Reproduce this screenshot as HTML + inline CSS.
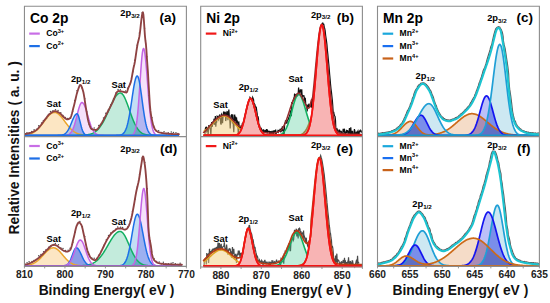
<!DOCTYPE html>
<html><head><meta charset="utf-8"><style>
html,body{margin:0;padding:0;background:#fff;}
body{width:550px;height:303px;overflow:hidden;}
svg{display:block;font-family:"Liberation Sans",sans-serif;font-weight:bold;}
</style></head><body>
<svg width="550" height="303" viewBox="0 0 550 303">
<rect width="550" height="303" fill="#fff"/>
<path d="M24.9,135.4 L24.9,135 L25.4,134.94 L25.9,134.88 L26.4,134.8 L26.9,134.72 L27.4,134.63 L27.9,134.53 L28.4,134.41 L28.9,134.29 L29.4,134.15 L29.9,134 L30.4,133.83 L30.9,133.65 L31.4,133.45 L31.9,133.23 L32.4,132.99 L32.9,132.74 L33.4,132.46 L33.9,132.17 L34.4,131.85 L34.9,131.51 L35.4,131.14 L35.9,130.75 L36.4,130.34 L36.9,129.91 L37.4,129.45 L37.9,128.97 L38.4,128.46 L38.9,127.93 L39.4,127.38 L39.9,126.81 L40.4,126.23 L40.9,125.62 L41.4,125 L41.9,124.36 L42.4,123.71 L42.9,123.05 L43.4,122.39 L43.9,121.72 L44.4,121.05 L44.9,120.38 L45.4,119.72 L45.9,119.06 L46.4,118.42 L46.9,117.79 L47.4,117.18 L47.9,116.59 L48.4,116.03 L48.9,115.5 L49.4,115.01 L49.9,114.54 L50.4,114.12 L50.9,113.74 L51.4,113.4 L51.9,113.11 L52.4,112.86 L52.9,112.67 L53.4,112.53 L53.9,112.44 L54.4,112.4 L54.9,112.42 L55.4,112.49 L55.9,112.61 L56.4,112.79 L56.9,113.02 L57.4,113.29 L57.9,113.62 L58.4,113.99 L58.9,114.41 L59.4,114.86 L59.9,115.35 L60.4,115.88 L60.9,116.44 L61.4,117.02 L61.9,117.63 L62.4,118.26 L62.9,118.91 L63.4,119.57 L63.9,120.23 L64.4,120.91 L64.9,121.59 L65.4,122.26 L65.9,122.93 L66.4,123.6 L66.9,124.26 L67.4,124.9 L67.9,125.53 L68.4,126.15 L68.9,126.74 L69.4,127.32 L69.9,127.88 L70.4,128.41 L70.9,128.93 L71.4,129.41 L71.9,129.88 L72.4,130.32 L72.9,130.74 L73.4,131.13 L73.9,131.5 L74.4,131.84 L74.9,132.16 L75.4,132.46 L75.9,132.74 L76.4,133 L76.9,133.24 L77.4,133.46 L77.9,133.66 L78.4,133.84 L78.9,134.01 L79.4,134.16 L79.9,134.3 L80.4,134.43 L80.9,134.54 L81.4,134.64 L81.9,134.73 L82.4,134.81 L82.9,134.89 L83.4,134.95 L83.9,135.01 L84.4,135.06 L84.9,135.1 L85.4,135.14 L85.9,135.18 L86.4,135.21 L86.9,135.24 L87.4,135.26 L87.9,135.28 L88.4,135.3 L88.9,135.31 L88.9,135.4Z" fill="#fce6c3"/>
<path d="M80.4,135.4 L80.4,135.32 L80.9,135.3 L81.4,135.29 L81.9,135.27 L82.4,135.25 L82.9,135.22 L83.4,135.19 L83.9,135.16 L84.4,135.13 L84.9,135.09 L85.4,135.04 L85.9,134.99 L86.4,134.93 L86.9,134.86 L87.4,134.79 L87.9,134.7 L88.4,134.61 L88.9,134.51 L89.4,134.39 L89.9,134.26 L90.4,134.12 L90.9,133.96 L91.4,133.79 L91.9,133.6 L92.4,133.39 L92.9,133.16 L93.4,132.91 L93.9,132.63 L94.4,132.33 L94.9,132.01 L95.4,131.66 L95.9,131.28 L96.4,130.87 L96.9,130.43 L97.4,129.96 L97.9,129.46 L98.4,128.92 L98.9,128.34 L99.4,127.73 L99.9,127.09 L100.4,126.41 L100.9,125.69 L101.4,124.93 L101.9,124.14 L102.4,123.31 L102.9,122.44 L103.4,121.54 L103.9,120.61 L104.4,119.64 L104.9,118.65 L105.4,117.62 L105.9,116.58 L106.4,115.5 L106.9,114.41 L107.4,113.3 L107.9,112.18 L108.4,111.05 L108.9,109.91 L109.4,108.77 L109.9,107.64 L110.4,106.51 L110.9,105.4 L111.4,104.31 L111.9,103.24 L112.4,102.19 L112.9,101.18 L113.4,100.21 L113.9,99.28 L114.4,98.4 L114.9,97.58 L115.4,96.8 L115.9,96.1 L116.4,95.45 L116.9,94.88 L117.4,94.37 L117.9,93.95 L118.4,93.6 L118.9,93.32 L119.4,93.13 L119.9,93.03 L120.4,93 L120.9,93.09 L121.4,93.32 L121.9,93.66 L122.4,94.14 L122.9,94.73 L123.4,95.44 L123.9,96.26 L124.4,97.18 L124.9,98.19 L125.4,99.29 L125.9,100.46 L126.4,101.7 L126.9,103 L127.4,104.34 L127.9,105.72 L128.4,107.12 L128.9,108.54 L129.4,109.97 L129.9,111.4 L130.4,112.81 L130.9,114.21 L131.4,115.58 L131.9,116.92 L132.4,118.23 L132.9,119.49 L133.4,120.7 L133.9,121.86 L134.4,122.97 L134.9,124.03 L135.4,125.02 L135.9,125.96 L136.4,126.84 L136.9,127.66 L137.4,128.43 L137.9,129.13 L138.4,129.79 L138.9,130.39 L139.4,130.94 L139.9,131.44 L140.4,131.9 L140.9,132.31 L141.4,132.68 L141.9,133.02 L142.4,133.32 L142.9,133.59 L143.4,133.83 L143.9,134.04 L144.4,134.22 L144.9,134.39 L145.4,134.53 L145.9,134.66 L146.4,134.77 L146.9,134.86 L147.4,134.94 L147.9,135.02 L148.4,135.08 L148.9,135.13 L149.4,135.17 L149.9,135.21 L150.4,135.24 L150.9,135.27 L151.4,135.29 L151.9,135.31 L151.9,135.4Z" fill="#c3ebdc"/>
<path d="M64.9,135.4 L64.9,135.31 L65.4,135.27 L65.9,135.22 L66.4,135.15 L66.9,135.06 L67.4,134.94 L67.9,134.78 L68.4,134.59 L68.9,134.34 L69.4,134.03 L69.9,133.64 L70.4,133.17 L70.9,132.6 L71.4,131.92 L71.9,131.12 L72.4,130.19 L72.9,129.12 L73.4,127.9 L73.9,126.54 L74.4,125.04 L74.9,123.4 L75.4,121.63 L75.9,119.77 L76.4,117.83 L76.9,115.84 L77.4,113.85 L77.9,111.89 L78.4,110.01 L78.9,108.25 L79.4,106.66 L79.9,105.28 L80.4,104.14 L80.9,103.29 L81.4,102.74 L81.9,102.51 L82.4,102.58 L82.9,102.91 L83.4,103.48 L83.9,104.28 L84.4,105.29 L84.9,106.49 L85.4,107.86 L85.9,109.37 L86.4,110.98 L86.9,112.66 L87.4,114.4 L87.9,116.15 L88.4,117.88 L88.9,119.59 L89.4,121.24 L89.9,122.81 L90.4,124.29 L90.9,125.68 L91.4,126.95 L91.9,128.12 L92.4,129.17 L92.9,130.11 L93.4,130.95 L93.9,131.68 L94.4,132.31 L94.9,132.86 L95.4,133.32 L95.9,133.72 L96.4,134.05 L96.9,134.32 L97.4,134.54 L97.9,134.73 L98.4,134.88 L98.9,134.99 L99.4,135.09 L99.9,135.16 L100.4,135.22 L100.9,135.27 L101.4,135.3 L101.4,135.4Z" fill="#f5e1fa"/>
<path d="M130.9,135.4 L130.9,135.27 L131.4,135.18 L131.9,135.04 L132.4,134.83 L132.9,134.51 L133.4,134.05 L133.9,133.38 L134.4,132.44 L134.9,131.15 L135.4,129.42 L135.9,127.17 L136.4,124.28 L136.9,120.7 L137.4,116.35 L137.9,111.21 L138.4,105.31 L138.9,98.72 L139.4,91.59 L139.9,84.14 L140.4,76.63 L140.9,69.38 L141.4,62.73 L141.9,57.03 L142.4,52.59 L142.9,49.67 L143.4,48.44 L143.9,48.83 L144.4,50.57 L144.9,53.57 L145.4,57.68 L145.9,62.73 L146.4,68.51 L146.9,74.78 L147.4,81.31 L147.9,87.89 L148.4,94.32 L148.9,100.42 L149.4,106.09 L149.9,111.21 L150.4,115.75 L150.9,119.68 L151.4,123.03 L151.9,125.81 L152.4,128.08 L152.9,129.9 L153.4,131.33 L153.9,132.44 L154.4,133.28 L154.9,133.9 L155.4,134.36 L155.9,134.69 L156.4,134.92 L156.9,135.08 L157.4,135.19 L157.9,135.27 L158.4,135.32 L158.4,135.4Z" fill="#f5e1fa"/>
<path d="M59.4,135.4 L59.4,135.31 L59.9,135.28 L60.4,135.24 L60.9,135.19 L61.4,135.12 L61.9,135.03 L62.4,134.91 L62.9,134.77 L63.4,134.6 L63.9,134.38 L64.4,134.12 L64.9,133.81 L65.4,133.43 L65.9,132.99 L66.4,132.48 L66.9,131.89 L67.4,131.21 L67.9,130.45 L68.4,129.61 L68.9,128.68 L69.4,127.67 L69.9,126.59 L70.4,125.45 L70.9,124.26 L71.4,123.04 L71.9,121.8 L72.4,120.58 L72.9,119.39 L73.4,118.25 L73.9,117.2 L74.4,116.25 L74.9,115.43 L75.4,114.76 L75.9,114.26 L76.4,113.94 L76.9,113.8 L77.4,113.97 L77.9,114.64 L78.4,115.77 L78.9,117.29 L79.4,119.1 L79.9,121.07 L80.4,123.12 L80.9,125.12 L81.4,127.01 L81.9,128.71 L82.4,130.2 L82.9,131.45 L83.4,132.48 L83.9,133.29 L84.4,133.91 L84.9,134.37 L85.4,134.71 L85.9,134.95 L86.4,135.11 L86.9,135.22 L87.4,135.29 L87.4,135.4Z" fill="#c3def5"/>
<path d="M118.4,135.4 L118.4,135.29 L118.9,135.25 L119.4,135.19 L119.9,135.11 L120.4,135.01 L120.9,134.88 L121.4,134.7 L121.9,134.48 L122.4,134.2 L122.9,133.84 L123.4,133.4 L123.9,132.85 L124.4,132.18 L124.9,131.38 L125.4,130.42 L125.9,129.28 L126.4,127.95 L126.9,126.41 L127.4,124.65 L127.9,122.66 L128.4,120.43 L128.9,117.97 L129.4,115.29 L129.9,112.39 L130.4,109.32 L130.9,106.09 L131.4,102.76 L131.9,99.37 L132.4,95.98 L132.9,92.66 L133.4,89.46 L133.9,86.47 L134.4,83.74 L134.9,81.34 L135.4,79.33 L135.9,77.76 L136.4,76.67 L136.9,76.1 L137.4,76.05 L137.9,76.63 L138.4,77.83 L138.9,79.61 L139.4,81.92 L139.9,84.69 L140.4,87.84 L140.9,91.27 L141.4,94.89 L141.9,98.62 L142.4,102.37 L142.9,106.05 L143.4,109.61 L143.9,112.98 L144.4,116.12 L144.9,118.99 L145.4,121.59 L145.9,123.91 L146.4,125.94 L146.9,127.69 L147.4,129.19 L147.9,130.45 L148.4,131.5 L148.9,132.35 L149.4,133.05 L149.9,133.61 L150.4,134.05 L150.9,134.39 L151.4,134.65 L151.9,134.85 L152.4,135.01 L152.9,135.12 L153.4,135.2 L153.9,135.26 L154.4,135.3 L154.4,135.4Z" fill="#c3def5"/>
<path d="M80.4,135.4 L80.4,135.32 L80.9,135.3 L81.4,135.29 L81.9,135.27 L82.4,135.25 L82.9,135.22 L83.4,135.19 L83.9,135.16 L84.4,135.13 L84.9,135.1 L85.4,135.14 L85.9,135.18 L86.4,135.21 L86.9,135.24 L87.4,135.26 L87.9,135.28 L88.4,135.3 L88.9,135.31 L88.9,135.4Z" fill="#c8e0c8"/>
<path d="M64.9,135.4 L64.9,135.31 L65.4,135.27 L65.9,135.22 L66.4,135.15 L66.9,135.06 L67.4,134.94 L67.9,134.78 L68.4,134.59 L68.9,134.34 L69.4,134.03 L69.9,133.64 L70.4,133.17 L70.9,132.6 L71.4,131.92 L71.9,131.12 L72.4,130.32 L72.9,130.74 L73.4,131.13 L73.9,131.5 L74.4,131.84 L74.9,132.16 L75.4,132.46 L75.9,132.74 L76.4,133 L76.9,133.24 L77.4,133.46 L77.9,133.66 L78.4,133.84 L78.9,134.01 L79.4,134.16 L79.9,134.3 L80.4,134.43 L80.9,134.54 L81.4,134.64 L81.9,134.73 L82.4,134.81 L82.9,134.89 L83.4,134.95 L83.9,135.01 L84.4,135.06 L84.9,135.1 L85.4,135.14 L85.9,135.18 L86.4,135.21 L86.9,135.24 L87.4,135.26 L87.9,135.28 L88.4,135.3 L88.9,135.31 L88.9,135.4Z" fill="#e8d0e8"/>
<path d="M59.4,135.4 L59.4,135.31 L59.9,135.28 L60.4,135.24 L60.9,135.19 L61.4,135.12 L61.9,135.03 L62.4,134.91 L62.9,134.77 L63.4,134.6 L63.9,134.38 L64.4,134.12 L64.9,133.81 L65.4,133.43 L65.9,132.99 L66.4,132.48 L66.9,131.89 L67.4,131.21 L67.9,130.45 L68.4,129.61 L68.9,128.68 L69.4,127.67 L69.9,127.88 L70.4,128.41 L70.9,128.93 L71.4,129.41 L71.9,129.88 L72.4,130.32 L72.9,130.74 L73.4,131.13 L73.9,131.5 L74.4,131.84 L74.9,132.16 L75.4,132.46 L75.9,132.74 L76.4,133 L76.9,133.24 L77.4,133.46 L77.9,133.66 L78.4,133.84 L78.9,134.01 L79.4,134.16 L79.9,134.3 L80.4,134.43 L80.9,134.54 L81.4,134.64 L81.9,134.73 L82.4,134.81 L82.9,134.89 L83.4,134.95 L83.9,135.01 L84.4,135.06 L84.9,135.1 L85.4,135.14 L85.9,135.18 L86.4,135.21 L86.9,135.24 L87.4,135.29 L87.4,135.4Z" fill="#b8c8e0"/>
<path d="M80.4,135.4 L80.4,135.32 L80.9,135.3 L81.4,135.29 L81.9,135.27 L82.4,135.25 L82.9,135.22 L83.4,135.19 L83.9,135.16 L84.4,135.13 L84.9,135.09 L85.4,135.04 L85.9,134.99 L86.4,134.93 L86.9,134.86 L87.4,134.79 L87.9,134.7 L88.4,134.61 L88.9,134.51 L89.4,134.39 L89.9,134.26 L90.4,134.12 L90.9,133.96 L91.4,133.79 L91.9,133.6 L92.4,133.39 L92.9,133.16 L93.4,132.91 L93.9,132.63 L94.4,132.33 L94.9,132.86 L95.4,133.32 L95.9,133.72 L96.4,134.05 L96.9,134.32 L97.4,134.54 L97.9,134.73 L98.4,134.88 L98.9,134.99 L99.4,135.09 L99.9,135.16 L100.4,135.22 L100.9,135.27 L101.4,135.3 L101.4,135.4Z" fill="#8cc0d0"/>
<path d="M130.9,135.4 L130.9,135.27 L131.4,135.18 L131.9,135.04 L132.4,134.83 L132.9,134.51 L133.4,134.05 L133.9,133.38 L134.4,132.44 L134.9,131.15 L135.4,129.42 L135.9,127.17 L136.4,126.84 L136.9,127.66 L137.4,128.43 L137.9,129.13 L138.4,129.79 L138.9,130.39 L139.4,130.94 L139.9,131.44 L140.4,131.9 L140.9,132.31 L141.4,132.68 L141.9,133.02 L142.4,133.32 L142.9,133.59 L143.4,133.83 L143.9,134.04 L144.4,134.22 L144.9,134.39 L145.4,134.53 L145.9,134.66 L146.4,134.77 L146.9,134.86 L147.4,134.94 L147.9,135.02 L148.4,135.08 L148.9,135.13 L149.4,135.17 L149.9,135.21 L150.4,135.24 L150.9,135.27 L151.4,135.29 L151.9,135.31 L151.9,135.4Z" fill="#8cc0d0"/>
<path d="M80.4,135.4 L80.4,135.32 L80.9,135.3 L81.4,135.29 L81.9,135.27 L82.4,135.25 L82.9,135.22 L83.4,135.19 L83.9,135.16 L84.4,135.13 L84.9,135.09 L85.4,135.04 L85.9,134.99 L86.4,135.11 L86.9,135.22 L87.4,135.29 L87.4,135.4Z" fill="#6ec8c8"/>
<path d="M118.4,135.4 L118.4,135.29 L118.9,135.25 L119.4,135.19 L119.9,135.11 L120.4,135.01 L120.9,134.88 L121.4,134.7 L121.9,134.48 L122.4,134.2 L122.9,133.84 L123.4,133.4 L123.9,132.85 L124.4,132.18 L124.9,131.38 L125.4,130.42 L125.9,129.28 L126.4,127.95 L126.9,126.41 L127.4,124.65 L127.9,122.66 L128.4,120.43 L128.9,117.97 L129.4,115.29 L129.9,112.39 L130.4,112.81 L130.9,114.21 L131.4,115.58 L131.9,116.92 L132.4,118.23 L132.9,119.49 L133.4,120.7 L133.9,121.86 L134.4,122.97 L134.9,124.03 L135.4,125.02 L135.9,125.96 L136.4,126.84 L136.9,127.66 L137.4,128.43 L137.9,129.13 L138.4,129.79 L138.9,130.39 L139.4,130.94 L139.9,131.44 L140.4,131.9 L140.9,132.31 L141.4,132.68 L141.9,133.02 L142.4,133.32 L142.9,133.59 L143.4,133.83 L143.9,134.04 L144.4,134.22 L144.9,134.39 L145.4,134.53 L145.9,134.66 L146.4,134.77 L146.9,134.86 L147.4,134.94 L147.9,135.02 L148.4,135.08 L148.9,135.13 L149.4,135.17 L149.9,135.21 L150.4,135.24 L150.9,135.27 L151.4,135.29 L151.9,135.31 L151.9,135.4Z" fill="#6ec8c8"/>
<path d="M64.9,135.4 L64.9,135.31 L65.4,135.27 L65.9,135.22 L66.4,135.15 L66.9,135.06 L67.4,134.94 L67.9,134.78 L68.4,134.59 L68.9,134.34 L69.4,134.03 L69.9,133.64 L70.4,133.17 L70.9,132.6 L71.4,131.92 L71.9,131.12 L72.4,130.19 L72.9,129.12 L73.4,127.9 L73.9,126.54 L74.4,125.04 L74.9,123.4 L75.4,121.63 L75.9,119.77 L76.4,117.83 L76.9,115.84 L77.4,113.97 L77.9,114.64 L78.4,115.77 L78.9,117.29 L79.4,119.1 L79.9,121.07 L80.4,123.12 L80.9,125.12 L81.4,127.01 L81.9,128.71 L82.4,130.2 L82.9,131.45 L83.4,132.48 L83.9,133.29 L84.4,133.91 L84.9,134.37 L85.4,134.71 L85.9,134.95 L86.4,135.11 L86.9,135.22 L87.4,135.29 L87.4,135.4Z" fill="#b4b6f0"/>
<path d="M130.9,135.4 L130.9,135.27 L131.4,135.18 L131.9,135.04 L132.4,134.83 L132.9,134.51 L133.4,134.05 L133.9,133.38 L134.4,132.44 L134.9,131.15 L135.4,129.42 L135.9,127.17 L136.4,124.28 L136.9,120.7 L137.4,116.35 L137.9,111.21 L138.4,105.31 L138.9,98.72 L139.4,91.59 L139.9,84.69 L140.4,87.84 L140.9,91.27 L141.4,94.89 L141.9,98.62 L142.4,102.37 L142.9,106.05 L143.4,109.61 L143.9,112.98 L144.4,116.12 L144.9,118.99 L145.4,121.59 L145.9,123.91 L146.4,125.94 L146.9,127.69 L147.4,129.19 L147.9,130.45 L148.4,131.5 L148.9,132.35 L149.4,133.05 L149.9,133.61 L150.4,134.05 L150.9,134.39 L151.4,134.65 L151.9,134.85 L152.4,135.01 L152.9,135.12 L153.4,135.2 L153.9,135.26 L154.4,135.3 L154.4,135.4Z" fill="#b4b6f0"/>
<path d="M64.9,135.4 L64.9,135.31 L65.4,135.27 L65.9,135.22 L66.4,135.15 L66.9,135.06 L67.4,134.94 L67.9,134.78 L68.4,134.59 L68.9,134.34 L69.4,134.03 L69.9,133.64 L70.4,133.17 L70.9,132.6 L71.4,131.92 L71.9,131.12 L72.4,130.32 L72.9,130.74 L73.4,131.13 L73.9,131.5 L74.4,131.84 L74.9,132.16 L75.4,132.46 L75.9,132.74 L76.4,133 L76.9,133.24 L77.4,133.46 L77.9,133.66 L78.4,133.84 L78.9,134.01 L79.4,134.16 L79.9,134.3 L80.4,134.43 L80.9,134.54 L81.4,134.64 L81.9,134.73 L82.4,134.81 L82.9,134.89 L83.4,134.95 L83.9,135.01 L84.4,135.06 L84.9,135.1 L85.4,135.14 L85.9,135.18 L86.4,135.21 L86.9,135.24 L87.4,135.29 L87.4,135.4Z" fill="#a8b0e0"/>
<path d="M80.4,135.4 L80.4,135.32 L80.9,135.3 L81.4,135.29 L81.9,135.27 L82.4,135.25 L82.9,135.22 L83.4,135.19 L83.9,135.16 L84.4,135.13 L84.9,135.09 L85.4,135.04 L85.9,134.99 L86.4,135.11 L86.9,135.22 L87.4,135.29 L87.4,135.4Z" fill="#66aac0"/>
<path d="M130.9,135.4 L130.9,135.27 L131.4,135.18 L131.9,135.04 L132.4,134.83 L132.9,134.51 L133.4,134.05 L133.9,133.38 L134.4,132.44 L134.9,131.15 L135.4,129.42 L135.9,127.17 L136.4,126.84 L136.9,127.66 L137.4,128.43 L137.9,129.13 L138.4,129.79 L138.9,130.39 L139.4,130.94 L139.9,131.44 L140.4,131.9 L140.9,132.31 L141.4,132.68 L141.9,133.02 L142.4,133.32 L142.9,133.59 L143.4,133.83 L143.9,134.04 L144.4,134.22 L144.9,134.39 L145.4,134.53 L145.9,134.66 L146.4,134.77 L146.9,134.86 L147.4,134.94 L147.9,135.02 L148.4,135.08 L148.9,135.13 L149.4,135.17 L149.9,135.21 L150.4,135.24 L150.9,135.27 L151.4,135.29 L151.9,135.31 L151.9,135.4Z" fill="#66aac0"/>
<path d="M64.9,135.4 L64.9,135.31 L65.4,135.27 L65.9,135.22 L66.4,135.15 L66.9,135.06 L67.4,134.94 L67.9,134.78 L68.4,134.59 L68.9,134.34 L69.4,134.03 L69.9,133.64 L70.4,133.17 L70.9,132.6 L71.4,131.92 L71.9,131.12 L72.4,130.19 L72.9,129.12 L73.4,127.9 L73.9,126.54 L74.4,125.04 L74.9,123.4 L75.4,121.63 L75.9,119.77 L76.4,117.83 L76.9,115.84 L77.4,113.97 L77.9,114.64 L78.4,115.77 L78.9,117.29 L79.4,119.1 L79.9,121.07 L80.4,123.12 L80.9,125.12 L81.4,127.01 L81.9,128.71 L82.4,130.2 L82.9,131.45 L83.4,132.48 L83.9,133.29 L84.4,133.91 L84.9,134.37 L85.4,134.71 L85.9,134.95 L86.4,135.11 L86.9,135.22 L87.4,135.29 L87.4,135.4Z" fill="#98a8ec"/>
<path d="M24.9,135 L25.4,134.94 L25.9,134.88 L26.4,134.8 L26.9,134.72 L27.4,134.63 L27.9,134.53 L28.4,134.41 L28.9,134.29 L29.4,134.15 L29.9,134 L30.4,133.83 L30.9,133.65 L31.4,133.45 L31.9,133.23 L32.4,132.99 L32.9,132.74 L33.4,132.46 L33.9,132.17 L34.4,131.85 L34.9,131.51 L35.4,131.14 L35.9,130.75 L36.4,130.34 L36.9,129.91 L37.4,129.45 L37.9,128.97 L38.4,128.46 L38.9,127.93 L39.4,127.38 L39.9,126.81 L40.4,126.23 L40.9,125.62 L41.4,125 L41.9,124.36 L42.4,123.71 L42.9,123.05 L43.4,122.39 L43.9,121.72 L44.4,121.05 L44.9,120.38 L45.4,119.72 L45.9,119.06 L46.4,118.42 L46.9,117.79 L47.4,117.18 L47.9,116.59 L48.4,116.03 L48.9,115.5 L49.4,115.01 L49.9,114.54 L50.4,114.12 L50.9,113.74 L51.4,113.4 L51.9,113.11 L52.4,112.86 L52.9,112.67 L53.4,112.53 L53.9,112.44 L54.4,112.4 L54.9,112.42 L55.4,112.49 L55.9,112.61 L56.4,112.79 L56.9,113.02 L57.4,113.29 L57.9,113.62 L58.4,113.99 L58.9,114.41 L59.4,114.86 L59.9,115.35 L60.4,115.88 L60.9,116.44 L61.4,117.02 L61.9,117.63 L62.4,118.26 L62.9,118.91 L63.4,119.57 L63.9,120.23 L64.4,120.91 L64.9,121.59 L65.4,122.26 L65.9,122.93 L66.4,123.6 L66.9,124.26 L67.4,124.9 L67.9,125.53 L68.4,126.15 L68.9,126.74 L69.4,127.32 L69.9,127.88 L70.4,128.41 L70.9,128.93 L71.4,129.41 L71.9,129.88 L72.4,130.32 L72.9,130.74 L73.4,131.13 L73.9,131.5 L74.4,131.84 L74.9,132.16 L75.4,132.46 L75.9,132.74 L76.4,133 L76.9,133.24 L77.4,133.46 L77.9,133.66 L78.4,133.84 L78.9,134.01 L79.4,134.16 L79.9,134.3 L80.4,134.43 L80.9,134.54 L81.4,134.64 L81.9,134.73 L82.4,134.81 L82.9,134.89 L83.4,134.95 L83.9,135.01 L84.4,135.06 L84.9,135.1 L85.4,135.14 L85.9,135.18 L86.4,135.21 L86.9,135.24 L87.4,135.26 L87.9,135.28 L88.4,135.3 L88.9,135.31 L89.4,135.33 L89.9,135.34 L90.4,135.35 L90.9,135.36 L91.4,135.36 L91.9,135.37 L92.4,135.37 L92.9,135.38 L93.4,135.38 L93.9,135.38 L94.4,135.39 L94.9,135.39 L95.4,135.39 L95.9,135.39 L96.4,135.39 L96.9,135.4 L97.4,135.4 L97.9,135.4 L98.4,135.4 L98.9,135.4 L99.4,135.4 L99.9,135.4 L100.4,135.4 L100.9,135.4 L101.4,135.4 L101.9,135.4 L102.4,135.4 L102.9,135.4 L103.4,135.4 L103.9,135.4 L104.4,135.4 L104.9,135.4 L105.4,135.4 L105.9,135.4 L106.4,135.4 L106.9,135.4 L107.4,135.4 L107.9,135.4 L108.4,135.4 L108.9,135.4 L109.4,135.4 L109.9,135.4 L110.4,135.4 L110.9,135.4 L111.4,135.4 L111.9,135.4 L112.4,135.4 L112.9,135.4 L113.4,135.4 L113.9,135.4 L114.4,135.4 L114.9,135.4 L115.4,135.4 L115.9,135.4 L116.4,135.4 L116.9,135.4 L117.4,135.4 L117.9,135.4 L118.4,135.4 L118.9,135.4 L119.4,135.4 L119.9,135.4 L120.4,135.4 L120.9,135.4 L121.4,135.4 L121.9,135.4 L122.4,135.4 L122.9,135.4 L123.4,135.4 L123.9,135.4 L124.4,135.4 L124.9,135.4 L125.4,135.4 L125.9,135.4 L126.4,135.4 L126.9,135.4 L127.4,135.4 L127.9,135.4 L128.4,135.4 L128.9,135.4 L129.4,135.4 L129.9,135.4 L130.4,135.4 L130.9,135.4 L131.4,135.4 L131.9,135.4 L132.4,135.4 L132.9,135.4 L133.4,135.4 L133.9,135.4 L134.4,135.4 L134.9,135.4 L135.4,135.4 L135.9,135.4 L136.4,135.4 L136.9,135.4 L137.4,135.4 L137.9,135.4 L138.4,135.4 L138.9,135.4 L139.4,135.4 L139.9,135.4 L140.4,135.4 L140.9,135.4 L141.4,135.4 L141.9,135.4 L142.4,135.4 L142.9,135.4 L143.4,135.4 L143.9,135.4 L144.4,135.4 L144.9,135.4 L145.4,135.4 L145.9,135.4 L146.4,135.4 L146.9,135.4 L147.4,135.4 L147.9,135.4 L148.4,135.4 L148.9,135.4 L149.4,135.4 L149.9,135.4 L150.4,135.4 L150.9,135.4 L151.4,135.4 L151.9,135.4 L152.4,135.4 L152.9,135.4 L153.4,135.4 L153.9,135.4 L154.4,135.4 L154.9,135.4 L155.4,135.4 L155.9,135.4 L156.4,135.4 L156.9,135.4 L157.4,135.4 L157.9,135.4 L158.4,135.4 L158.9,135.4 L159.4,135.4 L159.9,135.4 L160.4,135.4 L160.9,135.4 L161.4,135.4 L161.9,135.4 L162.4,135.4 L162.9,135.4 L163.4,135.4 L163.9,135.4 L164.4,135.4 L164.9,135.4 L165.4,135.4 L165.9,135.4 L166.4,135.4 L166.9,135.4 L167.4,135.4 L167.9,135.4 L168.4,135.4 L168.9,135.4 L169.4,135.4 L169.9,135.4 L170.4,135.4 L170.9,135.4 L171.4,135.4 L171.9,135.4 L172.4,135.4 L172.9,135.4 L173.4,135.4 L173.9,135.4 L174.4,135.4 L174.9,135.4 L175.4,135.4 L175.9,135.4 L176.4,135.4 L176.9,135.4 L177.4,135.4 L177.9,135.4 L178.4,135.4 L178.9,135.4" fill="none" stroke="#eba42a" stroke-width="1.5" stroke-linejoin="round"/>
<path d="M24.9,135.4 L25.4,135.4 L25.9,135.4 L26.4,135.4 L26.9,135.4 L27.4,135.4 L27.9,135.4 L28.4,135.4 L28.9,135.4 L29.4,135.4 L29.9,135.4 L30.4,135.4 L30.9,135.4 L31.4,135.4 L31.9,135.4 L32.4,135.4 L32.9,135.4 L33.4,135.4 L33.9,135.4 L34.4,135.4 L34.9,135.4 L35.4,135.4 L35.9,135.4 L36.4,135.4 L36.9,135.4 L37.4,135.4 L37.9,135.4 L38.4,135.4 L38.9,135.4 L39.4,135.4 L39.9,135.4 L40.4,135.4 L40.9,135.4 L41.4,135.4 L41.9,135.4 L42.4,135.4 L42.9,135.4 L43.4,135.4 L43.9,135.4 L44.4,135.4 L44.9,135.4 L45.4,135.4 L45.9,135.4 L46.4,135.4 L46.9,135.4 L47.4,135.4 L47.9,135.4 L48.4,135.4 L48.9,135.4 L49.4,135.4 L49.9,135.4 L50.4,135.4 L50.9,135.4 L51.4,135.4 L51.9,135.4 L52.4,135.4 L52.9,135.4 L53.4,135.4 L53.9,135.4 L54.4,135.4 L54.9,135.4 L55.4,135.4 L55.9,135.4 L56.4,135.4 L56.9,135.4 L57.4,135.4 L57.9,135.4 L58.4,135.4 L58.9,135.4 L59.4,135.4 L59.9,135.4 L60.4,135.4 L60.9,135.4 L61.4,135.4 L61.9,135.4 L62.4,135.4 L62.9,135.4 L63.4,135.4 L63.9,135.4 L64.4,135.4 L64.9,135.4 L65.4,135.4 L65.9,135.4 L66.4,135.4 L66.9,135.4 L67.4,135.4 L67.9,135.4 L68.4,135.4 L68.9,135.4 L69.4,135.4 L69.9,135.4 L70.4,135.4 L70.9,135.4 L71.4,135.4 L71.9,135.4 L72.4,135.39 L72.9,135.39 L73.4,135.39 L73.9,135.39 L74.4,135.39 L74.9,135.39 L75.4,135.38 L75.9,135.38 L76.4,135.38 L76.9,135.37 L77.4,135.37 L77.9,135.36 L78.4,135.36 L78.9,135.35 L79.4,135.34 L79.9,135.33 L80.4,135.32 L80.9,135.3 L81.4,135.29 L81.9,135.27 L82.4,135.25 L82.9,135.22 L83.4,135.19 L83.9,135.16 L84.4,135.13 L84.9,135.09 L85.4,135.04 L85.9,134.99 L86.4,134.93 L86.9,134.86 L87.4,134.79 L87.9,134.7 L88.4,134.61 L88.9,134.51 L89.4,134.39 L89.9,134.26 L90.4,134.12 L90.9,133.96 L91.4,133.79 L91.9,133.6 L92.4,133.39 L92.9,133.16 L93.4,132.91 L93.9,132.63 L94.4,132.33 L94.9,132.01 L95.4,131.66 L95.9,131.28 L96.4,130.87 L96.9,130.43 L97.4,129.96 L97.9,129.46 L98.4,128.92 L98.9,128.34 L99.4,127.73 L99.9,127.09 L100.4,126.41 L100.9,125.69 L101.4,124.93 L101.9,124.14 L102.4,123.31 L102.9,122.44 L103.4,121.54 L103.9,120.61 L104.4,119.64 L104.9,118.65 L105.4,117.62 L105.9,116.58 L106.4,115.5 L106.9,114.41 L107.4,113.3 L107.9,112.18 L108.4,111.05 L108.9,109.91 L109.4,108.77 L109.9,107.64 L110.4,106.51 L110.9,105.4 L111.4,104.31 L111.9,103.24 L112.4,102.19 L112.9,101.18 L113.4,100.21 L113.9,99.28 L114.4,98.4 L114.9,97.58 L115.4,96.8 L115.9,96.1 L116.4,95.45 L116.9,94.88 L117.4,94.37 L117.9,93.95 L118.4,93.6 L118.9,93.32 L119.4,93.13 L119.9,93.03 L120.4,93 L120.9,93.09 L121.4,93.32 L121.9,93.66 L122.4,94.14 L122.9,94.73 L123.4,95.44 L123.9,96.26 L124.4,97.18 L124.9,98.19 L125.4,99.29 L125.9,100.46 L126.4,101.7 L126.9,103 L127.4,104.34 L127.9,105.72 L128.4,107.12 L128.9,108.54 L129.4,109.97 L129.9,111.4 L130.4,112.81 L130.9,114.21 L131.4,115.58 L131.9,116.92 L132.4,118.23 L132.9,119.49 L133.4,120.7 L133.9,121.86 L134.4,122.97 L134.9,124.03 L135.4,125.02 L135.9,125.96 L136.4,126.84 L136.9,127.66 L137.4,128.43 L137.9,129.13 L138.4,129.79 L138.9,130.39 L139.4,130.94 L139.9,131.44 L140.4,131.9 L140.9,132.31 L141.4,132.68 L141.9,133.02 L142.4,133.32 L142.9,133.59 L143.4,133.83 L143.9,134.04 L144.4,134.22 L144.9,134.39 L145.4,134.53 L145.9,134.66 L146.4,134.77 L146.9,134.86 L147.4,134.94 L147.9,135.02 L148.4,135.08 L148.9,135.13 L149.4,135.17 L149.9,135.21 L150.4,135.24 L150.9,135.27 L151.4,135.29 L151.9,135.31 L152.4,135.33 L152.9,135.34 L153.4,135.35 L153.9,135.36 L154.4,135.37 L154.9,135.37 L155.4,135.38 L155.9,135.38 L156.4,135.39 L156.9,135.39 L157.4,135.39 L157.9,135.39 L158.4,135.39 L158.9,135.4 L159.4,135.4 L159.9,135.4 L160.4,135.4 L160.9,135.4 L161.4,135.4 L161.9,135.4 L162.4,135.4 L162.9,135.4 L163.4,135.4 L163.9,135.4 L164.4,135.4 L164.9,135.4 L165.4,135.4 L165.9,135.4 L166.4,135.4 L166.9,135.4 L167.4,135.4 L167.9,135.4 L168.4,135.4 L168.9,135.4 L169.4,135.4 L169.9,135.4 L170.4,135.4 L170.9,135.4 L171.4,135.4 L171.9,135.4 L172.4,135.4 L172.9,135.4 L173.4,135.4 L173.9,135.4 L174.4,135.4 L174.9,135.4 L175.4,135.4 L175.9,135.4 L176.4,135.4 L176.9,135.4 L177.4,135.4 L177.9,135.4 L178.4,135.4 L178.9,135.4" fill="none" stroke="#12b062" stroke-width="1.5" stroke-linejoin="round"/>
<path d="M24.9,135.4 L25.4,135.4 L25.9,135.4 L26.4,135.4 L26.9,135.4 L27.4,135.4 L27.9,135.4 L28.4,135.4 L28.9,135.4 L29.4,135.4 L29.9,135.4 L30.4,135.4 L30.9,135.4 L31.4,135.4 L31.9,135.4 L32.4,135.4 L32.9,135.4 L33.4,135.4 L33.9,135.4 L34.4,135.4 L34.9,135.4 L35.4,135.4 L35.9,135.4 L36.4,135.4 L36.9,135.4 L37.4,135.4 L37.9,135.4 L38.4,135.4 L38.9,135.4 L39.4,135.4 L39.9,135.4 L40.4,135.4 L40.9,135.4 L41.4,135.4 L41.9,135.4 L42.4,135.4 L42.9,135.4 L43.4,135.4 L43.9,135.4 L44.4,135.4 L44.9,135.4 L45.4,135.4 L45.9,135.4 L46.4,135.4 L46.9,135.4 L47.4,135.4 L47.9,135.4 L48.4,135.4 L48.9,135.4 L49.4,135.4 L49.9,135.4 L50.4,135.4 L50.9,135.4 L51.4,135.4 L51.9,135.4 L52.4,135.4 L52.9,135.4 L53.4,135.4 L53.9,135.4 L54.4,135.4 L54.9,135.4 L55.4,135.4 L55.9,135.4 L56.4,135.4 L56.9,135.4 L57.4,135.4 L57.9,135.4 L58.4,135.4 L58.9,135.4 L59.4,135.4 L59.9,135.4 L60.4,135.4 L60.9,135.4 L61.4,135.39 L61.9,135.39 L62.4,135.38 L62.9,135.38 L63.4,135.37 L63.9,135.35 L64.4,135.33 L64.9,135.31 L65.4,135.27 L65.9,135.22 L66.4,135.15 L66.9,135.06 L67.4,134.94 L67.9,134.78 L68.4,134.59 L68.9,134.34 L69.4,134.03 L69.9,133.64 L70.4,133.17 L70.9,132.6 L71.4,131.92 L71.9,131.12 L72.4,130.19 L72.9,129.12 L73.4,127.9 L73.9,126.54 L74.4,125.04 L74.9,123.4 L75.4,121.63 L75.9,119.77 L76.4,117.83 L76.9,115.84 L77.4,113.85 L77.9,111.89 L78.4,110.01 L78.9,108.25 L79.4,106.66 L79.9,105.28 L80.4,104.14 L80.9,103.29 L81.4,102.74 L81.9,102.51 L82.4,102.58 L82.9,102.91 L83.4,103.48 L83.9,104.28 L84.4,105.29 L84.9,106.49 L85.4,107.86 L85.9,109.37 L86.4,110.98 L86.9,112.66 L87.4,114.4 L87.9,116.15 L88.4,117.88 L88.9,119.59 L89.4,121.24 L89.9,122.81 L90.4,124.29 L90.9,125.68 L91.4,126.95 L91.9,128.12 L92.4,129.17 L92.9,130.11 L93.4,130.95 L93.9,131.68 L94.4,132.31 L94.9,132.86 L95.4,133.32 L95.9,133.72 L96.4,134.05 L96.9,134.32 L97.4,134.54 L97.9,134.73 L98.4,134.88 L98.9,134.99 L99.4,135.09 L99.9,135.16 L100.4,135.22 L100.9,135.27 L101.4,135.3 L101.9,135.33 L102.4,135.35 L102.9,135.36 L103.4,135.37 L103.9,135.38 L104.4,135.39 L104.9,135.39 L105.4,135.39 L105.9,135.39 L106.4,135.4 L106.9,135.4 L107.4,135.4 L107.9,135.4 L108.4,135.4 L108.9,135.4 L109.4,135.4 L109.9,135.4 L110.4,135.4 L110.9,135.4 L111.4,135.4 L111.9,135.4 L112.4,135.4 L112.9,135.4 L113.4,135.4 L113.9,135.4 L114.4,135.4 L114.9,135.4 L115.4,135.4 L115.9,135.4 L116.4,135.4 L116.9,135.4 L117.4,135.4 L117.9,135.4 L118.4,135.4 L118.9,135.4 L119.4,135.4 L119.9,135.4 L120.4,135.4 L120.9,135.4 L121.4,135.4 L121.9,135.4 L122.4,135.4 L122.9,135.4 L123.4,135.4 L123.9,135.4 L124.4,135.4 L124.9,135.4 L125.4,135.4 L125.9,135.4 L126.4,135.4 L126.9,135.4 L127.4,135.4 L127.9,135.4 L128.4,135.39 L128.9,135.39 L129.4,135.37 L129.9,135.35 L130.4,135.32 L130.9,135.27 L131.4,135.18 L131.9,135.04 L132.4,134.83 L132.9,134.51 L133.4,134.05 L133.9,133.38 L134.4,132.44 L134.9,131.15 L135.4,129.42 L135.9,127.17 L136.4,124.28 L136.9,120.7 L137.4,116.35 L137.9,111.21 L138.4,105.31 L138.9,98.72 L139.4,91.59 L139.9,84.14 L140.4,76.63 L140.9,69.38 L141.4,62.73 L141.9,57.03 L142.4,52.59 L142.9,49.67 L143.4,48.44 L143.9,48.83 L144.4,50.57 L144.9,53.57 L145.4,57.68 L145.9,62.73 L146.4,68.51 L146.9,74.78 L147.4,81.31 L147.9,87.89 L148.4,94.32 L148.9,100.42 L149.4,106.09 L149.9,111.21 L150.4,115.75 L150.9,119.68 L151.4,123.03 L151.9,125.81 L152.4,128.08 L152.9,129.9 L153.4,131.33 L153.9,132.44 L154.4,133.28 L154.9,133.9 L155.4,134.36 L155.9,134.69 L156.4,134.92 L156.9,135.08 L157.4,135.19 L157.9,135.27 L158.4,135.32 L158.9,135.35 L159.4,135.37 L159.9,135.38 L160.4,135.39 L160.9,135.39 L161.4,135.4 L161.9,135.4 L162.4,135.4 L162.9,135.4 L163.4,135.4 L163.9,135.4 L164.4,135.4 L164.9,135.4 L165.4,135.4 L165.9,135.4 L166.4,135.4 L166.9,135.4 L167.4,135.4 L167.9,135.4 L168.4,135.4 L168.9,135.4 L169.4,135.4 L169.9,135.4 L170.4,135.4 L170.9,135.4 L171.4,135.4 L171.9,135.4 L172.4,135.4 L172.9,135.4 L173.4,135.4 L173.9,135.4 L174.4,135.4 L174.9,135.4 L175.4,135.4 L175.9,135.4 L176.4,135.4 L176.9,135.4 L177.4,135.4 L177.9,135.4 L178.4,135.4 L178.9,135.4" fill="none" stroke="#c464e4" stroke-width="1.5" stroke-linejoin="round"/>
<path d="M24.9,135.4 L25.4,135.4 L25.9,135.4 L26.4,135.4 L26.9,135.4 L27.4,135.4 L27.9,135.4 L28.4,135.4 L28.9,135.4 L29.4,135.4 L29.9,135.4 L30.4,135.4 L30.9,135.4 L31.4,135.4 L31.9,135.4 L32.4,135.4 L32.9,135.4 L33.4,135.4 L33.9,135.4 L34.4,135.4 L34.9,135.4 L35.4,135.4 L35.9,135.4 L36.4,135.4 L36.9,135.4 L37.4,135.4 L37.9,135.4 L38.4,135.4 L38.9,135.4 L39.4,135.4 L39.9,135.4 L40.4,135.4 L40.9,135.4 L41.4,135.4 L41.9,135.4 L42.4,135.4 L42.9,135.4 L43.4,135.4 L43.9,135.4 L44.4,135.4 L44.9,135.4 L45.4,135.4 L45.9,135.4 L46.4,135.4 L46.9,135.4 L47.4,135.4 L47.9,135.4 L48.4,135.4 L48.9,135.4 L49.4,135.4 L49.9,135.4 L50.4,135.4 L50.9,135.4 L51.4,135.4 L51.9,135.4 L52.4,135.4 L52.9,135.4 L53.4,135.4 L53.9,135.4 L54.4,135.4 L54.9,135.4 L55.4,135.39 L55.9,135.39 L56.4,135.39 L56.9,135.38 L57.4,135.38 L57.9,135.37 L58.4,135.35 L58.9,135.34 L59.4,135.31 L59.9,135.28 L60.4,135.24 L60.9,135.19 L61.4,135.12 L61.9,135.03 L62.4,134.91 L62.9,134.77 L63.4,134.6 L63.9,134.38 L64.4,134.12 L64.9,133.81 L65.4,133.43 L65.9,132.99 L66.4,132.48 L66.9,131.89 L67.4,131.21 L67.9,130.45 L68.4,129.61 L68.9,128.68 L69.4,127.67 L69.9,126.59 L70.4,125.45 L70.9,124.26 L71.4,123.04 L71.9,121.8 L72.4,120.58 L72.9,119.39 L73.4,118.25 L73.9,117.2 L74.4,116.25 L74.9,115.43 L75.4,114.76 L75.9,114.26 L76.4,113.94 L76.9,113.8 L77.4,113.97 L77.9,114.64 L78.4,115.77 L78.9,117.29 L79.4,119.1 L79.9,121.07 L80.4,123.12 L80.9,125.12 L81.4,127.01 L81.9,128.71 L82.4,130.2 L82.9,131.45 L83.4,132.48 L83.9,133.29 L84.4,133.91 L84.9,134.37 L85.4,134.71 L85.9,134.95 L86.4,135.11 L86.9,135.22 L87.4,135.29 L87.9,135.33 L88.4,135.36 L88.9,135.38 L89.4,135.39 L89.9,135.39 L90.4,135.4 L90.9,135.4 L91.4,135.4 L91.9,135.4 L92.4,135.4 L92.9,135.4 L93.4,135.4 L93.9,135.4 L94.4,135.4 L94.9,135.4 L95.4,135.4 L95.9,135.4 L96.4,135.4 L96.9,135.4 L97.4,135.4 L97.9,135.4 L98.4,135.4 L98.9,135.4 L99.4,135.4 L99.9,135.4 L100.4,135.4 L100.9,135.4 L101.4,135.4 L101.9,135.4 L102.4,135.4 L102.9,135.4 L103.4,135.4 L103.9,135.4 L104.4,135.4 L104.9,135.4 L105.4,135.4 L105.9,135.4 L106.4,135.4 L106.9,135.4 L107.4,135.4 L107.9,135.4 L108.4,135.4 L108.9,135.4 L109.4,135.4 L109.9,135.4 L110.4,135.4 L110.9,135.4 L111.4,135.4 L111.9,135.4 L112.4,135.4 L112.9,135.4 L113.4,135.4 L113.9,135.4 L114.4,135.39 L114.9,135.39 L115.4,135.39 L115.9,135.38 L116.4,135.37 L116.9,135.36 L117.4,135.34 L117.9,135.32 L118.4,135.29 L118.9,135.25 L119.4,135.19 L119.9,135.11 L120.4,135.01 L120.9,134.88 L121.4,134.7 L121.9,134.48 L122.4,134.2 L122.9,133.84 L123.4,133.4 L123.9,132.85 L124.4,132.18 L124.9,131.38 L125.4,130.42 L125.9,129.28 L126.4,127.95 L126.9,126.41 L127.4,124.65 L127.9,122.66 L128.4,120.43 L128.9,117.97 L129.4,115.29 L129.9,112.39 L130.4,109.32 L130.9,106.09 L131.4,102.76 L131.9,99.37 L132.4,95.98 L132.9,92.66 L133.4,89.46 L133.9,86.47 L134.4,83.74 L134.9,81.34 L135.4,79.33 L135.9,77.76 L136.4,76.67 L136.9,76.1 L137.4,76.05 L137.9,76.63 L138.4,77.83 L138.9,79.61 L139.4,81.92 L139.9,84.69 L140.4,87.84 L140.9,91.27 L141.4,94.89 L141.9,98.62 L142.4,102.37 L142.9,106.05 L143.4,109.61 L143.9,112.98 L144.4,116.12 L144.9,118.99 L145.4,121.59 L145.9,123.91 L146.4,125.94 L146.9,127.69 L147.4,129.19 L147.9,130.45 L148.4,131.5 L148.9,132.35 L149.4,133.05 L149.9,133.61 L150.4,134.05 L150.9,134.39 L151.4,134.65 L151.9,134.85 L152.4,135.01 L152.9,135.12 L153.4,135.2 L153.9,135.26 L154.4,135.3 L154.9,135.33 L155.4,135.36 L155.9,135.37 L156.4,135.38 L156.9,135.39 L157.4,135.39 L157.9,135.39 L158.4,135.4 L158.9,135.4 L159.4,135.4 L159.9,135.4 L160.4,135.4 L160.9,135.4 L161.4,135.4 L161.9,135.4 L162.4,135.4 L162.9,135.4 L163.4,135.4 L163.9,135.4 L164.4,135.4 L164.9,135.4 L165.4,135.4 L165.9,135.4 L166.4,135.4 L166.9,135.4 L167.4,135.4 L167.9,135.4 L168.4,135.4 L168.9,135.4 L169.4,135.4 L169.9,135.4 L170.4,135.4 L170.9,135.4 L171.4,135.4 L171.9,135.4 L172.4,135.4 L172.9,135.4 L173.4,135.4 L173.9,135.4 L174.4,135.4 L174.9,135.4 L175.4,135.4 L175.9,135.4 L176.4,135.4 L176.9,135.4 L177.4,135.4 L177.9,135.4 L178.4,135.4 L178.9,135.4" fill="none" stroke="#1c6fe8" stroke-width="1.5" stroke-linejoin="round"/>
<line x1="24.9" y1="135.4" x2="179.1" y2="135.4" stroke="#1c6fe8" stroke-width="1.8"/>
<g fill="#505050"><circle cx="26.95" cy="132.69" r="0.75"/><circle cx="29.27" cy="133.07" r="0.75"/><circle cx="31.77" cy="131.51" r="0.75"/><circle cx="34.11" cy="129.82" r="0.75"/><circle cx="36.73" cy="129.22" r="0.75"/><circle cx="38.74" cy="125.77" r="0.75"/><circle cx="41.55" cy="122.92" r="0.75"/><circle cx="43.33" cy="120.78" r="0.75"/><circle cx="46.47" cy="118.17" r="0.75"/><circle cx="48.59" cy="114.5" r="0.75"/><circle cx="50.51" cy="111.45" r="0.75"/><circle cx="52.95" cy="110.73" r="0.75"/><circle cx="55.49" cy="109.76" r="0.75"/><circle cx="58.07" cy="110.4" r="0.75"/><circle cx="60.77" cy="112.76" r="0.75"/><circle cx="63.01" cy="115.42" r="0.75"/><circle cx="65.43" cy="117.45" r="0.75"/><circle cx="67.52" cy="118.39" r="0.75"/><circle cx="70.5" cy="118.18" r="0.75"/><circle cx="72.67" cy="111.24" r="0.75"/><circle cx="74.68" cy="100.6" r="0.75"/><circle cx="76.96" cy="90.68" r="0.75"/><circle cx="79.62" cy="85.22" r="0.75"/><circle cx="82.01" cy="87.71" r="0.75"/><circle cx="84.78" cy="98.65" r="0.75"/><circle cx="86.67" cy="111.81" r="0.75"/><circle cx="89.28" cy="124.38" r="0.75"/><circle cx="91.62" cy="129.06" r="0.75"/><circle cx="94.2" cy="128.06" r="0.75"/><circle cx="96.32" cy="129.48" r="0.75"/><circle cx="98.77" cy="125.53" r="0.75"/><circle cx="101.51" cy="123.76" r="0.75"/><circle cx="103.5" cy="117.93" r="0.75"/><circle cx="105.75" cy="113.26" r="0.75"/><circle cx="108.24" cy="110.06" r="0.75"/><circle cx="110.86" cy="104.86" r="0.75"/><circle cx="113.49" cy="99.07" r="0.75"/><circle cx="115.81" cy="92.99" r="0.75"/><circle cx="118.04" cy="89.42" r="0.75"/><circle cx="120.32" cy="89.74" r="0.75"/><circle cx="123.14" cy="91.73" r="0.75"/><circle cx="125.61" cy="91.06" r="0.75"/><circle cx="127.62" cy="88.34" r="0.75"/><circle cx="130.21" cy="83.8" r="0.75"/><circle cx="132.89" cy="71.69" r="0.75"/><circle cx="134.71" cy="60.16" r="0.75"/><circle cx="137.16" cy="45.22" r="0.75"/><circle cx="139.36" cy="33.09" r="0.75"/><circle cx="142.17" cy="12.85" r="0.75"/><circle cx="144.58" cy="28.16" r="0.75"/><circle cx="146.86" cy="56.79" r="0.75"/><circle cx="149.29" cy="95.56" r="0.75"/><circle cx="151.99" cy="117.87" r="0.75"/><circle cx="153.82" cy="126.13" r="0.75"/><circle cx="156.75" cy="130.9" r="0.75"/><circle cx="158.65" cy="130.87" r="0.75"/><circle cx="161.65" cy="132.45" r="0.75"/><circle cx="164.06" cy="131.73" r="0.75"/><circle cx="166.18" cy="133.38" r="0.75"/><circle cx="168.18" cy="132.7" r="0.75"/><circle cx="171.27" cy="132.12" r="0.75"/><circle cx="173.46" cy="132.62" r="0.75"/><circle cx="175.96" cy="132.74" r="0.75"/><circle cx="177.93" cy="133.49" r="0.75"/></g>
<path d="M24.9,134.12 L25.4,134.02 L25.9,133.91 L26.4,133.8 L26.9,133.69 L27.4,133.57 L27.9,133.46 L28.4,133.35 L28.9,133.23 L29.4,133.1 L29.9,132.96 L30.4,132.82 L30.9,132.67 L31.4,132.5 L31.9,132.32 L32.4,132.12 L32.9,131.91 L33.4,131.69 L33.9,131.45 L34.4,131.19 L34.9,130.91 L35.4,130.62 L35.9,130.3 L36.4,129.94 L36.9,129.53 L37.4,129.07 L37.9,128.57 L38.4,128.04 L38.9,127.48 L39.4,126.9 L39.9,126.32 L40.4,125.73 L40.9,125.14 L41.4,124.51 L41.9,123.84 L42.4,123.15 L42.9,122.44 L43.4,121.73 L43.9,121.01 L44.4,120.32 L44.9,119.64 L45.4,119 L45.9,118.37 L46.4,117.72 L46.9,117.06 L47.4,116.42 L47.9,115.8 L48.4,115.2 L48.9,114.66 L49.4,114.17 L49.9,113.75 L50.4,113.39 L50.9,113.03 L51.4,112.68 L51.9,112.35 L52.4,112.04 L52.9,111.76 L53.4,111.53 L53.9,111.35 L54.4,111.24 L54.9,111.2 L55.4,111.23 L55.9,111.33 L56.4,111.47 L56.9,111.66 L57.4,111.88 L57.9,112.14 L58.4,112.41 L58.9,112.7 L59.4,112.98 L59.9,113.29 L60.4,113.69 L60.9,114.16 L61.4,114.68 L61.9,115.22 L62.4,115.77 L62.9,116.29 L63.4,116.75 L63.9,117.16 L64.4,117.58 L64.9,118.01 L65.4,118.44 L65.9,118.81 L66.4,119.12 L66.9,119.33 L67.4,119.4 L67.9,119.34 L68.4,119.18 L68.9,118.94 L69.4,118.62 L69.9,118.25 L70.4,117.78 L70.9,116.86 L71.4,115.49 L71.9,113.79 L72.4,111.86 L72.9,109.82 L73.4,107.8 L73.9,105.9 L74.4,103.98 L74.9,101.87 L75.4,99.67 L75.9,97.46 L76.4,95.34 L76.9,93.38 L77.4,91.69 L77.9,90.24 L78.4,88.75 L78.9,87.34 L79.4,86.14 L79.9,85.31 L80.4,85 L80.9,85.3 L81.4,86.13 L81.9,87.35 L82.4,88.83 L82.9,90.44 L83.4,92.25 L83.9,94.83 L84.4,97.96 L84.9,101.37 L85.4,104.74 L85.9,107.8 L86.4,110.71 L86.9,113.71 L87.4,116.63 L87.9,119.29 L88.4,121.53 L88.9,123.23 L89.4,124.76 L89.9,126.17 L90.4,127.38 L90.9,128.29 L91.4,128.84 L91.9,129.09 L92.4,129.3 L92.9,129.48 L93.4,129.64 L93.9,129.77 L94.4,129.88 L94.9,129.95 L95.4,129.99 L95.9,130 L96.4,129.87 L96.9,129.57 L97.4,129.14 L97.9,128.6 L98.4,127.96 L98.9,127.26 L99.4,126.52 L99.9,125.76 L100.4,125.01 L100.9,124.3 L101.4,123.58 L101.9,122.8 L102.4,121.96 L102.9,121.08 L103.4,120.16 L103.9,119.22 L104.4,118.25 L104.9,117.28 L105.4,116.31 L105.9,115.34 L106.4,114.39 L106.9,113.45 L107.4,112.49 L107.9,111.53 L108.4,110.56 L108.9,109.58 L109.4,108.6 L109.9,107.61 L110.4,106.63 L110.9,105.65 L111.4,104.67 L111.9,103.69 L112.4,102.68 L112.9,101.56 L113.4,100.34 L113.9,99.08 L114.4,97.8 L114.9,96.53 L115.4,95.32 L115.9,94.19 L116.4,93.18 L116.9,92.32 L117.4,91.65 L117.9,91.2 L118.4,91.01 L118.9,91.01 L119.4,91.05 L119.9,91.11 L120.4,91.19 L120.9,91.29 L121.4,91.38 L121.9,91.49 L122.4,91.58 L122.9,91.68 L123.4,91.81 L123.9,91.96 L124.4,92.11 L124.9,92.25 L125.4,92.37 L125.9,92.46 L126.4,92.5 L126.9,92.1 L127.4,90.8 L127.9,89.16 L128.4,87.76 L128.9,86.64 L129.4,85.58 L129.9,84.47 L130.4,83.2 L130.9,81.66 L131.4,79.52 L131.9,76.87 L132.4,73.97 L132.9,71.09 L133.4,68.47 L133.9,66.33 L134.4,64.27 L134.9,61.63 L135.4,58.44 L135.9,54.95 L136.4,51.4 L136.9,48.01 L137.4,45.03 L137.9,42.66 L138.4,40.77 L138.9,38.85 L139.4,36.4 L139.9,32.86 L140.4,28.54 L140.9,23.94 L141.4,19.52 L141.9,15.77 L142.4,13.17 L142.9,12.2 L143.4,14.59 L143.9,20.5 L144.4,28.04 L144.9,35.32 L145.4,40.48 L145.9,44 L146.4,50.15 L146.9,57.95 L147.4,65.05 L147.9,71.52 L148.4,80.48 L148.9,88.79 L149.4,97.41 L149.9,105.24 L150.4,110.39 L150.9,114.09 L151.4,117.06 L151.9,119.6 L152.4,121.92 L152.9,124.12 L153.4,125.95 L153.9,127.22 L154.4,128.3 L154.9,129.22 L155.4,129.96 L155.9,130.51 L156.4,130.91 L156.9,131.26 L157.4,131.57 L157.9,131.84 L158.4,132.07 L158.9,132.27 L159.4,132.44 L159.9,132.58 L160.4,132.69 L160.9,132.8 L161.4,132.89 L161.9,132.98 L162.4,133.06 L162.9,133.14 L163.4,133.2 L163.9,133.27 L164.4,133.32 L164.9,133.38 L165.4,133.44 L165.9,133.49 L166.4,133.54 L166.9,133.6 L167.4,133.65 L167.9,133.7 L168.4,133.75 L168.9,133.79 L169.4,133.84 L169.9,133.88 L170.4,133.91 L170.9,133.95 L171.4,133.97 L171.9,134 L172.4,134.02 L172.9,134.03 L173.4,134.05 L173.9,134.07 L174.4,134.09 L174.9,134.1 L175.4,134.12 L175.9,134.14 L176.4,134.15 L176.9,134.17 L177.4,134.18 L177.9,134.19 L178.4,134.21 L178.9,134.22" fill="none" stroke="#8e4242" stroke-width="1.85" stroke-linejoin="round" stroke-linecap="round"/>
<path d="M24.9,265.9 L24.9,265.59 L25.4,265.54 L25.9,265.49 L26.4,265.43 L26.9,265.36 L27.4,265.28 L27.9,265.2 L28.4,265.1 L28.9,265 L29.4,264.88 L29.9,264.76 L30.4,264.61 L30.9,264.46 L31.4,264.29 L31.9,264.11 L32.4,263.9 L32.9,263.69 L33.4,263.45 L33.9,263.2 L34.4,262.92 L34.9,262.63 L35.4,262.32 L35.9,261.99 L36.4,261.63 L36.9,261.26 L37.4,260.87 L37.9,260.46 L38.4,260.02 L38.9,259.57 L39.4,259.11 L39.9,258.62 L40.4,258.13 L40.9,257.61 L41.4,257.09 L41.9,256.56 L42.4,256.02 L42.9,255.47 L43.4,254.92 L43.9,254.37 L44.4,253.83 L44.9,253.29 L45.4,252.76 L45.9,252.24 L46.4,251.73 L46.9,251.25 L47.4,250.78 L47.9,250.34 L48.4,249.93 L48.9,249.54 L49.4,249.19 L49.9,248.88 L50.4,248.6 L50.9,248.36 L51.4,248.16 L51.9,248 L52.4,247.89 L52.9,247.82 L53.4,247.8 L53.9,247.83 L54.4,247.91 L54.9,248.04 L55.4,248.22 L55.9,248.46 L56.4,248.74 L56.9,249.06 L57.4,249.43 L57.9,249.84 L58.4,250.29 L58.9,250.76 L59.4,251.27 L59.9,251.8 L60.4,252.35 L60.9,252.92 L61.4,253.5 L61.9,254.09 L62.4,254.68 L62.9,255.28 L63.4,255.87 L63.9,256.46 L64.4,257.04 L64.9,257.61 L65.4,258.17 L65.9,258.71 L66.4,259.23 L66.9,259.73 L67.4,260.21 L67.9,260.67 L68.4,261.11 L68.9,261.52 L69.4,261.91 L69.9,262.28 L70.4,262.62 L70.9,262.94 L71.4,263.23 L71.9,263.5 L72.4,263.75 L72.9,263.99 L73.4,264.2 L73.9,264.39 L74.4,264.56 L74.9,264.72 L75.4,264.86 L75.9,264.99 L76.4,265.1 L76.9,265.21 L77.4,265.3 L77.9,265.38 L78.4,265.45 L78.9,265.51 L79.4,265.57 L79.9,265.61 L80.4,265.66 L80.9,265.69 L81.4,265.72 L81.9,265.75 L82.4,265.77 L82.9,265.79 L83.4,265.81 L83.4,265.9Z" fill="#fce6c3"/>
<path d="M78.4,265.9 L78.4,265.82 L78.9,265.8 L79.4,265.79 L79.9,265.77 L80.4,265.76 L80.9,265.73 L81.4,265.71 L81.9,265.68 L82.4,265.65 L82.9,265.62 L83.4,265.58 L83.9,265.54 L84.4,265.49 L84.9,265.43 L85.4,265.37 L85.9,265.31 L86.4,265.23 L86.9,265.15 L87.4,265.06 L87.9,264.96 L88.4,264.85 L88.9,264.73 L89.4,264.59 L89.9,264.45 L90.4,264.29 L90.9,264.11 L91.4,263.92 L91.9,263.72 L92.4,263.5 L92.9,263.26 L93.4,263 L93.9,262.72 L94.4,262.42 L94.9,262.1 L95.4,261.75 L95.9,261.38 L96.4,260.99 L96.9,260.58 L97.4,260.14 L97.9,259.67 L98.4,259.17 L98.9,258.65 L99.4,258.11 L99.9,257.53 L100.4,256.93 L100.9,256.31 L101.4,255.66 L101.9,254.98 L102.4,254.28 L102.9,253.55 L103.4,252.8 L103.9,252.03 L104.4,251.24 L104.9,250.43 L105.4,249.61 L105.9,248.77 L106.4,247.92 L106.9,247.06 L107.4,246.19 L107.9,245.32 L108.4,244.45 L108.9,243.58 L109.4,242.72 L109.9,241.86 L110.4,241.02 L110.9,240.19 L111.4,239.37 L111.9,238.58 L112.4,237.82 L112.9,237.08 L113.4,236.38 L113.9,235.71 L114.4,235.08 L114.9,234.49 L115.4,233.95 L115.9,233.45 L116.4,233 L116.9,232.61 L117.4,232.26 L117.9,231.97 L118.4,231.74 L118.9,231.57 L119.4,231.46 L119.9,231.4 L120.4,231.42 L120.9,231.54 L121.4,231.76 L121.9,232.08 L122.4,232.51 L122.9,233.03 L123.4,233.64 L123.9,234.34 L124.4,235.12 L124.9,235.97 L125.4,236.89 L125.9,237.87 L126.4,238.9 L126.9,239.97 L127.4,241.07 L127.9,242.2 L128.4,243.35 L128.9,244.51 L129.4,245.67 L129.9,246.83 L130.4,247.98 L130.9,249.11 L131.4,250.21 L131.9,251.29 L132.4,252.34 L132.9,253.35 L133.4,254.32 L133.9,255.25 L134.4,256.14 L134.9,256.97 L135.4,257.77 L135.9,258.51 L136.4,259.21 L136.9,259.86 L137.4,260.46 L137.9,261.02 L138.4,261.53 L138.9,262.01 L139.4,262.44 L139.9,262.83 L140.4,263.19 L140.9,263.51 L141.4,263.8 L141.9,264.06 L142.4,264.3 L142.9,264.51 L143.4,264.69 L143.9,264.85 L144.4,265 L144.9,265.13 L145.4,265.24 L145.9,265.33 L146.4,265.42 L146.9,265.49 L147.4,265.55 L147.9,265.61 L148.4,265.65 L148.9,265.69 L149.4,265.73 L149.9,265.76 L150.4,265.78 L150.9,265.8 L151.4,265.82 L151.4,265.9Z" fill="#c3ebdc"/>
<path d="M63.4,265.9 L63.4,265.81 L63.9,265.76 L64.4,265.7 L64.9,265.61 L65.4,265.49 L65.9,265.32 L66.4,265.1 L66.9,264.82 L67.4,264.46 L67.9,264.01 L68.4,263.45 L68.9,262.78 L69.4,261.99 L69.9,261.07 L70.4,260.02 L70.9,258.87 L71.4,257.61 L71.9,256.29 L72.4,254.92 L72.9,253.56 L73.4,252.24 L73.9,251.01 L74.4,249.93 L74.9,249.03 L75.4,248.36 L75.9,247.94 L76.4,247.8 L76.9,247.89 L77.4,248.16 L77.9,248.6 L78.4,249.19 L78.9,249.93 L79.4,250.78 L79.9,251.73 L80.4,252.76 L80.9,253.83 L81.4,254.92 L81.9,256.02 L82.4,257.09 L82.9,258.13 L83.4,259.11 L83.9,260.02 L84.4,260.87 L84.9,261.63 L85.4,262.32 L85.9,262.92 L86.4,263.45 L86.9,263.9 L87.4,264.29 L87.9,264.61 L88.4,264.88 L88.9,265.1 L89.4,265.28 L89.9,265.43 L90.4,265.54 L90.9,265.63 L91.4,265.7 L91.9,265.75 L92.4,265.79 L92.4,265.9Z" fill="#c3def5"/>
<path d="M118.4,265.9 L118.4,265.81 L118.9,265.78 L119.4,265.73 L119.9,265.66 L120.4,265.58 L120.9,265.47 L121.4,265.33 L121.9,265.14 L122.4,264.91 L122.9,264.61 L123.4,264.24 L123.9,263.78 L124.4,263.23 L124.9,262.55 L125.4,261.74 L125.9,260.78 L126.4,259.66 L126.9,258.36 L127.4,256.87 L127.9,255.17 L128.4,253.28 L128.9,251.18 L129.4,248.88 L129.9,246.39 L130.4,243.75 L130.9,240.96 L131.4,238.08 L131.9,235.13 L132.4,232.18 L132.9,229.27 L133.4,226.46 L133.9,223.82 L134.4,221.39 L134.9,219.24 L135.4,217.42 L135.9,215.97 L136.4,214.94 L136.9,214.35 L137.4,214.21 L137.9,214.48 L138.4,215.12 L138.9,216.13 L139.4,217.48 L139.9,219.14 L140.4,221.08 L140.9,223.26 L141.4,225.63 L141.9,228.15 L142.4,230.78 L142.9,233.46 L143.4,236.16 L143.9,238.84 L144.4,241.46 L144.9,243.99 L145.4,246.4 L145.9,248.68 L146.4,250.8 L146.9,252.76 L147.4,254.55 L147.9,256.17 L148.4,257.62 L148.9,258.9 L149.4,260.03 L149.9,261.02 L150.4,261.87 L150.9,262.59 L151.4,263.21 L151.9,263.72 L152.4,264.16 L152.9,264.51 L153.4,264.8 L153.9,265.04 L154.4,265.23 L154.9,265.38 L155.4,265.5 L155.9,265.6 L156.4,265.67 L156.9,265.73 L157.4,265.77 L157.9,265.81 L157.9,265.9Z" fill="#c3def5"/>
<path d="M62.4,265.9 L62.4,265.81 L62.9,265.78 L63.4,265.74 L63.9,265.68 L64.4,265.61 L64.9,265.52 L65.4,265.4 L65.9,265.25 L66.4,265.07 L66.9,264.84 L67.4,264.56 L67.9,264.22 L68.4,263.82 L68.9,263.34 L69.4,262.78 L69.9,262.12 L70.4,261.37 L70.9,260.53 L71.4,259.58 L71.9,258.52 L72.4,257.37 L72.9,256.13 L73.4,254.8 L73.9,253.41 L74.4,251.96 L74.9,250.49 L75.4,249.01 L75.9,247.55 L76.4,246.14 L76.9,244.82 L77.4,243.6 L77.9,242.52 L78.4,241.61 L78.9,240.89 L79.4,240.37 L79.9,240.07 L80.4,240 L80.9,240.17 L81.4,240.55 L81.9,241.15 L82.4,241.96 L82.9,242.94 L83.4,244.07 L83.9,245.34 L84.4,246.7 L84.9,248.13 L85.4,249.6 L85.9,251.08 L86.4,252.54 L86.9,253.97 L87.4,255.34 L87.9,256.64 L88.4,257.84 L88.9,258.96 L89.4,259.97 L89.9,260.88 L90.4,261.69 L90.9,262.39 L91.4,263.01 L91.9,263.54 L92.4,263.99 L92.9,264.37 L93.4,264.68 L93.9,264.94 L94.4,265.15 L94.9,265.32 L95.4,265.45 L95.9,265.56 L96.4,265.64 L96.9,265.71 L97.4,265.76 L97.9,265.8 L97.9,265.9Z" fill="#f5e1fa"/>
<path d="M130.4,265.9 L130.4,265.79 L130.9,265.72 L131.4,265.62 L131.9,265.46 L132.4,265.23 L132.9,264.89 L133.4,264.41 L133.9,263.74 L134.4,262.83 L134.9,261.61 L135.4,260.01 L135.9,257.97 L136.4,255.41 L136.9,252.28 L137.4,248.54 L137.9,244.17 L138.4,239.18 L138.9,233.66 L139.4,227.69 L139.9,221.43 L140.4,215.09 L140.9,208.9 L141.4,203.1 L141.9,197.97 L142.4,193.75 L142.9,190.66 L143.4,188.85 L143.9,188.43 L144.4,189.53 L144.9,192.13 L145.4,196.09 L145.9,201.17 L146.4,207.09 L146.9,213.55 L147.4,220.24 L147.9,226.88 L148.4,233.23 L148.9,239.09 L149.4,244.35 L149.9,248.93 L150.4,252.8 L150.9,256 L151.4,258.56 L151.9,260.58 L152.4,262.11 L152.9,263.26 L153.4,264.1 L153.9,264.69 L154.4,265.11 L154.9,265.39 L155.4,265.58 L155.9,265.7 L156.4,265.78 L156.4,265.9Z" fill="#f5e1fa"/>
<path d="M78.4,265.9 L78.4,265.82 L78.9,265.8 L79.4,265.79 L79.9,265.77 L80.4,265.76 L80.9,265.73 L81.4,265.72 L81.9,265.75 L82.4,265.77 L82.9,265.79 L83.4,265.81 L83.4,265.9Z" fill="#c8e0c8"/>
<path d="M63.4,265.9 L63.4,265.81 L63.9,265.76 L64.4,265.7 L64.9,265.61 L65.4,265.49 L65.9,265.32 L66.4,265.1 L66.9,264.82 L67.4,264.46 L67.9,264.01 L68.4,263.45 L68.9,262.78 L69.4,261.99 L69.9,262.28 L70.4,262.62 L70.9,262.94 L71.4,263.23 L71.9,263.5 L72.4,263.75 L72.9,263.99 L73.4,264.2 L73.9,264.39 L74.4,264.56 L74.9,264.72 L75.4,264.86 L75.9,264.99 L76.4,265.1 L76.9,265.21 L77.4,265.3 L77.9,265.38 L78.4,265.45 L78.9,265.51 L79.4,265.57 L79.9,265.61 L80.4,265.66 L80.9,265.69 L81.4,265.72 L81.9,265.75 L82.4,265.77 L82.9,265.79 L83.4,265.81 L83.4,265.9Z" fill="#b8c8e0"/>
<path d="M62.4,265.9 L62.4,265.81 L62.9,265.78 L63.4,265.74 L63.9,265.68 L64.4,265.61 L64.9,265.52 L65.4,265.4 L65.9,265.25 L66.4,265.07 L66.9,264.84 L67.4,264.56 L67.9,264.22 L68.4,263.82 L68.9,263.34 L69.4,262.78 L69.9,262.28 L70.4,262.62 L70.9,262.94 L71.4,263.23 L71.9,263.5 L72.4,263.75 L72.9,263.99 L73.4,264.2 L73.9,264.39 L74.4,264.56 L74.9,264.72 L75.4,264.86 L75.9,264.99 L76.4,265.1 L76.9,265.21 L77.4,265.3 L77.9,265.38 L78.4,265.45 L78.9,265.51 L79.4,265.57 L79.9,265.61 L80.4,265.66 L80.9,265.69 L81.4,265.72 L81.9,265.75 L82.4,265.77 L82.9,265.79 L83.4,265.81 L83.4,265.9Z" fill="#e8d0e8"/>
<path d="M78.4,265.9 L78.4,265.82 L78.9,265.8 L79.4,265.79 L79.9,265.77 L80.4,265.76 L80.9,265.73 L81.4,265.71 L81.9,265.68 L82.4,265.65 L82.9,265.62 L83.4,265.58 L83.9,265.54 L84.4,265.49 L84.9,265.43 L85.4,265.37 L85.9,265.31 L86.4,265.23 L86.9,265.15 L87.4,265.06 L87.9,264.96 L88.4,264.88 L88.9,265.1 L89.4,265.28 L89.9,265.43 L90.4,265.54 L90.9,265.63 L91.4,265.7 L91.9,265.75 L92.4,265.79 L92.4,265.9Z" fill="#6ec8c8"/>
<path d="M118.4,265.9 L118.4,265.81 L118.9,265.78 L119.4,265.73 L119.9,265.66 L120.4,265.58 L120.9,265.47 L121.4,265.33 L121.9,265.14 L122.4,264.91 L122.9,264.61 L123.4,264.24 L123.9,263.78 L124.4,263.23 L124.9,262.55 L125.4,261.74 L125.9,260.78 L126.4,259.66 L126.9,258.36 L127.4,256.87 L127.9,255.17 L128.4,253.28 L128.9,251.18 L129.4,248.88 L129.9,246.83 L130.4,247.98 L130.9,249.11 L131.4,250.21 L131.9,251.29 L132.4,252.34 L132.9,253.35 L133.4,254.32 L133.9,255.25 L134.4,256.14 L134.9,256.97 L135.4,257.77 L135.9,258.51 L136.4,259.21 L136.9,259.86 L137.4,260.46 L137.9,261.02 L138.4,261.53 L138.9,262.01 L139.4,262.44 L139.9,262.83 L140.4,263.19 L140.9,263.51 L141.4,263.8 L141.9,264.06 L142.4,264.3 L142.9,264.51 L143.4,264.69 L143.9,264.85 L144.4,265 L144.9,265.13 L145.4,265.24 L145.9,265.33 L146.4,265.42 L146.9,265.49 L147.4,265.55 L147.9,265.61 L148.4,265.65 L148.9,265.69 L149.4,265.73 L149.9,265.76 L150.4,265.78 L150.9,265.8 L151.4,265.82 L151.4,265.9Z" fill="#6ec8c8"/>
<path d="M78.4,265.9 L78.4,265.82 L78.9,265.8 L79.4,265.79 L79.9,265.77 L80.4,265.76 L80.9,265.73 L81.4,265.71 L81.9,265.68 L82.4,265.65 L82.9,265.62 L83.4,265.58 L83.9,265.54 L84.4,265.49 L84.9,265.43 L85.4,265.37 L85.9,265.31 L86.4,265.23 L86.9,265.15 L87.4,265.06 L87.9,264.96 L88.4,264.85 L88.9,264.73 L89.4,264.59 L89.9,264.45 L90.4,264.29 L90.9,264.11 L91.4,263.92 L91.9,263.72 L92.4,263.99 L92.9,264.37 L93.4,264.68 L93.9,264.94 L94.4,265.15 L94.9,265.32 L95.4,265.45 L95.9,265.56 L96.4,265.64 L96.9,265.71 L97.4,265.76 L97.9,265.8 L97.9,265.9Z" fill="#8cc0d0"/>
<path d="M130.4,265.9 L130.4,265.79 L130.9,265.72 L131.4,265.62 L131.9,265.46 L132.4,265.23 L132.9,264.89 L133.4,264.41 L133.9,263.74 L134.4,262.83 L134.9,261.61 L135.4,260.01 L135.9,258.51 L136.4,259.21 L136.9,259.86 L137.4,260.46 L137.9,261.02 L138.4,261.53 L138.9,262.01 L139.4,262.44 L139.9,262.83 L140.4,263.19 L140.9,263.51 L141.4,263.8 L141.9,264.06 L142.4,264.3 L142.9,264.51 L143.4,264.69 L143.9,264.85 L144.4,265 L144.9,265.13 L145.4,265.24 L145.9,265.33 L146.4,265.42 L146.9,265.49 L147.4,265.55 L147.9,265.61 L148.4,265.65 L148.9,265.69 L149.4,265.73 L149.9,265.76 L150.4,265.78 L150.9,265.8 L151.4,265.82 L151.4,265.9Z" fill="#8cc0d0"/>
<path d="M63.4,265.9 L63.4,265.81 L63.9,265.76 L64.4,265.7 L64.9,265.61 L65.4,265.49 L65.9,265.32 L66.4,265.1 L66.9,264.84 L67.4,264.56 L67.9,264.22 L68.4,263.82 L68.9,263.34 L69.4,262.78 L69.9,262.12 L70.4,261.37 L70.9,260.53 L71.4,259.58 L71.9,258.52 L72.4,257.37 L72.9,256.13 L73.4,254.8 L73.9,253.41 L74.4,251.96 L74.9,250.49 L75.4,249.01 L75.9,247.94 L76.4,247.8 L76.9,247.89 L77.4,248.16 L77.9,248.6 L78.4,249.19 L78.9,249.93 L79.4,250.78 L79.9,251.73 L80.4,252.76 L80.9,253.83 L81.4,254.92 L81.9,256.02 L82.4,257.09 L82.9,258.13 L83.4,259.11 L83.9,260.02 L84.4,260.87 L84.9,261.63 L85.4,262.32 L85.9,262.92 L86.4,263.45 L86.9,263.9 L87.4,264.29 L87.9,264.61 L88.4,264.88 L88.9,265.1 L89.4,265.28 L89.9,265.43 L90.4,265.54 L90.9,265.63 L91.4,265.7 L91.9,265.75 L92.4,265.79 L92.4,265.9Z" fill="#9cb0f0"/>
<path d="M130.4,265.9 L130.4,265.79 L130.9,265.72 L131.4,265.62 L131.9,265.46 L132.4,265.23 L132.9,264.89 L133.4,264.41 L133.9,263.74 L134.4,262.83 L134.9,261.61 L135.4,260.01 L135.9,257.97 L136.4,255.41 L136.9,252.28 L137.4,248.54 L137.9,244.17 L138.4,239.18 L138.9,233.66 L139.4,227.69 L139.9,221.43 L140.4,221.08 L140.9,223.26 L141.4,225.63 L141.9,228.15 L142.4,230.78 L142.9,233.46 L143.4,236.16 L143.9,238.84 L144.4,241.46 L144.9,243.99 L145.4,246.4 L145.9,248.68 L146.4,250.8 L146.9,252.76 L147.4,254.55 L147.9,256.17 L148.4,257.62 L148.9,258.9 L149.4,260.03 L149.9,261.02 L150.4,261.87 L150.9,262.59 L151.4,263.21 L151.9,263.72 L152.4,264.16 L152.9,264.51 L153.4,264.8 L153.9,265.04 L154.4,265.23 L154.9,265.39 L155.4,265.58 L155.9,265.7 L156.4,265.78 L156.4,265.9Z" fill="#9cb0f0"/>
<path d="M63.4,265.9 L63.4,265.81 L63.9,265.76 L64.4,265.7 L64.9,265.61 L65.4,265.49 L65.9,265.32 L66.4,265.1 L66.9,264.84 L67.4,264.56 L67.9,264.22 L68.4,263.82 L68.9,263.34 L69.4,262.78 L69.9,262.28 L70.4,262.62 L70.9,262.94 L71.4,263.23 L71.9,263.5 L72.4,263.75 L72.9,263.99 L73.4,264.2 L73.9,264.39 L74.4,264.56 L74.9,264.72 L75.4,264.86 L75.9,264.99 L76.4,265.1 L76.9,265.21 L77.4,265.3 L77.9,265.38 L78.4,265.45 L78.9,265.51 L79.4,265.57 L79.9,265.61 L80.4,265.66 L80.9,265.69 L81.4,265.72 L81.9,265.75 L82.4,265.77 L82.9,265.79 L83.4,265.81 L83.4,265.9Z" fill="#a8b0e0"/>
<path d="M78.4,265.9 L78.4,265.82 L78.9,265.8 L79.4,265.79 L79.9,265.77 L80.4,265.76 L80.9,265.73 L81.4,265.71 L81.9,265.68 L82.4,265.65 L82.9,265.62 L83.4,265.58 L83.9,265.54 L84.4,265.49 L84.9,265.43 L85.4,265.37 L85.9,265.31 L86.4,265.23 L86.9,265.15 L87.4,265.06 L87.9,264.96 L88.4,264.88 L88.9,265.1 L89.4,265.28 L89.9,265.43 L90.4,265.54 L90.9,265.63 L91.4,265.7 L91.9,265.75 L92.4,265.79 L92.4,265.9Z" fill="#66aac0"/>
<path d="M130.4,265.9 L130.4,265.79 L130.9,265.72 L131.4,265.62 L131.9,265.46 L132.4,265.23 L132.9,264.89 L133.4,264.41 L133.9,263.74 L134.4,262.83 L134.9,261.61 L135.4,260.01 L135.9,258.51 L136.4,259.21 L136.9,259.86 L137.4,260.46 L137.9,261.02 L138.4,261.53 L138.9,262.01 L139.4,262.44 L139.9,262.83 L140.4,263.19 L140.9,263.51 L141.4,263.8 L141.9,264.06 L142.4,264.3 L142.9,264.51 L143.4,264.69 L143.9,264.85 L144.4,265 L144.9,265.13 L145.4,265.24 L145.9,265.33 L146.4,265.42 L146.9,265.49 L147.4,265.55 L147.9,265.61 L148.4,265.65 L148.9,265.69 L149.4,265.73 L149.9,265.76 L150.4,265.78 L150.9,265.8 L151.4,265.82 L151.4,265.9Z" fill="#66aac0"/>
<path d="M63.4,265.9 L63.4,265.81 L63.9,265.76 L64.4,265.7 L64.9,265.61 L65.4,265.49 L65.9,265.32 L66.4,265.1 L66.9,264.84 L67.4,264.56 L67.9,264.22 L68.4,263.82 L68.9,263.34 L69.4,262.78 L69.9,262.12 L70.4,261.37 L70.9,260.53 L71.4,259.58 L71.9,258.52 L72.4,257.37 L72.9,256.13 L73.4,254.8 L73.9,253.41 L74.4,251.96 L74.9,250.49 L75.4,249.01 L75.9,247.94 L76.4,247.8 L76.9,247.89 L77.4,248.16 L77.9,248.6 L78.4,249.19 L78.9,249.93 L79.4,250.78 L79.9,251.73 L80.4,252.76 L80.9,253.83 L81.4,254.92 L81.9,256.02 L82.4,257.09 L82.9,258.13 L83.4,259.11 L83.9,260.02 L84.4,260.87 L84.9,261.63 L85.4,262.32 L85.9,262.92 L86.4,263.45 L86.9,263.9 L87.4,264.29 L87.9,264.61 L88.4,264.88 L88.9,265.1 L89.4,265.28 L89.9,265.43 L90.4,265.54 L90.9,265.63 L91.4,265.7 L91.9,265.75 L92.4,265.79 L92.4,265.9Z" fill="#8c9ce6"/>
<path d="M24.9,265.59 L25.4,265.54 L25.9,265.49 L26.4,265.43 L26.9,265.36 L27.4,265.28 L27.9,265.2 L28.4,265.1 L28.9,265 L29.4,264.88 L29.9,264.76 L30.4,264.61 L30.9,264.46 L31.4,264.29 L31.9,264.11 L32.4,263.9 L32.9,263.69 L33.4,263.45 L33.9,263.2 L34.4,262.92 L34.9,262.63 L35.4,262.32 L35.9,261.99 L36.4,261.63 L36.9,261.26 L37.4,260.87 L37.9,260.46 L38.4,260.02 L38.9,259.57 L39.4,259.11 L39.9,258.62 L40.4,258.13 L40.9,257.61 L41.4,257.09 L41.9,256.56 L42.4,256.02 L42.9,255.47 L43.4,254.92 L43.9,254.37 L44.4,253.83 L44.9,253.29 L45.4,252.76 L45.9,252.24 L46.4,251.73 L46.9,251.25 L47.4,250.78 L47.9,250.34 L48.4,249.93 L48.9,249.54 L49.4,249.19 L49.9,248.88 L50.4,248.6 L50.9,248.36 L51.4,248.16 L51.9,248 L52.4,247.89 L52.9,247.82 L53.4,247.8 L53.9,247.83 L54.4,247.91 L54.9,248.04 L55.4,248.22 L55.9,248.46 L56.4,248.74 L56.9,249.06 L57.4,249.43 L57.9,249.84 L58.4,250.29 L58.9,250.76 L59.4,251.27 L59.9,251.8 L60.4,252.35 L60.9,252.92 L61.4,253.5 L61.9,254.09 L62.4,254.68 L62.9,255.28 L63.4,255.87 L63.9,256.46 L64.4,257.04 L64.9,257.61 L65.4,258.17 L65.9,258.71 L66.4,259.23 L66.9,259.73 L67.4,260.21 L67.9,260.67 L68.4,261.11 L68.9,261.52 L69.4,261.91 L69.9,262.28 L70.4,262.62 L70.9,262.94 L71.4,263.23 L71.9,263.5 L72.4,263.75 L72.9,263.99 L73.4,264.2 L73.9,264.39 L74.4,264.56 L74.9,264.72 L75.4,264.86 L75.9,264.99 L76.4,265.1 L76.9,265.21 L77.4,265.3 L77.9,265.38 L78.4,265.45 L78.9,265.51 L79.4,265.57 L79.9,265.61 L80.4,265.66 L80.9,265.69 L81.4,265.72 L81.9,265.75 L82.4,265.77 L82.9,265.79 L83.4,265.81 L83.9,265.83 L84.4,265.84 L84.9,265.85 L85.4,265.86 L85.9,265.86 L86.4,265.87 L86.9,265.88 L87.4,265.88 L87.9,265.88 L88.4,265.89 L88.9,265.89 L89.4,265.89 L89.9,265.89 L90.4,265.89 L90.9,265.9 L91.4,265.9 L91.9,265.9 L92.4,265.9 L92.9,265.9 L93.4,265.9 L93.9,265.9 L94.4,265.9 L94.9,265.9 L95.4,265.9 L95.9,265.9 L96.4,265.9 L96.9,265.9 L97.4,265.9 L97.9,265.9 L98.4,265.9 L98.9,265.9 L99.4,265.9 L99.9,265.9 L100.4,265.9 L100.9,265.9 L101.4,265.9 L101.9,265.9 L102.4,265.9 L102.9,265.9 L103.4,265.9 L103.9,265.9 L104.4,265.9 L104.9,265.9 L105.4,265.9 L105.9,265.9 L106.4,265.9 L106.9,265.9 L107.4,265.9 L107.9,265.9 L108.4,265.9 L108.9,265.9 L109.4,265.9 L109.9,265.9 L110.4,265.9 L110.9,265.9 L111.4,265.9 L111.9,265.9 L112.4,265.9 L112.9,265.9 L113.4,265.9 L113.9,265.9 L114.4,265.9 L114.9,265.9 L115.4,265.9 L115.9,265.9 L116.4,265.9 L116.9,265.9 L117.4,265.9 L117.9,265.9 L118.4,265.9 L118.9,265.9 L119.4,265.9 L119.9,265.9 L120.4,265.9 L120.9,265.9 L121.4,265.9 L121.9,265.9 L122.4,265.9 L122.9,265.9 L123.4,265.9 L123.9,265.9 L124.4,265.9 L124.9,265.9 L125.4,265.9 L125.9,265.9 L126.4,265.9 L126.9,265.9 L127.4,265.9 L127.9,265.9 L128.4,265.9 L128.9,265.9 L129.4,265.9 L129.9,265.9 L130.4,265.9 L130.9,265.9 L131.4,265.9 L131.9,265.9 L132.4,265.9 L132.9,265.9 L133.4,265.9 L133.9,265.9 L134.4,265.9 L134.9,265.9 L135.4,265.9 L135.9,265.9 L136.4,265.9 L136.9,265.9 L137.4,265.9 L137.9,265.9 L138.4,265.9 L138.9,265.9 L139.4,265.9 L139.9,265.9 L140.4,265.9 L140.9,265.9 L141.4,265.9 L141.9,265.9 L142.4,265.9 L142.9,265.9 L143.4,265.9 L143.9,265.9 L144.4,265.9 L144.9,265.9 L145.4,265.9 L145.9,265.9 L146.4,265.9 L146.9,265.9 L147.4,265.9 L147.9,265.9 L148.4,265.9 L148.9,265.9 L149.4,265.9 L149.9,265.9 L150.4,265.9 L150.9,265.9 L151.4,265.9 L151.9,265.9 L152.4,265.9 L152.9,265.9 L153.4,265.9 L153.9,265.9 L154.4,265.9 L154.9,265.9 L155.4,265.9 L155.9,265.9 L156.4,265.9 L156.9,265.9 L157.4,265.9 L157.9,265.9 L158.4,265.9 L158.9,265.9 L159.4,265.9 L159.9,265.9 L160.4,265.9 L160.9,265.9 L161.4,265.9 L161.9,265.9 L162.4,265.9 L162.9,265.9 L163.4,265.9 L163.9,265.9 L164.4,265.9 L164.9,265.9 L165.4,265.9 L165.9,265.9 L166.4,265.9 L166.9,265.9 L167.4,265.9 L167.9,265.9 L168.4,265.9 L168.9,265.9 L169.4,265.9 L169.9,265.9 L170.4,265.9 L170.9,265.9 L171.4,265.9 L171.9,265.9 L172.4,265.9 L172.9,265.9 L173.4,265.9 L173.9,265.9 L174.4,265.9 L174.9,265.9 L175.4,265.9 L175.9,265.9 L176.4,265.9 L176.9,265.9 L177.4,265.9 L177.9,265.9 L178.4,265.9 L178.9,265.9 L179.4,265.9 L179.9,265.9 L180.4,265.9 L180.9,265.9 L181.4,265.9 L181.9,265.9" fill="none" stroke="#eba42a" stroke-width="1.5" stroke-linejoin="round"/>
<path d="M24.9,265.9 L25.4,265.9 L25.9,265.9 L26.4,265.9 L26.9,265.9 L27.4,265.9 L27.9,265.9 L28.4,265.9 L28.9,265.9 L29.4,265.9 L29.9,265.9 L30.4,265.9 L30.9,265.9 L31.4,265.9 L31.9,265.9 L32.4,265.9 L32.9,265.9 L33.4,265.9 L33.9,265.9 L34.4,265.9 L34.9,265.9 L35.4,265.9 L35.9,265.9 L36.4,265.9 L36.9,265.9 L37.4,265.9 L37.9,265.9 L38.4,265.9 L38.9,265.9 L39.4,265.9 L39.9,265.9 L40.4,265.9 L40.9,265.9 L41.4,265.9 L41.9,265.9 L42.4,265.9 L42.9,265.9 L43.4,265.9 L43.9,265.9 L44.4,265.9 L44.9,265.9 L45.4,265.9 L45.9,265.9 L46.4,265.9 L46.9,265.9 L47.4,265.9 L47.9,265.9 L48.4,265.9 L48.9,265.9 L49.4,265.9 L49.9,265.9 L50.4,265.9 L50.9,265.9 L51.4,265.9 L51.9,265.9 L52.4,265.9 L52.9,265.9 L53.4,265.9 L53.9,265.9 L54.4,265.9 L54.9,265.9 L55.4,265.9 L55.9,265.9 L56.4,265.9 L56.9,265.9 L57.4,265.9 L57.9,265.9 L58.4,265.9 L58.9,265.9 L59.4,265.9 L59.9,265.9 L60.4,265.9 L60.9,265.9 L61.4,265.9 L61.9,265.9 L62.4,265.9 L62.9,265.9 L63.4,265.9 L63.9,265.9 L64.4,265.9 L64.9,265.9 L65.4,265.9 L65.9,265.9 L66.4,265.9 L66.9,265.9 L67.4,265.9 L67.9,265.9 L68.4,265.9 L68.9,265.9 L69.4,265.9 L69.9,265.89 L70.4,265.89 L70.9,265.89 L71.4,265.89 L71.9,265.89 L72.4,265.89 L72.9,265.88 L73.4,265.88 L73.9,265.88 L74.4,265.88 L74.9,265.87 L75.4,265.87 L75.9,265.86 L76.4,265.85 L76.9,265.85 L77.4,265.84 L77.9,265.83 L78.4,265.82 L78.9,265.8 L79.4,265.79 L79.9,265.77 L80.4,265.76 L80.9,265.73 L81.4,265.71 L81.9,265.68 L82.4,265.65 L82.9,265.62 L83.4,265.58 L83.9,265.54 L84.4,265.49 L84.9,265.43 L85.4,265.37 L85.9,265.31 L86.4,265.23 L86.9,265.15 L87.4,265.06 L87.9,264.96 L88.4,264.85 L88.9,264.73 L89.4,264.59 L89.9,264.45 L90.4,264.29 L90.9,264.11 L91.4,263.92 L91.9,263.72 L92.4,263.5 L92.9,263.26 L93.4,263 L93.9,262.72 L94.4,262.42 L94.9,262.1 L95.4,261.75 L95.9,261.38 L96.4,260.99 L96.9,260.58 L97.4,260.14 L97.9,259.67 L98.4,259.17 L98.9,258.65 L99.4,258.11 L99.9,257.53 L100.4,256.93 L100.9,256.31 L101.4,255.66 L101.9,254.98 L102.4,254.28 L102.9,253.55 L103.4,252.8 L103.9,252.03 L104.4,251.24 L104.9,250.43 L105.4,249.61 L105.9,248.77 L106.4,247.92 L106.9,247.06 L107.4,246.19 L107.9,245.32 L108.4,244.45 L108.9,243.58 L109.4,242.72 L109.9,241.86 L110.4,241.02 L110.9,240.19 L111.4,239.37 L111.9,238.58 L112.4,237.82 L112.9,237.08 L113.4,236.38 L113.9,235.71 L114.4,235.08 L114.9,234.49 L115.4,233.95 L115.9,233.45 L116.4,233 L116.9,232.61 L117.4,232.26 L117.9,231.97 L118.4,231.74 L118.9,231.57 L119.4,231.46 L119.9,231.4 L120.4,231.42 L120.9,231.54 L121.4,231.76 L121.9,232.08 L122.4,232.51 L122.9,233.03 L123.4,233.64 L123.9,234.34 L124.4,235.12 L124.9,235.97 L125.4,236.89 L125.9,237.87 L126.4,238.9 L126.9,239.97 L127.4,241.07 L127.9,242.2 L128.4,243.35 L128.9,244.51 L129.4,245.67 L129.9,246.83 L130.4,247.98 L130.9,249.11 L131.4,250.21 L131.9,251.29 L132.4,252.34 L132.9,253.35 L133.4,254.32 L133.9,255.25 L134.4,256.14 L134.9,256.97 L135.4,257.77 L135.9,258.51 L136.4,259.21 L136.9,259.86 L137.4,260.46 L137.9,261.02 L138.4,261.53 L138.9,262.01 L139.4,262.44 L139.9,262.83 L140.4,263.19 L140.9,263.51 L141.4,263.8 L141.9,264.06 L142.4,264.3 L142.9,264.51 L143.4,264.69 L143.9,264.85 L144.4,265 L144.9,265.13 L145.4,265.24 L145.9,265.33 L146.4,265.42 L146.9,265.49 L147.4,265.55 L147.9,265.61 L148.4,265.65 L148.9,265.69 L149.4,265.73 L149.9,265.76 L150.4,265.78 L150.9,265.8 L151.4,265.82 L151.9,265.83 L152.4,265.84 L152.9,265.85 L153.4,265.86 L153.9,265.87 L154.4,265.88 L154.9,265.88 L155.4,265.88 L155.9,265.89 L156.4,265.89 L156.9,265.89 L157.4,265.89 L157.9,265.89 L158.4,265.9 L158.9,265.9 L159.4,265.9 L159.9,265.9 L160.4,265.9 L160.9,265.9 L161.4,265.9 L161.9,265.9 L162.4,265.9 L162.9,265.9 L163.4,265.9 L163.9,265.9 L164.4,265.9 L164.9,265.9 L165.4,265.9 L165.9,265.9 L166.4,265.9 L166.9,265.9 L167.4,265.9 L167.9,265.9 L168.4,265.9 L168.9,265.9 L169.4,265.9 L169.9,265.9 L170.4,265.9 L170.9,265.9 L171.4,265.9 L171.9,265.9 L172.4,265.9 L172.9,265.9 L173.4,265.9 L173.9,265.9 L174.4,265.9 L174.9,265.9 L175.4,265.9 L175.9,265.9 L176.4,265.9 L176.9,265.9 L177.4,265.9 L177.9,265.9 L178.4,265.9 L178.9,265.9 L179.4,265.9 L179.9,265.9 L180.4,265.9 L180.9,265.9 L181.4,265.9 L181.9,265.9" fill="none" stroke="#12b062" stroke-width="1.5" stroke-linejoin="round"/>
<path d="M24.9,265.9 L25.4,265.9 L25.9,265.9 L26.4,265.9 L26.9,265.9 L27.4,265.9 L27.9,265.9 L28.4,265.9 L28.9,265.9 L29.4,265.9 L29.9,265.9 L30.4,265.9 L30.9,265.9 L31.4,265.9 L31.9,265.9 L32.4,265.9 L32.9,265.9 L33.4,265.9 L33.9,265.9 L34.4,265.9 L34.9,265.9 L35.4,265.9 L35.9,265.9 L36.4,265.9 L36.9,265.9 L37.4,265.9 L37.9,265.9 L38.4,265.9 L38.9,265.9 L39.4,265.9 L39.9,265.9 L40.4,265.9 L40.9,265.9 L41.4,265.9 L41.9,265.9 L42.4,265.9 L42.9,265.9 L43.4,265.9 L43.9,265.9 L44.4,265.9 L44.9,265.9 L45.4,265.9 L45.9,265.9 L46.4,265.9 L46.9,265.9 L47.4,265.9 L47.9,265.9 L48.4,265.9 L48.9,265.9 L49.4,265.9 L49.9,265.9 L50.4,265.9 L50.9,265.9 L51.4,265.9 L51.9,265.9 L52.4,265.9 L52.9,265.9 L53.4,265.9 L53.9,265.9 L54.4,265.9 L54.9,265.9 L55.4,265.9 L55.9,265.9 L56.4,265.9 L56.9,265.9 L57.4,265.9 L57.9,265.9 L58.4,265.9 L58.9,265.9 L59.4,265.9 L59.9,265.9 L60.4,265.89 L60.9,265.89 L61.4,265.88 L61.9,265.87 L62.4,265.86 L62.9,265.84 L63.4,265.81 L63.9,265.76 L64.4,265.7 L64.9,265.61 L65.4,265.49 L65.9,265.32 L66.4,265.1 L66.9,264.82 L67.4,264.46 L67.9,264.01 L68.4,263.45 L68.9,262.78 L69.4,261.99 L69.9,261.07 L70.4,260.02 L70.9,258.87 L71.4,257.61 L71.9,256.29 L72.4,254.92 L72.9,253.56 L73.4,252.24 L73.9,251.01 L74.4,249.93 L74.9,249.03 L75.4,248.36 L75.9,247.94 L76.4,247.8 L76.9,247.89 L77.4,248.16 L77.9,248.6 L78.4,249.19 L78.9,249.93 L79.4,250.78 L79.9,251.73 L80.4,252.76 L80.9,253.83 L81.4,254.92 L81.9,256.02 L82.4,257.09 L82.9,258.13 L83.4,259.11 L83.9,260.02 L84.4,260.87 L84.9,261.63 L85.4,262.32 L85.9,262.92 L86.4,263.45 L86.9,263.9 L87.4,264.29 L87.9,264.61 L88.4,264.88 L88.9,265.1 L89.4,265.28 L89.9,265.43 L90.4,265.54 L90.9,265.63 L91.4,265.7 L91.9,265.75 L92.4,265.79 L92.9,265.82 L93.4,265.84 L93.9,265.86 L94.4,265.87 L94.9,265.88 L95.4,265.89 L95.9,265.89 L96.4,265.89 L96.9,265.9 L97.4,265.9 L97.9,265.9 L98.4,265.9 L98.9,265.9 L99.4,265.9 L99.9,265.9 L100.4,265.9 L100.9,265.9 L101.4,265.9 L101.9,265.9 L102.4,265.9 L102.9,265.9 L103.4,265.9 L103.9,265.9 L104.4,265.9 L104.9,265.9 L105.4,265.9 L105.9,265.9 L106.4,265.9 L106.9,265.9 L107.4,265.9 L107.9,265.9 L108.4,265.9 L108.9,265.9 L109.4,265.9 L109.9,265.9 L110.4,265.9 L110.9,265.9 L111.4,265.9 L111.9,265.9 L112.4,265.9 L112.9,265.9 L113.4,265.9 L113.9,265.9 L114.4,265.9 L114.9,265.89 L115.4,265.89 L115.9,265.89 L116.4,265.88 L116.9,265.87 L117.4,265.86 L117.9,265.84 L118.4,265.81 L118.9,265.78 L119.4,265.73 L119.9,265.66 L120.4,265.58 L120.9,265.47 L121.4,265.33 L121.9,265.14 L122.4,264.91 L122.9,264.61 L123.4,264.24 L123.9,263.78 L124.4,263.23 L124.9,262.55 L125.4,261.74 L125.9,260.78 L126.4,259.66 L126.9,258.36 L127.4,256.87 L127.9,255.17 L128.4,253.28 L128.9,251.18 L129.4,248.88 L129.9,246.39 L130.4,243.75 L130.9,240.96 L131.4,238.08 L131.9,235.13 L132.4,232.18 L132.9,229.27 L133.4,226.46 L133.9,223.82 L134.4,221.39 L134.9,219.24 L135.4,217.42 L135.9,215.97 L136.4,214.94 L136.9,214.35 L137.4,214.21 L137.9,214.48 L138.4,215.12 L138.9,216.13 L139.4,217.48 L139.9,219.14 L140.4,221.08 L140.9,223.26 L141.4,225.63 L141.9,228.15 L142.4,230.78 L142.9,233.46 L143.4,236.16 L143.9,238.84 L144.4,241.46 L144.9,243.99 L145.4,246.4 L145.9,248.68 L146.4,250.8 L146.9,252.76 L147.4,254.55 L147.9,256.17 L148.4,257.62 L148.9,258.9 L149.4,260.03 L149.9,261.02 L150.4,261.87 L150.9,262.59 L151.4,263.21 L151.9,263.72 L152.4,264.16 L152.9,264.51 L153.4,264.8 L153.9,265.04 L154.4,265.23 L154.9,265.38 L155.4,265.5 L155.9,265.6 L156.4,265.67 L156.9,265.73 L157.4,265.77 L157.9,265.81 L158.4,265.83 L158.9,265.85 L159.4,265.86 L159.9,265.87 L160.4,265.88 L160.9,265.89 L161.4,265.89 L161.9,265.89 L162.4,265.9 L162.9,265.9 L163.4,265.9 L163.9,265.9 L164.4,265.9 L164.9,265.9 L165.4,265.9 L165.9,265.9 L166.4,265.9 L166.9,265.9 L167.4,265.9 L167.9,265.9 L168.4,265.9 L168.9,265.9 L169.4,265.9 L169.9,265.9 L170.4,265.9 L170.9,265.9 L171.4,265.9 L171.9,265.9 L172.4,265.9 L172.9,265.9 L173.4,265.9 L173.9,265.9 L174.4,265.9 L174.9,265.9 L175.4,265.9 L175.9,265.9 L176.4,265.9 L176.9,265.9 L177.4,265.9 L177.9,265.9 L178.4,265.9 L178.9,265.9 L179.4,265.9 L179.9,265.9 L180.4,265.9 L180.9,265.9 L181.4,265.9 L181.9,265.9" fill="none" stroke="#1c6fe8" stroke-width="1.5" stroke-linejoin="round"/>
<path d="M24.9,265.9 L25.4,265.9 L25.9,265.9 L26.4,265.9 L26.9,265.9 L27.4,265.9 L27.9,265.9 L28.4,265.9 L28.9,265.9 L29.4,265.9 L29.9,265.9 L30.4,265.9 L30.9,265.9 L31.4,265.9 L31.9,265.9 L32.4,265.9 L32.9,265.9 L33.4,265.9 L33.9,265.9 L34.4,265.9 L34.9,265.9 L35.4,265.9 L35.9,265.9 L36.4,265.9 L36.9,265.9 L37.4,265.9 L37.9,265.9 L38.4,265.9 L38.9,265.9 L39.4,265.9 L39.9,265.9 L40.4,265.9 L40.9,265.9 L41.4,265.9 L41.9,265.9 L42.4,265.9 L42.9,265.9 L43.4,265.9 L43.9,265.9 L44.4,265.9 L44.9,265.9 L45.4,265.9 L45.9,265.9 L46.4,265.9 L46.9,265.9 L47.4,265.9 L47.9,265.9 L48.4,265.9 L48.9,265.9 L49.4,265.9 L49.9,265.9 L50.4,265.9 L50.9,265.9 L51.4,265.9 L51.9,265.9 L52.4,265.9 L52.9,265.9 L53.4,265.9 L53.9,265.9 L54.4,265.9 L54.9,265.9 L55.4,265.9 L55.9,265.9 L56.4,265.9 L56.9,265.9 L57.4,265.9 L57.9,265.9 L58.4,265.89 L58.9,265.89 L59.4,265.89 L59.9,265.88 L60.4,265.88 L60.9,265.87 L61.4,265.86 L61.9,265.84 L62.4,265.81 L62.9,265.78 L63.4,265.74 L63.9,265.68 L64.4,265.61 L64.9,265.52 L65.4,265.4 L65.9,265.25 L66.4,265.07 L66.9,264.84 L67.4,264.56 L67.9,264.22 L68.4,263.82 L68.9,263.34 L69.4,262.78 L69.9,262.12 L70.4,261.37 L70.9,260.53 L71.4,259.58 L71.9,258.52 L72.4,257.37 L72.9,256.13 L73.4,254.8 L73.9,253.41 L74.4,251.96 L74.9,250.49 L75.4,249.01 L75.9,247.55 L76.4,246.14 L76.9,244.82 L77.4,243.6 L77.9,242.52 L78.4,241.61 L78.9,240.89 L79.4,240.37 L79.9,240.07 L80.4,240 L80.9,240.17 L81.4,240.55 L81.9,241.15 L82.4,241.96 L82.9,242.94 L83.4,244.07 L83.9,245.34 L84.4,246.7 L84.9,248.13 L85.4,249.6 L85.9,251.08 L86.4,252.54 L86.9,253.97 L87.4,255.34 L87.9,256.64 L88.4,257.84 L88.9,258.96 L89.4,259.97 L89.9,260.88 L90.4,261.69 L90.9,262.39 L91.4,263.01 L91.9,263.54 L92.4,263.99 L92.9,264.37 L93.4,264.68 L93.9,264.94 L94.4,265.15 L94.9,265.32 L95.4,265.45 L95.9,265.56 L96.4,265.64 L96.9,265.71 L97.4,265.76 L97.9,265.8 L98.4,265.82 L98.9,265.85 L99.4,265.86 L99.9,265.87 L100.4,265.88 L100.9,265.89 L101.4,265.89 L101.9,265.89 L102.4,265.9 L102.9,265.9 L103.4,265.9 L103.9,265.9 L104.4,265.9 L104.9,265.9 L105.4,265.9 L105.9,265.9 L106.4,265.9 L106.9,265.9 L107.4,265.9 L107.9,265.9 L108.4,265.9 L108.9,265.9 L109.4,265.9 L109.9,265.9 L110.4,265.9 L110.9,265.9 L111.4,265.9 L111.9,265.9 L112.4,265.9 L112.9,265.9 L113.4,265.9 L113.9,265.9 L114.4,265.9 L114.9,265.9 L115.4,265.9 L115.9,265.9 L116.4,265.9 L116.9,265.9 L117.4,265.9 L117.9,265.9 L118.4,265.9 L118.9,265.9 L119.4,265.9 L119.9,265.9 L120.4,265.9 L120.9,265.9 L121.4,265.9 L121.9,265.9 L122.4,265.9 L122.9,265.9 L123.4,265.9 L123.9,265.9 L124.4,265.9 L124.9,265.9 L125.4,265.9 L125.9,265.9 L126.4,265.9 L126.9,265.9 L127.4,265.9 L127.9,265.89 L128.4,265.89 L128.9,265.88 L129.4,265.86 L129.9,265.83 L130.4,265.79 L130.9,265.72 L131.4,265.62 L131.9,265.46 L132.4,265.23 L132.9,264.89 L133.4,264.41 L133.9,263.74 L134.4,262.83 L134.9,261.61 L135.4,260.01 L135.9,257.97 L136.4,255.41 L136.9,252.28 L137.4,248.54 L137.9,244.17 L138.4,239.18 L138.9,233.66 L139.4,227.69 L139.9,221.43 L140.4,215.09 L140.9,208.9 L141.4,203.1 L141.9,197.97 L142.4,193.75 L142.9,190.66 L143.4,188.85 L143.9,188.43 L144.4,189.53 L144.9,192.13 L145.4,196.09 L145.9,201.17 L146.4,207.09 L146.9,213.55 L147.4,220.24 L147.9,226.88 L148.4,233.23 L148.9,239.09 L149.4,244.35 L149.9,248.93 L150.4,252.8 L150.9,256 L151.4,258.56 L151.9,260.58 L152.4,262.11 L152.9,263.26 L153.4,264.1 L153.9,264.69 L154.4,265.11 L154.9,265.39 L155.4,265.58 L155.9,265.7 L156.4,265.78 L156.9,265.83 L157.4,265.86 L157.9,265.88 L158.4,265.89 L158.9,265.89 L159.4,265.9 L159.9,265.9 L160.4,265.9 L160.9,265.9 L161.4,265.9 L161.9,265.9 L162.4,265.9 L162.9,265.9 L163.4,265.9 L163.9,265.9 L164.4,265.9 L164.9,265.9 L165.4,265.9 L165.9,265.9 L166.4,265.9 L166.9,265.9 L167.4,265.9 L167.9,265.9 L168.4,265.9 L168.9,265.9 L169.4,265.9 L169.9,265.9 L170.4,265.9 L170.9,265.9 L171.4,265.9 L171.9,265.9 L172.4,265.9 L172.9,265.9 L173.4,265.9 L173.9,265.9 L174.4,265.9 L174.9,265.9 L175.4,265.9 L175.9,265.9 L176.4,265.9 L176.9,265.9 L177.4,265.9 L177.9,265.9 L178.4,265.9 L178.9,265.9 L179.4,265.9 L179.9,265.9 L180.4,265.9 L180.9,265.9 L181.4,265.9 L181.9,265.9" fill="none" stroke="#c464e4" stroke-width="1.5" stroke-linejoin="round"/>
<line x1="24.9" y1="265.9" x2="181.8" y2="265.9" stroke="#a058d0" stroke-width="1.8"/>
<g fill="#505050"><circle cx="27.08" cy="262.69" r="0.75"/><circle cx="29.08" cy="261.7" r="0.75"/><circle cx="31.98" cy="261.61" r="0.75"/><circle cx="33.92" cy="260.43" r="0.75"/><circle cx="36.26" cy="259.44" r="0.75"/><circle cx="38.72" cy="255.79" r="0.75"/><circle cx="40.95" cy="254.51" r="0.75"/><circle cx="43.6" cy="251.69" r="0.75"/><circle cx="45.81" cy="250" r="0.75"/><circle cx="48.81" cy="247.25" r="0.75"/><circle cx="51.03" cy="246.12" r="0.75"/><circle cx="53.37" cy="244.46" r="0.75"/><circle cx="55.33" cy="243.58" r="0.75"/><circle cx="58.43" cy="244.78" r="0.75"/><circle cx="60.87" cy="247.97" r="0.75"/><circle cx="63.01" cy="248.42" r="0.75"/><circle cx="65.48" cy="250.42" r="0.75"/><circle cx="68.1" cy="250.32" r="0.75"/><circle cx="70.14" cy="248.15" r="0.75"/><circle cx="72.82" cy="242.31" r="0.75"/><circle cx="75.06" cy="232.16" r="0.75"/><circle cx="77.63" cy="224.1" r="0.75"/><circle cx="79.85" cy="221.55" r="0.75"/><circle cx="82.4" cy="226.87" r="0.75"/><circle cx="84.73" cy="236.56" r="0.75"/><circle cx="86.96" cy="248.53" r="0.75"/><circle cx="89.21" cy="254.59" r="0.75"/><circle cx="91.79" cy="257.91" r="0.75"/><circle cx="94.21" cy="258.27" r="0.75"/><circle cx="96.8" cy="259.25" r="0.75"/><circle cx="98.81" cy="255.31" r="0.75"/><circle cx="101.36" cy="250.91" r="0.75"/><circle cx="103.97" cy="245.37" r="0.75"/><circle cx="106.3" cy="239.71" r="0.75"/><circle cx="108.58" cy="235.44" r="0.75"/><circle cx="110.68" cy="233.05" r="0.75"/><circle cx="113.3" cy="231.13" r="0.75"/><circle cx="116.04" cy="229.09" r="0.75"/><circle cx="117.71" cy="227.11" r="0.75"/><circle cx="120.64" cy="227.24" r="0.75"/><circle cx="122.64" cy="227.46" r="0.75"/><circle cx="125.43" cy="229.39" r="0.75"/><circle cx="128.01" cy="226.66" r="0.75"/><circle cx="130.23" cy="221.2" r="0.75"/><circle cx="132.44" cy="211.31" r="0.75"/><circle cx="135.23" cy="199.01" r="0.75"/><circle cx="137.21" cy="186.97" r="0.75"/><circle cx="139.55" cy="174.45" r="0.75"/><circle cx="142.1" cy="158.05" r="0.75"/><circle cx="144.78" cy="162.59" r="0.75"/><circle cx="147.26" cy="188.87" r="0.75"/><circle cx="149.04" cy="235.65" r="0.75"/><circle cx="151.52" cy="251.18" r="0.75"/><circle cx="154.03" cy="258.49" r="0.75"/><circle cx="156.5" cy="261.52" r="0.75"/><circle cx="159.17" cy="261.96" r="0.75"/><circle cx="161.26" cy="263.78" r="0.75"/><circle cx="163.33" cy="262.29" r="0.75"/><circle cx="165.73" cy="264.07" r="0.75"/><circle cx="168.56" cy="263.87" r="0.75"/><circle cx="171.13" cy="263.18" r="0.75"/><circle cx="173.01" cy="262.7" r="0.75"/><circle cx="175.32" cy="263.65" r="0.75"/><circle cx="177.89" cy="264.47" r="0.75"/><circle cx="180.14" cy="263.14" r="0.75"/></g>
<path d="M24.9,264.56 L25.4,264.5 L25.9,264.43 L26.4,264.34 L26.9,264.24 L27.4,264.11 L27.9,263.97 L28.4,263.8 L28.9,263.62 L29.4,263.42 L29.9,263.21 L30.4,262.99 L30.9,262.77 L31.4,262.53 L31.9,262.3 L32.4,262.06 L32.9,261.79 L33.4,261.51 L33.9,261.22 L34.4,260.91 L34.9,260.59 L35.4,260.26 L35.9,259.92 L36.4,259.57 L36.9,259.22 L37.4,258.85 L37.9,258.47 L38.4,258.07 L38.9,257.66 L39.4,257.23 L39.9,256.79 L40.4,256.34 L40.9,255.88 L41.4,255.42 L41.9,254.96 L42.4,254.49 L42.9,254.02 L43.4,253.53 L43.9,253.03 L44.4,252.52 L44.9,252 L45.4,251.48 L45.9,250.97 L46.4,250.46 L46.9,249.96 L47.4,249.47 L47.9,249.01 L48.4,248.52 L48.9,248.01 L49.4,247.49 L49.9,246.98 L50.4,246.5 L50.9,246.06 L51.4,245.69 L51.9,245.39 L52.4,245.2 L52.9,245.06 L53.4,244.96 L53.9,244.9 L54.4,244.92 L54.9,245.01 L55.4,245.12 L55.9,245.26 L56.4,245.47 L56.9,245.76 L57.4,246.1 L57.9,246.49 L58.4,246.88 L58.9,247.28 L59.4,247.66 L59.9,248.01 L60.4,248.39 L60.9,248.79 L61.4,249.19 L61.9,249.58 L62.4,249.95 L62.9,250.28 L63.4,250.56 L63.9,250.78 L64.4,251 L64.9,251.2 L65.4,251.39 L65.9,251.54 L66.4,251.65 L66.9,251.7 L67.4,251.66 L67.9,251.52 L68.4,251.27 L68.9,250.94 L69.4,250.55 L69.9,250.09 L70.4,249.55 L70.9,248.53 L71.4,247.05 L71.9,245.22 L72.4,243.16 L72.9,241.01 L73.4,238.88 L73.9,236.9 L74.4,234.85 L74.9,232.58 L75.4,230.29 L75.9,228.18 L76.4,226.46 L76.9,225.27 L77.4,224.21 L77.9,223.29 L78.4,222.65 L78.9,222.4 L79.4,222.54 L79.9,222.92 L80.4,223.49 L80.9,224.19 L81.4,224.97 L81.9,226.28 L82.4,228.15 L82.9,230.39 L83.4,232.76 L83.9,235.05 L84.4,237.18 L84.9,239.47 L85.4,241.86 L85.9,244.27 L86.4,246.59 L86.9,248.71 L87.4,250.53 L87.9,251.96 L88.4,253.2 L88.9,254.37 L89.4,255.45 L89.9,256.42 L90.4,257.25 L90.9,257.92 L91.4,258.42 L91.9,258.79 L92.4,259.13 L92.9,259.44 L93.4,259.72 L93.9,259.94 L94.4,260.1 L94.9,260.18 L95.4,260.17 L95.9,259.85 L96.4,259.3 L96.9,258.61 L97.4,257.93 L97.9,257.27 L98.4,256.54 L98.9,255.75 L99.4,254.91 L99.9,254.05 L100.4,253.13 L100.9,252.15 L101.4,251.14 L101.9,250.1 L102.4,249.05 L102.9,248.02 L103.4,247 L103.9,245.98 L104.4,244.94 L104.9,243.89 L105.4,242.85 L105.9,241.84 L106.4,240.86 L106.9,239.95 L107.4,239.09 L107.9,238.26 L108.4,237.44 L108.9,236.66 L109.4,235.92 L109.9,235.22 L110.4,234.57 L110.9,233.99 L111.4,233.44 L111.9,232.93 L112.4,232.44 L112.9,231.98 L113.4,231.55 L113.9,231.15 L114.4,230.77 L114.9,230.4 L115.4,230 L115.9,229.6 L116.4,229.23 L116.9,228.91 L117.4,228.67 L117.9,228.52 L118.4,228.5 L118.9,228.5 L119.4,228.51 L119.9,228.52 L120.4,228.54 L120.9,228.55 L121.4,228.58 L121.9,228.6 L122.4,228.71 L122.9,228.95 L123.4,229.23 L123.9,229.47 L124.4,229.6 L124.9,229.57 L125.4,229.45 L125.9,229.27 L126.4,229.05 L126.9,228.67 L127.4,228.09 L127.9,227.37 L128.4,226.55 L128.9,225.62 L129.4,224.46 L129.9,223.06 L130.4,221.47 L130.9,219.74 L131.4,217.9 L131.9,215.79 L132.4,213.33 L132.9,210.68 L133.4,208 L133.9,205.24 L134.4,202.3 L134.9,199.3 L135.4,196.35 L135.9,193.55 L136.4,191.03 L136.9,188.78 L137.4,186.7 L137.9,184.63 L138.4,182.45 L138.9,180 L139.4,177.11 L139.9,173.85 L140.4,170.46 L140.9,167.18 L141.4,164.22 L141.9,160.98 L142.4,157.97 L142.9,156.35 L143.4,156.92 L143.9,159.08 L144.4,162.15 L144.9,165.48 L145.4,169.7 L145.9,175.08 L146.4,181.34 L146.9,189.35 L147.4,199.12 L147.9,212.38 L148.4,226.59 L148.9,233.34 L149.4,237.76 L149.9,240.8 L150.4,243.21 L150.9,245.9 L151.4,249.7 L151.9,253.68 L152.4,256.12 L152.9,257.56 L153.4,258.73 L153.9,259.65 L154.4,260.36 L154.9,260.9 L155.4,261.34 L155.9,261.75 L156.4,262.1 L156.9,262.42 L157.4,262.68 L157.9,262.91 L158.4,263.09 L158.9,263.22 L159.4,263.34 L159.9,263.45 L160.4,263.55 L160.9,263.65 L161.4,263.73 L161.9,263.81 L162.4,263.89 L162.9,263.95 L163.4,264.01 L163.9,264.06 L164.4,264.11 L164.9,264.15 L165.4,264.18 L165.9,264.21 L166.4,264.24 L166.9,264.27 L167.4,264.29 L167.9,264.32 L168.4,264.34 L168.9,264.37 L169.4,264.39 L169.9,264.42 L170.4,264.44 L170.9,264.46 L171.4,264.48 L171.9,264.5 L172.4,264.52 L172.9,264.54 L173.4,264.56 L173.9,264.58 L174.4,264.6 L174.9,264.62 L175.4,264.63 L175.9,264.65 L176.4,264.66 L176.9,264.68 L177.4,264.69 L177.9,264.7 L178.4,264.72 L178.9,264.73 L179.4,264.74 L179.9,264.75 L180.4,264.76 L180.9,264.76 L181.4,264.77 L181.9,264.78" fill="none" stroke="#8e4242" stroke-width="1.85" stroke-linejoin="round" stroke-linecap="round"/>
<path d="M204.1,132.4 L204.55,132.21 L205,133.19 L205.45,128.14 L205.9,127.33 L206.35,127.22 L206.8,131.29 L207.25,130.27 L207.7,128.27 L208.15,135.7 L208.6,125.38 L209.05,128.18 L209.5,125.91 L209.95,128.76 L210.4,128.65 L210.85,135.7 L211.3,125.59 L211.75,122.17 L212.2,126.87 L212.65,123.33 L213.1,121.34 L213.55,124.46 L214,118.68 L214.45,121.35 L214.9,124.99 L215.35,115.99 L215.8,126.61 L216.25,121.44 L216.7,121.75 L217.15,116.19 L217.6,116.52 L218.05,118.51 L218.5,119.54 L218.95,115.57 L219.4,118.85 L219.85,114.2 L220.3,119.07 L220.75,123.95 L221.2,124.02 L221.65,114.48 L222.1,115.36 L222.55,123.19 L223,117.61 L223.45,112.73 L223.9,111.59 L224.35,116.14 L224.8,113.76 L225.25,111.8 L225.7,121.08 L226.15,118.42 L226.6,113.13 L227.05,111.55 L227.5,111.8 L227.95,120.16 L228.4,113.85 L228.85,109.6 L229.3,116.19 L229.75,117.98 L230.2,128.51 L230.65,119.04 L231.1,115.41 L231.55,115.1 L232,114.18 L232.45,123.44 L232.9,114.54 L233.35,126.38 L233.8,132.16 L234.25,119.72 L234.7,114.52 L235.15,121.04 L235.6,116.57 L236.05,124.39 L236.5,117.42 L236.95,122.2 L237.4,121.53 L237.85,123.54 L238.3,135.7 L238.75,121.42 L239.2,126.36 L239.65,127.28 L240.1,128.22 L240.55,126.81 L241,126.27 L241.45,126.04 L241.9,129.24 L242.35,123.03 L242.8,126.81 L243.25,126.97 L243.7,127.26 L244.15,124.57 L244.6,123.57 L245.05,118.02 L245.5,116.14 L245.95,116.11 L246.4,113.16 L246.85,112.47 L247.3,110.54 L247.75,108.37 L248.2,108.05 L248.65,105.71 L249.1,108.83 L249.55,101.25 L250,97.63 L250.45,98.41 L250.9,98.16 L251.35,98.43 L251.8,98.62 L252.25,102.85 L252.7,97.58 L253.15,98.56 L253.6,99.8 L254.05,107.15 L254.5,103.95 L254.95,104.71 L255.4,107.24 L255.85,107.38 L256.3,107.22 L256.75,110.77 L257.2,113.75 L257.65,123.66 L258.1,116.3 L258.55,119.68 L259,130.28 L259.45,124.52 L259.9,127.06 L260.35,131.22 L260.8,129.38 L261.25,128.49 L261.7,129.44 L262.15,130.37 L262.6,130.99 L263.05,131.69 L263.5,129.48 L263.95,131.63 L264.4,130.89 L264.85,131.62 L265.3,131.51 L265.75,129.93 L266.2,132.3 L266.65,129.19 L267.1,133.2 L267.55,130.83 L268,131.81 L268.45,131.51 L268.9,131.22 L269.35,132.33 L269.8,133.6 L270.25,131.19 L270.7,132.56 L271.15,132.27 L271.6,131.63 L272.05,132.48 L272.5,131.85 L272.95,131.19 L273.4,133.42 L273.85,132.34 L274.3,130.82 L274.75,131.04 L275.2,132.26 L275.65,129.57 L276.1,133.82 L276.55,132.37 L277,132.24 L277.45,131.9 L277.9,130.8 L278.35,131.9 L278.8,130.39 L279.25,130.49 L279.7,130.39 L280.15,128.82 L280.6,131.72 L281.05,131.66 L281.5,127.93 L281.95,131.26 L282.4,126.42 L282.85,128.78 L283.3,130.49 L283.75,135.7 L284.2,132.82 L284.65,123.75 L285.1,123.19 L285.55,120.31 L286,123.3 L286.45,121.68 L286.9,123.61 L287.35,119.99 L287.8,119.96 L288.25,119.69 L288.7,117.92 L289.15,116.72 L289.6,115.26 L290.05,114.56 L290.5,110.85 L290.95,110.79 L291.4,116.11 L291.85,102.03 L292.3,103.98 L292.75,101.46 L293.2,100.48 L293.65,98.93 L294.1,100.62 L294.55,93.63 L295,97.03 L295.45,94.76 L295.9,95.08 L296.35,95.01 L296.8,96.87 L297.25,93.25 L297.7,95.98 L298.15,93.47 L298.6,87.55 L299.05,93.85 L299.5,92.17 L299.95,90.9 L300.4,89.46 L300.85,92.37 L301.3,94.8 L301.75,89.36 L302.2,97.12 L302.65,96.73 L303.1,95.61 L303.55,95.79 L304,95.77 L304.45,101.05 L304.9,98.03 L305.35,98.5 L305.8,104.53 L306.25,104.94 L306.7,105.46 L307.15,111.47 L307.6,106.25 L308.05,105.08 L308.5,106.27 L308.95,104.9 L309.4,106.91 L309.85,106.23 L310.3,104.66 L310.75,106.26 L311.2,107.23 L311.65,100.84 L312.1,107.94 L312.55,96.81 L313,100.42 L313.45,97.92 L313.9,95.42 L314.35,91.11 L314.8,88.07 L315.25,83.1 L315.7,78.08 L316.15,72.61 L316.6,68.43 L317.05,62.81 L317.5,59.08 L317.95,52.3 L318.4,50.89 L318.85,45.04 L319.3,41.4 L319.75,37.06 L320.2,32.38 L320.65,31.71 L321.1,28.7 L321.55,25.66 L322,24.63 L322.45,23.09 L322.9,23.09 L323.35,24.34 L323.8,24.4 L324.25,27.17 L324.7,28.36 L325.15,30.59 L325.6,34.97 L326.05,37.99 L326.5,41 L326.95,44.84 L327.4,50.18 L327.85,54.41 L328.3,59.24 L328.75,63.74 L329.2,68.66 L329.65,74.2 L330.1,79.05 L330.55,84.32 L331,88.73 L331.45,91.99 L331.9,96.42 L332.35,100.28 L332.8,106 L333.25,114.33 L333.7,111.85 L334.15,114.81 L334.6,115.82 L335.05,116.43 L335.5,120 L335.95,130.89 L336.4,128.26 L336.85,133.73 L337.3,132 L337.75,129.86 L338.2,131.21 L338.65,132.34 L339.1,131.1 L339.55,133.29 L340,131.04 L340.45,132.08 L340.9,132 L341.35,131.61 L341.8,135.7 L342.25,133.52 L342.7,133.73 L343.15,128.87 L343.6,132.49 L344.05,130.02 L344.5,128.81 L344.95,135.7 L345.4,133.56 L345.85,132.22 L346.3,131.13 L346.75,133.09 L347.2,130.5 L347.65,130.67 L348.1,131.68 L348.55,135.7 L349,132.27 L349.45,128.03 L349.9,131.81 L350.35,135.34 L350.8,127.39 L351.25,135.7 L351.7,135.7 L352.15,131.32 L352.6,131.28 L353.05,135.7 L353.5,135.28 L353.95,135.7 L354.4,129.1 L354.85,130.8 L355.3,134.01 L355.75,132.39 L356.2,135.27 L356.65,131.61 L357.1,135.53 L357.55,131.9 L358,130.86 L358.45,132.83 L358.9,135.7 L359.35,131.78 L359.8,130.87 L360.25,130.28 L360.7,131.43 L361.15,131.02 L361.6,132.55" fill="none" stroke="#111" stroke-width="1.2" stroke-linejoin="miter"/>
<path d="M203.6,135.4 L203.6,131.38 L204.1,131.06 L204.6,130.72 L205.1,130.37 L205.6,130.01 L206.1,129.62 L206.6,129.22 L207.1,128.81 L207.6,128.38 L208.1,127.94 L208.6,127.49 L209.1,127.02 L209.6,126.54 L210.1,126.06 L210.6,125.56 L211.1,125.06 L211.6,124.55 L212.1,124.04 L212.6,123.53 L213.1,123.02 L213.6,122.51 L214.1,122.01 L214.6,121.51 L215.1,121.02 L215.6,120.54 L216.1,120.08 L216.6,119.63 L217.1,119.2 L217.6,118.78 L218.1,118.39 L218.6,118.03 L219.1,117.68 L219.6,117.37 L220.1,117.08 L220.6,116.83 L221.1,116.61 L221.6,116.42 L222.1,116.26 L222.6,116.14 L223.1,116.06 L223.6,116.01 L224.1,116 L224.6,116.03 L225.1,116.1 L225.6,116.22 L226.1,116.38 L226.6,116.57 L227.1,116.81 L227.6,117.09 L228.1,117.4 L228.6,117.74 L229.1,118.12 L229.6,118.53 L230.1,118.96 L230.6,119.42 L231.1,119.9 L231.6,120.4 L232.1,120.91 L232.6,121.44 L233.1,121.98 L233.6,122.53 L234.1,123.08 L234.6,123.63 L235.1,124.19 L235.6,124.74 L236.1,125.29 L236.6,125.83 L237.1,126.36 L237.6,126.88 L238.1,127.39 L238.6,127.89 L239.1,128.37 L239.6,128.83 L240.1,129.28 L240.6,129.71 L241.1,130.12 L241.6,130.51 L242.1,130.88 L242.6,131.24 L243.1,131.57 L243.6,131.89 L244.1,132.19 L244.6,132.46 L245.1,132.72 L245.6,132.97 L246.1,133.19 L246.6,133.4 L247.1,133.59 L247.6,133.77 L248.1,133.94 L248.6,134.09 L249.1,134.22 L249.6,134.35 L250.1,134.46 L250.6,134.57 L251.1,134.66 L251.6,134.75 L252.1,134.82 L252.6,134.89 L253.1,134.95 L253.6,135.01 L254.1,135.06 L254.6,135.1 L255.1,135.14 L255.6,135.17 L256.1,135.2 L256.6,135.23 L257.1,135.25 L257.6,135.27 L258.1,135.29 L258.6,135.31 L259.1,135.32 L259.6,135.33 L260.1,135.34 L260.1,135.4Z" fill="#f2cf80" fill-opacity="0.5"/>
<path d="M203.6,131.38 L204.1,131.06 L204.6,130.72 L205.1,130.37 L205.6,130.01 L206.1,129.62 L206.6,129.22 L207.1,128.81 L207.6,128.38 L208.1,127.94 L208.6,127.49 L209.1,127.02 L209.6,126.54 L210.1,126.06 L210.6,125.56 L211.1,125.06 L211.6,124.55 L212.1,124.04 L212.6,123.53 L213.1,123.02 L213.6,122.51 L214.1,122.01 L214.6,121.51 L215.1,121.02 L215.6,120.54 L216.1,120.08 L216.6,119.63 L217.1,119.2 L217.6,118.78 L218.1,118.39 L218.6,118.03 L219.1,117.68 L219.6,117.37 L220.1,117.08 L220.6,116.83 L221.1,116.61 L221.6,116.42 L222.1,116.26 L222.6,116.14 L223.1,116.06 L223.6,116.01 L224.1,116 L224.6,116.03 L225.1,116.1 L225.6,116.22 L226.1,116.38 L226.6,116.57 L227.1,116.81 L227.6,117.09 L228.1,117.4 L228.6,117.74 L229.1,118.12 L229.6,118.53 L230.1,118.96 L230.6,119.42 L231.1,119.9 L231.6,120.4 L232.1,120.91 L232.6,121.44 L233.1,121.98 L233.6,122.53 L234.1,123.08 L234.6,123.63 L235.1,124.19 L235.6,124.74 L236.1,125.29 L236.6,125.83 L237.1,126.36 L237.6,126.88 L238.1,127.39 L238.6,127.89 L239.1,128.37 L239.6,128.83 L240.1,129.28 L240.6,129.71 L241.1,130.12 L241.6,130.51 L242.1,130.88 L242.6,131.24 L243.1,131.57 L243.6,131.89 L244.1,132.19 L244.6,132.46 L245.1,132.72 L245.6,132.97 L246.1,133.19 L246.6,133.4 L247.1,133.59 L247.6,133.77 L248.1,133.94 L248.6,134.09 L249.1,134.22 L249.6,134.35 L250.1,134.46 L250.6,134.57 L251.1,134.66 L251.6,134.75 L252.1,134.82 L252.6,134.89 L253.1,134.95 L253.6,135.01 L254.1,135.06 L254.6,135.1 L255.1,135.14 L255.6,135.17 L256.1,135.2 L256.6,135.23 L257.1,135.25 L257.6,135.27 L258.1,135.29 L258.6,135.31 L259.1,135.32 L259.6,135.33 L260.1,135.34 L260.6,135.35 L261.1,135.36 L261.6,135.36 L262.1,135.37 L262.6,135.37 L263.1,135.38 L263.6,135.38 L264.1,135.38 L264.6,135.39 L265.1,135.39 L265.6,135.39 L266.1,135.39 L266.6,135.39 L267.1,135.4 L267.6,135.4 L268.1,135.4 L268.6,135.4 L269.1,135.4 L269.6,135.4 L270.1,135.4 L270.6,135.4 L271.1,135.4 L271.6,135.4 L272.1,135.4 L272.6,135.4 L273.1,135.4 L273.6,135.4 L274.1,135.4 L274.6,135.4 L275.1,135.4 L275.6,135.4 L276.1,135.4 L276.6,135.4 L277.1,135.4 L277.6,135.4 L278.1,135.4 L278.6,135.4 L279.1,135.4 L279.6,135.4 L280.1,135.4 L280.6,135.4 L281.1,135.4 L281.6,135.4 L282.1,135.4 L282.6,135.4 L283.1,135.4 L283.6,135.4 L284.1,135.4 L284.6,135.4 L285.1,135.4 L285.6,135.4 L286.1,135.4 L286.6,135.4 L287.1,135.4 L287.6,135.4 L288.1,135.4 L288.6,135.4 L289.1,135.4 L289.6,135.4 L290.1,135.4 L290.6,135.4 L291.1,135.4 L291.6,135.4 L292.1,135.4 L292.6,135.4 L293.1,135.4 L293.6,135.4 L294.1,135.4 L294.6,135.4 L295.1,135.4 L295.6,135.4 L296.1,135.4 L296.6,135.4 L297.1,135.4 L297.6,135.4 L298.1,135.4 L298.6,135.4 L299.1,135.4 L299.6,135.4 L300.1,135.4 L300.6,135.4 L301.1,135.4 L301.6,135.4 L302.1,135.4 L302.6,135.4 L303.1,135.4 L303.6,135.4 L304.1,135.4 L304.6,135.4 L305.1,135.4 L305.6,135.4 L306.1,135.4 L306.6,135.4 L307.1,135.4 L307.6,135.4 L308.1,135.4 L308.6,135.4 L309.1,135.4 L309.6,135.4 L310.1,135.4 L310.6,135.4 L311.1,135.4 L311.6,135.4 L312.1,135.4 L312.6,135.4 L313.1,135.4 L313.6,135.4 L314.1,135.4 L314.6,135.4 L315.1,135.4 L315.6,135.4 L316.1,135.4 L316.6,135.4 L317.1,135.4 L317.6,135.4 L318.1,135.4 L318.6,135.4 L319.1,135.4 L319.6,135.4 L320.1,135.4 L320.6,135.4 L321.1,135.4 L321.6,135.4 L322.1,135.4 L322.6,135.4 L323.1,135.4 L323.6,135.4 L324.1,135.4 L324.6,135.4 L325.1,135.4 L325.6,135.4 L326.1,135.4 L326.6,135.4 L327.1,135.4 L327.6,135.4 L328.1,135.4 L328.6,135.4 L329.1,135.4 L329.6,135.4 L330.1,135.4 L330.6,135.4 L331.1,135.4 L331.6,135.4 L332.1,135.4 L332.6,135.4 L333.1,135.4 L333.6,135.4 L334.1,135.4 L334.6,135.4 L335.1,135.4 L335.6,135.4 L336.1,135.4 L336.6,135.4 L337.1,135.4 L337.6,135.4 L338.1,135.4 L338.6,135.4 L339.1,135.4 L339.6,135.4 L340.1,135.4 L340.6,135.4 L341.1,135.4 L341.6,135.4 L342.1,135.4 L342.6,135.4 L343.1,135.4 L343.6,135.4 L344.1,135.4 L344.6,135.4 L345.1,135.4 L345.6,135.4 L346.1,135.4 L346.6,135.4 L347.1,135.4 L347.6,135.4 L348.1,135.4 L348.6,135.4 L349.1,135.4 L349.6,135.4 L350.1,135.4 L350.6,135.4 L351.1,135.4 L351.6,135.4 L352.1,135.4 L352.6,135.4 L353.1,135.4 L353.6,135.4 L354.1,135.4 L354.6,135.4 L355.1,135.4 L355.6,135.4 L356.1,135.4 L356.6,135.4 L357.1,135.4 L357.6,135.4 L358.1,135.4 L358.6,135.4 L359.1,135.4 L359.6,135.4 L360.1,135.4 L360.6,135.4 L361.1,135.4 L361.6,135.4 L362.1,135.4" fill="none" stroke="#e0a020" stroke-width="1.6" stroke-linejoin="round"/>
<path d="M295.6,135.4 L295.6,135.34 L296.1,135.33 L296.6,135.3 L297.1,135.27 L297.6,135.23 L298.1,135.18 L298.6,135.11 L299.1,135.03 L299.6,134.93 L300.1,134.81 L300.6,134.66 L301.1,134.48 L301.6,134.26 L302.1,134 L302.6,133.69 L303.1,133.33 L303.6,132.91 L304.1,132.42 L304.6,131.87 L305.1,131.23 L305.6,130.52 L306.1,129.73 L306.6,128.85 L307.1,127.89 L307.6,126.85 L308.1,125.73 L308.6,124.55 L309.1,123.3 L309.6,121.99 L310.1,120.66 L310.6,119.3 L311.1,117.93 L311.6,116.59 L312.1,115.28 L312.6,114.02 L313.1,112.85 L313.6,111.77 L314.1,110.82 L314.6,110 L315.1,109.34 L315.6,108.85 L316.1,108.53 L316.6,108.4 L317.1,108.46 L317.6,108.7 L318.1,109.13 L318.6,109.72 L319.1,110.48 L319.6,111.38 L320.1,112.4 L320.6,113.54 L321.1,114.77 L321.6,116.06 L322.1,117.39 L322.6,118.75 L323.1,120.11 L323.6,121.46 L324.1,122.78 L324.6,124.05 L325.1,125.27 L325.6,126.41 L326.1,127.49 L326.6,128.48 L327.1,129.39 L327.6,130.22 L328.1,130.96 L328.6,131.62 L329.1,132.21 L329.6,132.72 L330.1,133.17 L330.6,133.56 L331.1,133.88 L331.6,134.16 L332.1,134.4 L332.6,134.59 L333.1,134.76 L333.6,134.89 L334.1,135 L334.6,135.08 L335.1,135.15 L335.6,135.21 L336.1,135.26 L336.6,135.29 L337.1,135.32 L337.6,135.34 L337.6,135.4Z" fill="#c89060" fill-opacity="0.45"/>
<path d="M203.6,135.4 L204.1,135.4 L204.6,135.4 L205.1,135.4 L205.6,135.4 L206.1,135.4 L206.6,135.4 L207.1,135.4 L207.6,135.4 L208.1,135.4 L208.6,135.4 L209.1,135.4 L209.6,135.4 L210.1,135.4 L210.6,135.4 L211.1,135.4 L211.6,135.4 L212.1,135.4 L212.6,135.4 L213.1,135.4 L213.6,135.4 L214.1,135.4 L214.6,135.4 L215.1,135.4 L215.6,135.4 L216.1,135.4 L216.6,135.4 L217.1,135.4 L217.6,135.4 L218.1,135.4 L218.6,135.4 L219.1,135.4 L219.6,135.4 L220.1,135.4 L220.6,135.4 L221.1,135.4 L221.6,135.4 L222.1,135.4 L222.6,135.4 L223.1,135.4 L223.6,135.4 L224.1,135.4 L224.6,135.4 L225.1,135.4 L225.6,135.4 L226.1,135.4 L226.6,135.4 L227.1,135.4 L227.6,135.4 L228.1,135.4 L228.6,135.4 L229.1,135.4 L229.6,135.4 L230.1,135.4 L230.6,135.4 L231.1,135.4 L231.6,135.4 L232.1,135.4 L232.6,135.4 L233.1,135.4 L233.6,135.4 L234.1,135.4 L234.6,135.4 L235.1,135.4 L235.6,135.4 L236.1,135.4 L236.6,135.4 L237.1,135.4 L237.6,135.4 L238.1,135.4 L238.6,135.4 L239.1,135.4 L239.6,135.4 L240.1,135.4 L240.6,135.4 L241.1,135.4 L241.6,135.4 L242.1,135.4 L242.6,135.4 L243.1,135.4 L243.6,135.4 L244.1,135.4 L244.6,135.4 L245.1,135.4 L245.6,135.4 L246.1,135.4 L246.6,135.4 L247.1,135.4 L247.6,135.4 L248.1,135.4 L248.6,135.4 L249.1,135.4 L249.6,135.4 L250.1,135.4 L250.6,135.4 L251.1,135.4 L251.6,135.4 L252.1,135.4 L252.6,135.4 L253.1,135.4 L253.6,135.4 L254.1,135.4 L254.6,135.4 L255.1,135.4 L255.6,135.4 L256.1,135.4 L256.6,135.4 L257.1,135.4 L257.6,135.4 L258.1,135.4 L258.6,135.4 L259.1,135.4 L259.6,135.4 L260.1,135.4 L260.6,135.4 L261.1,135.4 L261.6,135.4 L262.1,135.4 L262.6,135.4 L263.1,135.4 L263.6,135.4 L264.1,135.4 L264.6,135.4 L265.1,135.4 L265.6,135.4 L266.1,135.4 L266.6,135.4 L267.1,135.4 L267.6,135.4 L268.1,135.4 L268.6,135.4 L269.1,135.4 L269.6,135.4 L270.1,135.4 L270.6,135.4 L271.1,135.4 L271.6,135.4 L272.1,135.4 L272.6,135.4 L273.1,135.4 L273.6,135.4 L274.1,135.4 L274.6,135.4 L275.1,135.4 L275.6,135.4 L276.1,135.4 L276.6,135.4 L277.1,135.4 L277.6,135.4 L278.1,135.4 L278.6,135.4 L279.1,135.4 L279.6,135.4 L280.1,135.4 L280.6,135.4 L281.1,135.4 L281.6,135.4 L282.1,135.4 L282.6,135.4 L283.1,135.4 L283.6,135.4 L284.1,135.4 L284.6,135.4 L285.1,135.4 L285.6,135.4 L286.1,135.4 L286.6,135.4 L287.1,135.4 L287.6,135.4 L288.1,135.4 L288.6,135.4 L289.1,135.4 L289.6,135.4 L290.1,135.4 L290.6,135.4 L291.1,135.4 L291.6,135.4 L292.1,135.39 L292.6,135.39 L293.1,135.39 L293.6,135.38 L294.1,135.38 L294.6,135.37 L295.1,135.36 L295.6,135.34 L296.1,135.33 L296.6,135.3 L297.1,135.27 L297.6,135.23 L298.1,135.18 L298.6,135.11 L299.1,135.03 L299.6,134.93 L300.1,134.81 L300.6,134.66 L301.1,134.48 L301.6,134.26 L302.1,134 L302.6,133.69 L303.1,133.33 L303.6,132.91 L304.1,132.42 L304.6,131.87 L305.1,131.23 L305.6,130.52 L306.1,129.73 L306.6,128.85 L307.1,127.89 L307.6,126.85 L308.1,125.73 L308.6,124.55 L309.1,123.3 L309.6,121.99 L310.1,120.66 L310.6,119.3 L311.1,117.93 L311.6,116.59 L312.1,115.28 L312.6,114.02 L313.1,112.85 L313.6,111.77 L314.1,110.82 L314.6,110 L315.1,109.34 L315.6,108.85 L316.1,108.53 L316.6,108.4 L317.1,108.46 L317.6,108.7 L318.1,109.13 L318.6,109.72 L319.1,110.48 L319.6,111.38 L320.1,112.4 L320.6,113.54 L321.1,114.77 L321.6,116.06 L322.1,117.39 L322.6,118.75 L323.1,120.11 L323.6,121.46 L324.1,122.78 L324.6,124.05 L325.1,125.27 L325.6,126.41 L326.1,127.49 L326.6,128.48 L327.1,129.39 L327.6,130.22 L328.1,130.96 L328.6,131.62 L329.1,132.21 L329.6,132.72 L330.1,133.17 L330.6,133.56 L331.1,133.88 L331.6,134.16 L332.1,134.4 L332.6,134.59 L333.1,134.76 L333.6,134.89 L334.1,135 L334.6,135.08 L335.1,135.15 L335.6,135.21 L336.1,135.26 L336.6,135.29 L337.1,135.32 L337.6,135.34 L338.1,135.35 L338.6,135.37 L339.1,135.37 L339.6,135.38 L340.1,135.39 L340.6,135.39 L341.1,135.39 L341.6,135.4 L342.1,135.4 L342.6,135.4 L343.1,135.4 L343.6,135.4 L344.1,135.4 L344.6,135.4 L345.1,135.4 L345.6,135.4 L346.1,135.4 L346.6,135.4 L347.1,135.4 L347.6,135.4 L348.1,135.4 L348.6,135.4 L349.1,135.4 L349.6,135.4 L350.1,135.4 L350.6,135.4 L351.1,135.4 L351.6,135.4 L352.1,135.4 L352.6,135.4 L353.1,135.4 L353.6,135.4 L354.1,135.4 L354.6,135.4 L355.1,135.4 L355.6,135.4 L356.1,135.4 L356.6,135.4 L357.1,135.4 L357.6,135.4 L358.1,135.4 L358.6,135.4 L359.1,135.4 L359.6,135.4 L360.1,135.4 L360.6,135.4 L361.1,135.4 L361.6,135.4 L362.1,135.4" fill="none" stroke="#c8642a" stroke-width="1.6" stroke-linejoin="round"/>
<path d="M274.6,135.4 L274.6,135.34 L275.1,135.33 L275.6,135.31 L276.1,135.28 L276.6,135.24 L277.1,135.2 L277.6,135.14 L278.1,135.07 L278.6,134.98 L279.1,134.88 L279.6,134.75 L280.1,134.59 L280.6,134.4 L281.1,134.18 L281.6,133.91 L282.1,133.59 L282.6,133.22 L283.1,132.79 L283.6,132.29 L284.1,131.72 L284.6,131.07 L285.1,130.33 L285.6,129.49 L286.1,128.56 L286.6,127.53 L287.1,126.39 L287.6,125.15 L288.1,123.81 L288.6,122.36 L289.1,120.81 L289.6,119.18 L290.1,117.47 L290.6,115.68 L291.1,113.85 L291.6,111.98 L292.1,110.09 L292.6,108.21 L293.1,106.36 L293.6,104.55 L294.1,102.82 L294.6,101.2 L295.1,99.69 L295.6,98.33 L296.1,97.15 L296.6,96.14 L297.1,95.35 L297.6,94.77 L298.1,94.42 L298.6,94.3 L299.1,94.4 L299.6,94.69 L300.1,95.18 L300.6,95.86 L301.1,96.7 L301.6,97.72 L302.1,98.88 L302.6,100.18 L303.1,101.59 L303.6,103.11 L304.1,104.7 L304.6,106.36 L305.1,108.06 L305.6,109.78 L306.1,111.51 L306.6,113.23 L307.1,114.93 L307.6,116.58 L308.1,118.19 L308.6,119.73 L309.1,121.21 L309.6,122.61 L310.1,123.92 L310.6,125.15 L311.1,126.29 L311.6,127.35 L312.1,128.31 L312.6,129.19 L313.1,129.99 L313.6,130.71 L314.1,131.35 L314.6,131.92 L315.1,132.43 L315.6,132.87 L316.1,133.26 L316.6,133.59 L317.1,133.89 L317.6,134.14 L318.1,134.35 L318.6,134.53 L319.1,134.69 L319.6,134.82 L320.1,134.92 L320.6,135.01 L321.1,135.09 L321.6,135.15 L322.1,135.2 L322.6,135.24 L323.1,135.27 L323.6,135.3 L324.1,135.32 L324.6,135.34 L324.6,135.4Z" fill="#40c890" fill-opacity="0.33"/>
<path d="M203.6,135.4 L204.1,135.4 L204.6,135.4 L205.1,135.4 L205.6,135.4 L206.1,135.4 L206.6,135.4 L207.1,135.4 L207.6,135.4 L208.1,135.4 L208.6,135.4 L209.1,135.4 L209.6,135.4 L210.1,135.4 L210.6,135.4 L211.1,135.4 L211.6,135.4 L212.1,135.4 L212.6,135.4 L213.1,135.4 L213.6,135.4 L214.1,135.4 L214.6,135.4 L215.1,135.4 L215.6,135.4 L216.1,135.4 L216.6,135.4 L217.1,135.4 L217.6,135.4 L218.1,135.4 L218.6,135.4 L219.1,135.4 L219.6,135.4 L220.1,135.4 L220.6,135.4 L221.1,135.4 L221.6,135.4 L222.1,135.4 L222.6,135.4 L223.1,135.4 L223.6,135.4 L224.1,135.4 L224.6,135.4 L225.1,135.4 L225.6,135.4 L226.1,135.4 L226.6,135.4 L227.1,135.4 L227.6,135.4 L228.1,135.4 L228.6,135.4 L229.1,135.4 L229.6,135.4 L230.1,135.4 L230.6,135.4 L231.1,135.4 L231.6,135.4 L232.1,135.4 L232.6,135.4 L233.1,135.4 L233.6,135.4 L234.1,135.4 L234.6,135.4 L235.1,135.4 L235.6,135.4 L236.1,135.4 L236.6,135.4 L237.1,135.4 L237.6,135.4 L238.1,135.4 L238.6,135.4 L239.1,135.4 L239.6,135.4 L240.1,135.4 L240.6,135.4 L241.1,135.4 L241.6,135.4 L242.1,135.4 L242.6,135.4 L243.1,135.4 L243.6,135.4 L244.1,135.4 L244.6,135.4 L245.1,135.4 L245.6,135.4 L246.1,135.4 L246.6,135.4 L247.1,135.4 L247.6,135.4 L248.1,135.4 L248.6,135.4 L249.1,135.4 L249.6,135.4 L250.1,135.4 L250.6,135.4 L251.1,135.4 L251.6,135.4 L252.1,135.4 L252.6,135.4 L253.1,135.4 L253.6,135.4 L254.1,135.4 L254.6,135.4 L255.1,135.4 L255.6,135.4 L256.1,135.4 L256.6,135.4 L257.1,135.4 L257.6,135.4 L258.1,135.4 L258.6,135.4 L259.1,135.4 L259.6,135.4 L260.1,135.4 L260.6,135.4 L261.1,135.4 L261.6,135.4 L262.1,135.4 L262.6,135.4 L263.1,135.4 L263.6,135.4 L264.1,135.4 L264.6,135.4 L265.1,135.4 L265.6,135.4 L266.1,135.4 L266.6,135.4 L267.1,135.4 L267.6,135.4 L268.1,135.4 L268.6,135.4 L269.1,135.4 L269.6,135.4 L270.1,135.4 L270.6,135.39 L271.1,135.39 L271.6,135.39 L272.1,135.39 L272.6,135.38 L273.1,135.38 L273.6,135.37 L274.1,135.36 L274.6,135.34 L275.1,135.33 L275.6,135.31 L276.1,135.28 L276.6,135.24 L277.1,135.2 L277.6,135.14 L278.1,135.07 L278.6,134.98 L279.1,134.88 L279.6,134.75 L280.1,134.59 L280.6,134.4 L281.1,134.18 L281.6,133.91 L282.1,133.59 L282.6,133.22 L283.1,132.79 L283.6,132.29 L284.1,131.72 L284.6,131.07 L285.1,130.33 L285.6,129.49 L286.1,128.56 L286.6,127.53 L287.1,126.39 L287.6,125.15 L288.1,123.81 L288.6,122.36 L289.1,120.81 L289.6,119.18 L290.1,117.47 L290.6,115.68 L291.1,113.85 L291.6,111.98 L292.1,110.09 L292.6,108.21 L293.1,106.36 L293.6,104.55 L294.1,102.82 L294.6,101.2 L295.1,99.69 L295.6,98.33 L296.1,97.15 L296.6,96.14 L297.1,95.35 L297.6,94.77 L298.1,94.42 L298.6,94.3 L299.1,94.4 L299.6,94.69 L300.1,95.18 L300.6,95.86 L301.1,96.7 L301.6,97.72 L302.1,98.88 L302.6,100.18 L303.1,101.59 L303.6,103.11 L304.1,104.7 L304.6,106.36 L305.1,108.06 L305.6,109.78 L306.1,111.51 L306.6,113.23 L307.1,114.93 L307.6,116.58 L308.1,118.19 L308.6,119.73 L309.1,121.21 L309.6,122.61 L310.1,123.92 L310.6,125.15 L311.1,126.29 L311.6,127.35 L312.1,128.31 L312.6,129.19 L313.1,129.99 L313.6,130.71 L314.1,131.35 L314.6,131.92 L315.1,132.43 L315.6,132.87 L316.1,133.26 L316.6,133.59 L317.1,133.89 L317.6,134.14 L318.1,134.35 L318.6,134.53 L319.1,134.69 L319.6,134.82 L320.1,134.92 L320.6,135.01 L321.1,135.09 L321.6,135.15 L322.1,135.2 L322.6,135.24 L323.1,135.27 L323.6,135.3 L324.1,135.32 L324.6,135.34 L325.1,135.35 L325.6,135.36 L326.1,135.37 L326.6,135.38 L327.1,135.38 L327.6,135.39 L328.1,135.39 L328.6,135.39 L329.1,135.39 L329.6,135.4 L330.1,135.4 L330.6,135.4 L331.1,135.4 L331.6,135.4 L332.1,135.4 L332.6,135.4 L333.1,135.4 L333.6,135.4 L334.1,135.4 L334.6,135.4 L335.1,135.4 L335.6,135.4 L336.1,135.4 L336.6,135.4 L337.1,135.4 L337.6,135.4 L338.1,135.4 L338.6,135.4 L339.1,135.4 L339.6,135.4 L340.1,135.4 L340.6,135.4 L341.1,135.4 L341.6,135.4 L342.1,135.4 L342.6,135.4 L343.1,135.4 L343.6,135.4 L344.1,135.4 L344.6,135.4 L345.1,135.4 L345.6,135.4 L346.1,135.4 L346.6,135.4 L347.1,135.4 L347.6,135.4 L348.1,135.4 L348.6,135.4 L349.1,135.4 L349.6,135.4 L350.1,135.4 L350.6,135.4 L351.1,135.4 L351.6,135.4 L352.1,135.4 L352.6,135.4 L353.1,135.4 L353.6,135.4 L354.1,135.4 L354.6,135.4 L355.1,135.4 L355.6,135.4 L356.1,135.4 L356.6,135.4 L357.1,135.4 L357.6,135.4 L358.1,135.4 L358.6,135.4 L359.1,135.4 L359.6,135.4 L360.1,135.4 L360.6,135.4 L361.1,135.4 L361.6,135.4 L362.1,135.4" fill="none" stroke="#12b062" stroke-width="1.6" stroke-linejoin="round"/>
<path d="M233.1,135.4 L233.1,135.35 L233.6,135.32 L234.1,135.29 L234.6,135.25 L235.1,135.18 L235.6,135.1 L236.1,134.99 L236.6,134.84 L237.1,134.65 L237.6,134.4 L238.1,134.08 L238.6,133.69 L239.1,133.2 L239.6,132.59 L240.1,131.86 L240.6,130.99 L241.1,129.96 L241.6,128.77 L242.1,127.4 L242.6,125.85 L243.1,124.13 L243.6,122.23 L244.1,120.19 L244.6,118.02 L245.1,115.75 L245.6,113.43 L246.1,111.09 L246.6,108.8 L247.1,106.61 L247.6,104.57 L248.1,102.75 L248.6,101.19 L249.1,99.94 L249.6,99.04 L250.1,98.53 L250.6,98.41 L251.1,98.65 L251.6,99.22 L252.1,100.11 L252.6,101.3 L253.1,102.75 L253.6,104.42 L254.1,106.28 L254.6,108.29 L255.1,110.38 L255.6,112.53 L256.1,114.68 L256.6,116.81 L257.1,118.87 L257.6,120.83 L258.1,122.68 L258.6,124.4 L259.1,125.98 L259.6,127.4 L260.1,128.67 L260.6,129.79 L261.1,130.77 L261.6,131.61 L262.1,132.33 L262.6,132.93 L263.1,133.44 L263.6,133.85 L264.1,134.19 L264.6,134.46 L265.1,134.68 L265.6,134.85 L266.1,134.99 L266.6,135.09 L267.1,135.17 L267.6,135.23 L268.1,135.28 L268.6,135.31 L269.1,135.34 L300.6,135.33 L301.1,135.31 L301.6,135.27 L302.1,135.22 L302.6,135.15 L303.1,135.06 L303.6,134.94 L304.1,134.78 L304.6,134.57 L305.1,134.3 L305.6,133.96 L306.1,133.52 L306.6,132.97 L307.1,132.29 L307.6,131.45 L308.1,130.43 L308.6,129.19 L309.1,127.71 L309.6,125.95 L310.1,123.89 L310.6,121.49 L311.1,118.73 L311.6,115.59 L312.1,112.05 L312.6,108.1 L313.1,103.75 L313.6,99 L314.1,93.89 L314.6,88.45 L315.1,82.74 L315.6,76.81 L316.1,70.76 L316.6,64.66 L317.1,58.63 L317.6,52.77 L318.1,47.2 L318.6,42.02 L319.1,37.36 L319.6,33.3 L320.1,29.96 L320.6,27.4 L321.1,25.69 L321.6,24.87 L322.1,24.97 L322.6,26.01 L323.1,27.96 L323.6,30.78 L324.1,34.39 L324.6,38.71 L325.1,43.64 L325.6,49.06 L326.1,54.85 L326.6,60.9 L327.1,67.08 L327.6,73.28 L328.1,79.4 L328.6,85.35 L329.1,91.05 L329.6,96.43 L330.1,101.46 L330.6,106.09 L331.1,110.3 L331.6,114.09 L332.1,117.46 L332.6,120.43 L333.1,123.02 L333.6,125.24 L334.1,127.14 L334.6,128.74 L335.1,130.07 L335.6,131.18 L336.1,132.08 L336.6,132.81 L337.1,133.4 L337.6,133.87 L338.1,134.24 L338.6,134.53 L339.1,134.75 L339.6,134.92 L340.1,135.05 L340.6,135.14 L341.1,135.21 L341.6,135.27 L342.1,135.31 L342.6,135.33 L342.6,135.4Z" fill="#f8b4b4" fill-opacity="1.0"/>
<path d="M203.6,135.4 L204.1,135.4 L204.6,135.4 L205.1,135.4 L205.6,135.4 L206.1,135.4 L206.6,135.4 L207.1,135.4 L207.6,135.4 L208.1,135.4 L208.6,135.4 L209.1,135.4 L209.6,135.4 L210.1,135.4 L210.6,135.4 L211.1,135.4 L211.6,135.4 L212.1,135.4 L212.6,135.4 L213.1,135.4 L213.6,135.4 L214.1,135.4 L214.6,135.4 L215.1,135.4 L215.6,135.4 L216.1,135.4 L216.6,135.4 L217.1,135.4 L217.6,135.4 L218.1,135.4 L218.6,135.4 L219.1,135.4 L219.6,135.4 L220.1,135.4 L220.6,135.4 L221.1,135.4 L221.6,135.4 L222.1,135.4 L222.6,135.4 L223.1,135.4 L223.6,135.4 L224.1,135.4 L224.6,135.4 L225.1,135.4 L225.6,135.4 L226.1,135.4 L226.6,135.4 L227.1,135.4 L227.6,135.4 L228.1,135.4 L228.6,135.4 L229.1,135.4 L229.6,135.4 L230.1,135.4 L230.6,135.39 L231.1,135.39 L231.6,135.38 L232.1,135.38 L232.6,135.36 L233.1,135.35 L233.6,135.32 L234.1,135.29 L234.6,135.25 L235.1,135.18 L235.6,135.1 L236.1,134.99 L236.6,134.84 L237.1,134.65 L237.6,134.4 L238.1,134.08 L238.6,133.69 L239.1,133.2 L239.6,132.59 L240.1,131.86 L240.6,130.99 L241.1,129.96 L241.6,128.77 L242.1,127.4 L242.6,125.85 L243.1,124.13 L243.6,122.23 L244.1,120.19 L244.6,118.02 L245.1,115.75 L245.6,113.43 L246.1,111.09 L246.6,108.8 L247.1,106.61 L247.6,104.57 L248.1,102.75 L248.6,101.19 L249.1,99.94 L249.6,99.04 L250.1,98.53 L250.6,98.41 L251.1,98.65 L251.6,99.22 L252.1,100.11 L252.6,101.3 L253.1,102.75 L253.6,104.42 L254.1,106.28 L254.6,108.29 L255.1,110.38 L255.6,112.53 L256.1,114.68 L256.6,116.81 L257.1,118.87 L257.6,120.83 L258.1,122.68 L258.6,124.4 L259.1,125.98 L259.6,127.4 L260.1,128.67 L260.6,129.79 L261.1,130.77 L261.6,131.61 L262.1,132.33 L262.6,132.93 L263.1,133.44 L263.6,133.85 L264.1,134.19 L264.6,134.46 L265.1,134.68 L265.6,134.85 L266.1,134.99 L266.6,135.09 L267.1,135.17 L267.6,135.23 L268.1,135.28 L268.6,135.31 L269.1,135.34 L269.6,135.36 L270.1,135.37 L270.6,135.38 L271.1,135.39 L271.6,135.39 L272.1,135.39 L272.6,135.4 L273.1,135.4 L273.6,135.4 L274.1,135.4 L274.6,135.4 L275.1,135.4 L275.6,135.4 L276.1,135.4 L276.6,135.4 L277.1,135.4 L277.6,135.4 L278.1,135.4 L278.6,135.4 L279.1,135.4 L279.6,135.4 L280.1,135.4 L280.6,135.4 L281.1,135.4 L281.6,135.4 L282.1,135.4 L282.6,135.4 L283.1,135.4 L283.6,135.4 L284.1,135.4 L284.6,135.4 L285.1,135.4 L285.6,135.4 L286.1,135.4 L286.6,135.4 L287.1,135.4 L287.6,135.4 L288.1,135.4 L288.6,135.4 L289.1,135.4 L289.6,135.4 L290.1,135.4 L290.6,135.4 L291.1,135.4 L291.6,135.4 L292.1,135.4 L292.6,135.4 L293.1,135.4 L293.6,135.4 L294.1,135.4 L294.6,135.4 L295.1,135.4 L295.6,135.4 L296.1,135.4 L296.6,135.4 L297.1,135.4 L297.6,135.39 L298.1,135.39 L298.6,135.38 L299.1,135.38 L299.6,135.37 L300.1,135.35 L300.6,135.33 L301.1,135.31 L301.6,135.27 L302.1,135.22 L302.6,135.15 L303.1,135.06 L303.6,134.94 L304.1,134.78 L304.6,134.57 L305.1,134.3 L305.6,133.96 L306.1,133.52 L306.6,132.97 L307.1,132.29 L307.6,131.45 L308.1,130.43 L308.6,129.19 L309.1,127.71 L309.6,125.95 L310.1,123.89 L310.6,121.49 L311.1,118.73 L311.6,115.59 L312.1,112.05 L312.6,108.1 L313.1,103.75 L313.6,99 L314.1,93.89 L314.6,88.45 L315.1,82.74 L315.6,76.81 L316.1,70.76 L316.6,64.66 L317.1,58.63 L317.6,52.77 L318.1,47.2 L318.6,42.02 L319.1,37.36 L319.6,33.3 L320.1,29.96 L320.6,27.4 L321.1,25.69 L321.6,24.87 L322.1,24.97 L322.6,26.01 L323.1,27.96 L323.6,30.78 L324.1,34.39 L324.6,38.71 L325.1,43.64 L325.6,49.06 L326.1,54.85 L326.6,60.9 L327.1,67.08 L327.6,73.28 L328.1,79.4 L328.6,85.35 L329.1,91.05 L329.6,96.43 L330.1,101.46 L330.6,106.09 L331.1,110.3 L331.6,114.09 L332.1,117.46 L332.6,120.43 L333.1,123.02 L333.6,125.24 L334.1,127.14 L334.6,128.74 L335.1,130.07 L335.6,131.18 L336.1,132.08 L336.6,132.81 L337.1,133.4 L337.6,133.87 L338.1,134.24 L338.6,134.53 L339.1,134.75 L339.6,134.92 L340.1,135.05 L340.6,135.14 L341.1,135.21 L341.6,135.27 L342.1,135.31 L342.6,135.33 L343.1,135.35 L343.6,135.37 L344.1,135.38 L344.6,135.39 L345.1,135.39 L345.6,135.39 L346.1,135.4 L346.6,135.4 L347.1,135.4 L347.6,135.4 L348.1,135.4 L348.6,135.4 L349.1,135.4 L349.6,135.4 L350.1,135.4 L350.6,135.4 L351.1,135.4 L351.6,135.4 L352.1,135.4 L352.6,135.4 L353.1,135.4 L353.6,135.4 L354.1,135.4 L354.6,135.4 L355.1,135.4 L355.6,135.4 L356.1,135.4 L356.6,135.4 L357.1,135.4 L357.6,135.4 L358.1,135.4 L358.6,135.4 L359.1,135.4 L359.6,135.4 L360.1,135.4 L360.6,135.4 L361.1,135.4 L361.6,135.4 L362.1,135.4" fill="none" stroke="#f41414" stroke-width="1.6" stroke-linejoin="round"/>
<line x1="203.6" y1="135.7" x2="362.1" y2="135.7" stroke="#f41414" stroke-width="2.2"/>
<path d="M203.6,132.32 L204.1,132.05 L204.6,131.75 L205.1,131.35 L205.6,130.88 L206.1,130.35 L206.6,129.76 L207.1,129.15 L207.6,128.51 L208.1,127.88 L208.6,127.25 L209.1,126.65 L209.6,126.09 L210.1,125.53 L210.6,124.97 L211.1,124.39 L211.6,123.81 L212.1,123.23 L212.6,122.66 L213.1,122.1 L213.6,121.55 L214.1,121.03 L214.6,120.53 L215.1,120.06 L215.6,119.63 L216.1,119.21 L216.6,118.79 L217.1,118.39 L217.6,118 L218.1,117.63 L218.6,117.29 L219.1,116.98 L219.6,116.7 L220.1,116.45 L220.6,116.21 L221.1,115.97 L221.6,115.74 L222.1,115.53 L222.6,115.35 L223.1,115.21 L223.6,115.12 L224.1,115.1 L224.6,115.13 L225.1,115.21 L225.6,115.31 L226.1,115.44 L226.6,115.58 L227.1,115.73 L227.6,115.94 L228.1,116.21 L228.6,116.53 L229.1,116.9 L229.6,117.29 L230.1,117.68 L230.6,118.08 L231.1,118.5 L231.6,118.96 L232.1,119.45 L232.6,119.96 L233.1,120.48 L233.6,121 L234.1,121.5 L234.6,122 L235.1,122.52 L235.6,123.06 L236.1,123.6 L236.6,124.12 L237.1,124.6 L237.6,125.02 L238.1,125.36 L238.6,125.69 L239.1,126 L239.6,126.25 L240.1,126.39 L240.6,126.36 L241.1,126.11 L241.6,125.7 L242.1,125.16 L242.6,124.48 L243.1,123.12 L243.6,121.22 L244.1,119.07 L244.6,116.98 L245.1,115.02 L245.6,112.92 L246.1,110.8 L246.6,108.78 L247.1,107 L247.6,105.29 L248.1,103.49 L248.6,101.76 L249.1,100.22 L249.6,99.03 L250.1,98.32 L250.6,98.24 L251.1,98.64 L251.6,99.42 L252.1,100.5 L252.6,101.82 L253.1,103.28 L253.6,104.83 L254.1,106.39 L254.6,107.99 L255.1,109.96 L255.6,112.17 L256.1,114.45 L256.6,116.6 L257.1,118.71 L257.6,120.88 L258.1,122.97 L258.6,124.84 L259.1,126.38 L259.6,127.77 L260.1,129.06 L260.6,130.16 L261.1,130.98 L261.6,131.46 L262.1,131.8 L262.6,132.07 L263.1,132.27 L263.6,132.4 L264.1,132.49 L264.6,132.58 L265.1,132.66 L265.6,132.73 L266.1,132.8 L266.6,132.87 L267.1,132.92 L267.6,132.98 L268.1,133.03 L268.6,133.07 L269.1,133.1 L269.6,133.14 L270.1,133.16 L270.6,133.18 L271.1,133.19 L271.6,133.2 L272.1,133.2 L272.6,133.18 L273.1,133.13 L273.6,133.07 L274.1,132.99 L274.6,132.89 L275.1,132.78 L275.6,132.65 L276.1,132.52 L276.6,132.37 L277.1,132.22 L277.6,132.06 L278.1,131.89 L278.6,131.68 L279.1,131.43 L279.6,131.12 L280.1,130.78 L280.6,130.4 L281.1,129.97 L281.6,129.5 L282.1,128.89 L282.6,128.15 L283.1,127.3 L283.6,126.36 L284.1,125.37 L284.6,124.33 L285.1,123.27 L285.6,122.11 L286.1,120.84 L286.6,119.49 L287.1,118.07 L287.6,116.6 L288.1,115.11 L288.6,113.6 L289.1,112.06 L289.6,110.4 L290.1,108.74 L290.6,107.21 L291.1,105.74 L291.6,104.29 L292.1,102.9 L292.6,101.61 L293.1,100.47 L293.6,99.52 L294.1,98.63 L294.6,97.73 L295.1,96.85 L295.6,96.02 L296.1,95.25 L296.6,94.57 L297.1,94.01 L297.6,93.57 L298.1,93.3 L298.6,93.2 L299.1,93.33 L299.6,93.7 L300.1,94.27 L300.6,94.98 L301.1,95.8 L301.6,96.69 L302.1,97.59 L302.6,98.47 L303.1,99.32 L303.6,100.3 L304.1,101.36 L304.6,102.45 L305.1,103.51 L305.6,104.49 L306.1,105.59 L306.6,106.73 L307.1,107.69 L307.6,108.24 L308.1,108.26 L308.6,108.05 L309.1,107.68 L309.6,107.2 L310.1,105.79 L310.6,103.34 L311.1,100.95 L311.6,99.64 L312.1,99.05 L312.6,97.73 L313.1,92.83 L313.6,88.03 L314.1,83.02 L314.6,77.84 L315.1,72.54 L315.6,67.18 L316.1,61.83 L316.6,56.56 L317.1,51.44 L317.6,46.56 L318.1,41.98 L318.6,37.79 L319.1,34.06 L319.6,30.85 L320.1,28.22 L320.6,26.22 L321.1,24.9 L321.6,24.3 L322.1,24.3 L322.6,25.12 L323.1,26.64 L323.6,28.83 L324.1,31.67 L324.6,35.09 L325.1,39.03 L325.6,43.42 L326.1,48.18 L326.6,53.24 L327.1,58.51 L327.6,63.9 L328.1,69.35 L328.6,74.78 L329.1,80.12 L329.6,85.32 L330.1,90.31 L330.6,95.07 L331.1,99.55 L331.6,103.73 L332.1,107.59 L332.6,111.13 L333.1,114.35 L333.6,117.23 L334.1,119.95 L334.6,123.75 L335.1,127.3 L335.6,128.93 L336.1,129.87 L336.6,130.66 L337.1,131.3 L337.6,131.82 L338.1,132.22 L338.6,132.52 L339.1,132.74 L339.6,132.92 L340.1,133.09 L340.6,133.24 L341.1,133.38 L341.6,133.49 L342.1,133.59 L342.6,133.67 L343.1,133.74 L343.6,133.79 L344.1,133.82 L344.6,133.85 L345.1,133.88 L345.6,133.91 L346.1,133.94 L346.6,133.97 L347.1,134 L347.6,134.03 L348.1,134.05 L348.6,134.08 L349.1,134.1 L349.6,134.12 L350.1,134.15 L350.6,134.17 L351.1,134.19 L351.6,134.21 L352.1,134.22 L352.6,134.24 L353.1,134.26 L353.6,134.27 L354.1,134.29 L354.6,134.3 L355.1,134.31 L355.6,134.33 L356.1,134.34 L356.6,134.35 L357.1,134.36 L357.6,134.37 L358.1,134.37 L358.6,134.38 L359.1,134.38 L359.6,134.39 L360.1,134.39 L360.6,134.4 L361.1,134.4 L361.6,134.4 L362.1,134.4" fill="none" stroke="#962e2e" stroke-width="1.5" stroke-linejoin="round" stroke-linecap="round"/>
<path d="M203.6,135.4 L204.1,135.4 L204.6,135.4 L205.1,135.4 L205.6,135.4 L206.1,135.4 L206.6,135.4 L207.1,135.4 L207.6,135.4 L208.1,135.4 L208.6,135.4 L209.1,135.4 L209.6,135.4 L210.1,135.4 L210.6,135.4 L211.1,135.4 L211.6,135.4 L212.1,135.4 L212.6,135.4 L213.1,135.4 L213.6,135.4 L214.1,135.4 L214.6,135.4 L215.1,135.4 L215.6,135.4 L216.1,135.4 L216.6,135.4 L217.1,135.4 L217.6,135.4 L218.1,135.4 L218.6,135.4 L219.1,135.4 L219.6,135.4 L220.1,135.4 L220.6,135.4 L221.1,135.4 L221.6,135.4 L222.1,135.4 L222.6,135.4 L223.1,135.4 L223.6,135.4 L224.1,135.4 L224.6,135.4 L225.1,135.4 L225.6,135.4 L226.1,135.4 L226.6,135.4 L227.1,135.4 L227.6,135.4 L228.1,135.4 L228.6,135.4 L229.1,135.4 L229.6,135.4 L230.1,135.4 L230.6,135.39 L231.1,135.39 L231.6,135.38 L232.1,135.38 L232.6,135.36 L233.1,135.35 L233.6,135.32 L234.1,135.29 L234.6,135.25 L235.1,135.18 L235.6,135.1 L236.1,134.99 L236.6,134.84 L237.1,134.65 L237.6,134.4 L238.1,134.08 L238.6,133.69 L239.1,133.2 L239.6,132.59 L240.1,131.86 L240.6,130.99 L241.1,129.96 L241.6,128.77 L242.1,127.4 L242.6,125.85 L243.1,124.13 L243.6,122.23 L244.1,120.19 L244.6,118.02 L245.1,115.75 L245.6,113.43 L246.1,111.09 L246.6,108.8 L247.1,106.61 L247.6,104.57 L248.1,102.75 L248.6,101.19 L249.1,99.94 L249.6,99.04 L250.1,98.53 L250.6,98.41 L251.1,98.65 L251.6,99.22 L252.1,100.11 L252.6,101.3 L253.1,102.75 L253.6,104.42 L254.1,106.28 L254.6,108.29 L255.1,110.38 L255.6,112.53 L256.1,114.68 L256.6,116.81 L257.1,118.87 L257.6,120.83 L258.1,122.68 L258.6,124.4 L259.1,125.98 L259.6,127.4 L260.1,128.67 L260.6,129.79 L261.1,130.77 L261.6,131.61 L262.1,132.33 L262.6,132.93 L263.1,133.44 L263.6,133.85 L264.1,134.19 L264.6,134.46 L265.1,134.68 L265.6,134.85 L266.1,134.99 L266.6,135.09 L267.1,135.17 L267.6,135.23 L268.1,135.28 L268.6,135.31 L269.1,135.34 L269.6,135.36 L270.1,135.37 L270.6,135.38 L271.1,135.39 L271.6,135.39 L272.1,135.39 L272.6,135.4 L273.1,135.4 L273.6,135.4 L274.1,135.4 L274.6,135.4 L275.1,135.4 L275.6,135.4 L276.1,135.4 L276.6,135.4 L277.1,135.4 L277.6,135.4 L278.1,135.4 L278.6,135.4 L279.1,135.4 L279.6,135.4 L280.1,135.4 L280.6,135.4 L281.1,135.4 L281.6,135.4 L282.1,135.4 L282.6,135.4 L283.1,135.4 L283.6,135.4 L284.1,135.4 L284.6,135.4 L285.1,135.4 L285.6,135.4 L286.1,135.4 L286.6,135.4 L287.1,135.4 L287.6,135.4 L288.1,135.4 L288.6,135.4 L289.1,135.4 L289.6,135.4 L290.1,135.4 L290.6,135.4 L291.1,135.4 L291.6,135.4 L292.1,135.4 L292.6,135.4 L293.1,135.4 L293.6,135.4 L294.1,135.4 L294.6,135.4 L295.1,135.4 L295.6,135.4 L296.1,135.4 L296.6,135.4 L297.1,135.4 L297.6,135.39 L298.1,135.39 L298.6,135.38 L299.1,135.38 L299.6,135.37 L300.1,135.35 L300.6,135.33 L301.1,135.31 L301.6,135.27 L302.1,135.22 L302.6,135.15 L303.1,135.06 L303.6,134.94 L304.1,134.78 L304.6,134.57 L305.1,134.3 L305.6,133.96 L306.1,133.52 L306.6,132.97 L307.1,132.29 L307.6,131.45 L308.1,130.43 L308.6,129.19 L309.1,127.71 L309.6,125.95 L310.1,123.89 L310.6,121.49 L311.1,118.73 L311.6,115.59 L312.1,112.05 L312.6,108.1 L313.1,103.75 L313.6,99 L314.1,93.89 L314.6,88.45 L315.1,82.74 L315.6,76.81 L316.1,70.76 L316.6,64.66 L317.1,58.63 L317.6,52.77 L318.1,47.2 L318.6,42.02 L319.1,37.36 L319.6,33.3 L320.1,29.96 L320.6,27.4 L321.1,25.69 L321.6,24.87 L322.1,24.97 L322.6,26.01 L323.1,27.96 L323.6,30.78 L324.1,34.39 L324.6,38.71 L325.1,43.64 L325.6,49.06 L326.1,54.85 L326.6,60.9 L327.1,67.08 L327.6,73.28 L328.1,79.4 L328.6,85.35 L329.1,91.05 L329.6,96.43 L330.1,101.46 L330.6,106.09 L331.1,110.3 L331.6,114.09 L332.1,117.46 L332.6,120.43 L333.1,123.02 L333.6,125.24 L334.1,127.14 L334.6,128.74 L335.1,130.07 L335.6,131.18 L336.1,132.08 L336.6,132.81 L337.1,133.4 L337.6,133.87 L338.1,134.24 L338.6,134.53 L339.1,134.75 L339.6,134.92 L340.1,135.05 L340.6,135.14 L341.1,135.21 L341.6,135.27 L342.1,135.31 L342.6,135.33 L343.1,135.35 L343.6,135.37 L344.1,135.38 L344.6,135.39 L345.1,135.39 L345.6,135.39 L346.1,135.4 L346.6,135.4 L347.1,135.4 L347.6,135.4 L348.1,135.4 L348.6,135.4 L349.1,135.4 L349.6,135.4 L350.1,135.4 L350.6,135.4 L351.1,135.4 L351.6,135.4 L352.1,135.4 L352.6,135.4 L353.1,135.4 L353.6,135.4 L354.1,135.4 L354.6,135.4 L355.1,135.4 L355.6,135.4 L356.1,135.4 L356.6,135.4 L357.1,135.4 L357.6,135.4 L358.1,135.4 L358.6,135.4 L359.1,135.4 L359.6,135.4 L360.1,135.4 L360.6,135.4 L361.1,135.4 L361.6,135.4 L362.1,135.4" fill="none" stroke="#f41414" stroke-width="1.7" stroke-linejoin="round"/>
<path d="M204.1,266.2 L204.55,258.87 L205,260.76 L205.45,258.83 L205.9,259.33 L206.35,264.5 L206.8,253.14 L207.25,258.39 L207.7,254.92 L208.15,254.37 L208.6,262.93 L209.05,255.42 L209.5,248.85 L209.95,253.85 L210.4,252.52 L210.85,251.09 L211.3,253.38 L211.75,250.67 L212.2,249.79 L212.65,252.56 L213.1,250.29 L213.55,249.01 L214,249.12 L214.45,248.71 L214.9,251.98 L215.35,247.48 L215.8,252.27 L216.25,249.15 L216.7,246.83 L217.15,250.27 L217.6,247.9 L218.05,242.55 L218.5,249.65 L218.95,246.66 L219.4,243.07 L219.85,247.18 L220.3,250.42 L220.75,245.26 L221.2,243.92 L221.65,249.6 L222.1,249.69 L222.55,247.02 L223,247 L223.45,246.21 L223.9,246.18 L224.35,242.29 L224.8,247.23 L225.25,251.14 L225.7,247.75 L226.15,249.94 L226.6,244.48 L227.05,248.79 L227.5,250.83 L227.95,254.61 L228.4,251.75 L228.85,249.12 L229.3,248.76 L229.75,250.41 L230.2,248.46 L230.65,252.97 L231.1,251.36 L231.55,257.78 L232,254.37 L232.45,247.02 L232.9,253.42 L233.35,252.65 L233.8,248.72 L234.25,255.33 L234.7,257.82 L235.15,256.56 L235.6,253.84 L236.05,256.94 L236.5,262.9 L236.95,255.8 L237.4,253.6 L237.85,255.45 L238.3,250.51 L238.75,254.56 L239.2,250.48 L239.65,254.44 L240.1,257.9 L240.55,253.44 L241,253.6 L241.45,253.4 L241.9,256.7 L242.35,254.81 L242.8,252.42 L243.25,257.37 L243.7,251.34 L244.15,247.91 L244.6,247.69 L245.05,244.17 L245.5,243.15 L245.95,240.07 L246.4,237.39 L246.85,235.11 L247.3,234.46 L247.75,230.63 L248.2,229.14 L248.65,227.81 L249.1,225.58 L249.55,225.53 L250,228.96 L250.45,230.32 L250.9,232.87 L251.35,233.08 L251.8,234.75 L252.25,237.35 L252.7,239.97 L253.15,239.88 L253.6,243.41 L254.05,245.19 L254.5,248.6 L254.95,246.73 L255.4,249.94 L255.85,252.22 L256.3,253.76 L256.75,257.31 L257.2,256.22 L257.65,257.05 L258.1,260.36 L258.55,260.74 L259,261.19 L259.45,260.06 L259.9,262.18 L260.35,261.45 L260.8,262.17 L261.25,262.81 L261.7,260.43 L262.15,261.24 L262.6,262.2 L263.05,265.18 L263.5,262.45 L263.95,263.14 L264.4,261.44 L264.85,259.92 L265.3,262.44 L265.75,262.63 L266.2,262.35 L266.65,263.26 L267.1,262.27 L267.55,262.98 L268,263.75 L268.45,263.21 L268.9,262.34 L269.35,263.74 L269.8,261.84 L270.25,264.83 L270.7,262.36 L271.15,262.63 L271.6,263.86 L272.05,260.01 L272.5,262.22 L272.95,262.75 L273.4,263.34 L273.85,261.78 L274.3,262.91 L274.75,262.08 L275.2,263.18 L275.65,262.25 L276.1,261.56 L276.55,259.67 L277,261.71 L277.45,262.23 L277.9,261.89 L278.35,262.25 L278.8,261.25 L279.25,261.87 L279.7,264 L280.15,261.63 L280.6,266.2 L281.05,259.45 L281.5,260.4 L281.95,258.61 L282.4,258.07 L282.85,260.12 L283.3,255.57 L283.75,263.71 L284.2,254.13 L284.65,254.48 L285.1,252 L285.55,253.04 L286,252.83 L286.45,250.37 L286.9,250 L287.35,248 L287.8,248.52 L288.25,246.44 L288.7,243.67 L289.15,247.76 L289.6,242.99 L290.05,250.64 L290.5,250.59 L290.95,242.96 L291.4,240.09 L291.85,236.97 L292.3,238.48 L292.75,237.15 L293.2,240.56 L293.65,239.5 L294.1,233.74 L294.55,229.92 L295,233.22 L295.45,232.67 L295.9,230.55 L296.35,228.74 L296.8,236.36 L297.25,231.84 L297.7,230.91 L298.15,238.41 L298.6,228.4 L299.05,229.77 L299.5,228.3 L299.95,229 L300.4,233.03 L300.85,231.03 L301.3,234.59 L301.75,233.72 L302.2,232.95 L302.65,232.78 L303.1,237.65 L303.55,230.57 L304,238.35 L304.45,236.63 L304.9,238.08 L305.35,241.97 L305.8,239.22 L306.25,237.78 L306.7,242.42 L307.15,242.63 L307.6,246.04 L308.05,246.52 L308.5,248.03 L308.95,243.13 L309.4,240.72 L309.85,239.41 L310.3,240.12 L310.75,239.43 L311.2,238.74 L311.65,235.65 L312.1,220.6 L312.55,216.44 L313,212.76 L313.45,208.72 L313.9,204.4 L314.35,199.42 L314.8,193.4 L315.25,189.63 L315.7,184.88 L316.15,180.23 L316.6,177.18 L317.05,172.63 L317.5,169.64 L317.95,166.14 L318.4,162.71 L318.85,160.39 L319.3,158.97 L319.75,158.02 L320.2,157.19 L320.65,155.7 L321.1,157.25 L321.55,158.58 L322,160.55 L322.45,163.11 L322.9,165.75 L323.35,168.55 L323.8,171.8 L324.25,174.69 L324.7,179.23 L325.15,183.29 L325.6,187.77 L326.05,192.31 L326.5,196.69 L326.95,202.4 L327.4,206.58 L327.85,211.87 L328.3,215.51 L328.75,219.73 L329.2,225.2 L329.65,227.88 L330.1,232.49 L330.55,233.62 L331,237.95 L331.45,239.96 L331.9,247.91 L332.35,245.91 L332.8,248.03 L333.25,252.4 L333.7,260.88 L334.15,259.63 L334.6,258.54 L335.05,262.61 L335.5,255.56 L335.95,262.6 L336.4,259.64 L336.85,253.66 L337.3,262.83 L337.75,259.68 L338.2,260.04 L338.65,260.37 L339.1,261.71 L339.55,263.64 L340,265.36 L340.45,262.93 L340.9,262.38 L341.35,264.34 L341.8,262.28 L342.25,262.91 L342.7,262.66 L343.15,260.55 L343.6,260.63 L344.05,263.37 L344.5,257.89 L344.95,266.2 L345.4,260.4 L345.85,266.2 L346.3,262.42 L346.75,262.46 L347.2,263.81 L347.65,262.18 L348.1,263.32 L348.55,257.18 L349,264.9 L349.45,265.28 L349.9,262.07 L350.35,260.96 L350.8,265.14 L351.25,262.27 L351.7,264.92 L352.15,260.83 L352.6,260.79 L353.05,263.62 L353.5,266.2 L353.95,266.2 L354.4,264.35 L354.85,266.2 L355.3,264.77 L355.75,263.07 L356.2,261.23 L356.65,259.55 L357.1,264.31 L357.55,255.74 L358,263.72 L358.45,261.77 L358.9,263.59" fill="none" stroke="#4a4a4a" stroke-width="1.2" stroke-linejoin="miter"/>
<path d="M203.6,265.9 L203.6,261.85 L204.1,261.52 L204.6,261.18 L205.1,260.82 L205.6,260.44 L206.1,260.05 L206.6,259.65 L207.1,259.24 L207.6,258.81 L208.1,258.38 L208.6,257.93 L209.1,257.48 L209.6,257.03 L210.1,256.57 L210.6,256.1 L211.1,255.64 L211.6,255.18 L212.1,254.73 L212.6,254.28 L213.1,253.84 L213.6,253.42 L214.1,253.01 L214.6,252.61 L215.1,252.24 L215.6,251.88 L216.1,251.55 L216.6,251.24 L217.1,250.97 L217.6,250.72 L218.1,250.5 L218.6,250.31 L219.1,250.16 L219.6,250.04 L220.1,249.96 L220.6,249.91 L221.1,249.9 L221.6,249.93 L222.1,249.99 L222.6,250.08 L223.1,250.22 L223.6,250.38 L224.1,250.58 L224.6,250.81 L225.1,251.07 L225.6,251.36 L226.1,251.68 L226.6,252.02 L227.1,252.38 L227.6,252.77 L228.1,253.17 L228.6,253.59 L229.1,254.02 L229.6,254.46 L230.1,254.91 L230.6,255.37 L231.1,255.83 L231.6,256.29 L232.1,256.75 L232.6,257.21 L233.1,257.66 L233.6,258.11 L234.1,258.55 L234.6,258.98 L235.1,259.41 L235.6,259.81 L236.1,260.21 L236.6,260.59 L237.1,260.96 L237.6,261.31 L238.1,261.65 L238.6,261.97 L239.1,262.28 L239.6,262.57 L240.1,262.84 L240.6,263.1 L241.1,263.34 L241.6,263.56 L242.1,263.78 L242.6,263.97 L243.1,264.15 L243.6,264.32 L244.1,264.48 L244.6,264.62 L245.1,264.75 L245.6,264.87 L246.1,264.98 L246.6,265.08 L247.1,265.17 L247.6,265.25 L248.1,265.33 L248.6,265.39 L249.1,265.45 L249.6,265.51 L250.1,265.56 L250.6,265.6 L251.1,265.64 L251.6,265.67 L252.1,265.7 L252.6,265.73 L253.1,265.75 L253.6,265.77 L254.1,265.79 L254.6,265.8 L255.1,265.82 L255.6,265.83 L256.1,265.84 L256.6,265.85 L256.6,265.9Z" fill="#f2cf80" fill-opacity="0.5"/>
<path d="M203.6,261.85 L204.1,261.52 L204.6,261.18 L205.1,260.82 L205.6,260.44 L206.1,260.05 L206.6,259.65 L207.1,259.24 L207.6,258.81 L208.1,258.38 L208.6,257.93 L209.1,257.48 L209.6,257.03 L210.1,256.57 L210.6,256.1 L211.1,255.64 L211.6,255.18 L212.1,254.73 L212.6,254.28 L213.1,253.84 L213.6,253.42 L214.1,253.01 L214.6,252.61 L215.1,252.24 L215.6,251.88 L216.1,251.55 L216.6,251.24 L217.1,250.97 L217.6,250.72 L218.1,250.5 L218.6,250.31 L219.1,250.16 L219.6,250.04 L220.1,249.96 L220.6,249.91 L221.1,249.9 L221.6,249.93 L222.1,249.99 L222.6,250.08 L223.1,250.22 L223.6,250.38 L224.1,250.58 L224.6,250.81 L225.1,251.07 L225.6,251.36 L226.1,251.68 L226.6,252.02 L227.1,252.38 L227.6,252.77 L228.1,253.17 L228.6,253.59 L229.1,254.02 L229.6,254.46 L230.1,254.91 L230.6,255.37 L231.1,255.83 L231.6,256.29 L232.1,256.75 L232.6,257.21 L233.1,257.66 L233.6,258.11 L234.1,258.55 L234.6,258.98 L235.1,259.41 L235.6,259.81 L236.1,260.21 L236.6,260.59 L237.1,260.96 L237.6,261.31 L238.1,261.65 L238.6,261.97 L239.1,262.28 L239.6,262.57 L240.1,262.84 L240.6,263.1 L241.1,263.34 L241.6,263.56 L242.1,263.78 L242.6,263.97 L243.1,264.15 L243.6,264.32 L244.1,264.48 L244.6,264.62 L245.1,264.75 L245.6,264.87 L246.1,264.98 L246.6,265.08 L247.1,265.17 L247.6,265.25 L248.1,265.33 L248.6,265.39 L249.1,265.45 L249.6,265.51 L250.1,265.56 L250.6,265.6 L251.1,265.64 L251.6,265.67 L252.1,265.7 L252.6,265.73 L253.1,265.75 L253.6,265.77 L254.1,265.79 L254.6,265.8 L255.1,265.82 L255.6,265.83 L256.1,265.84 L256.6,265.85 L257.1,265.86 L257.6,265.86 L258.1,265.87 L258.6,265.87 L259.1,265.88 L259.6,265.88 L260.1,265.88 L260.6,265.89 L261.1,265.89 L261.6,265.89 L262.1,265.89 L262.6,265.89 L263.1,265.89 L263.6,265.9 L264.1,265.9 L264.6,265.9 L265.1,265.9 L265.6,265.9 L266.1,265.9 L266.6,265.9 L267.1,265.9 L267.6,265.9 L268.1,265.9 L268.6,265.9 L269.1,265.9 L269.6,265.9 L270.1,265.9 L270.6,265.9 L271.1,265.9 L271.6,265.9 L272.1,265.9 L272.6,265.9 L273.1,265.9 L273.6,265.9 L274.1,265.9 L274.6,265.9 L275.1,265.9 L275.6,265.9 L276.1,265.9 L276.6,265.9 L277.1,265.9 L277.6,265.9 L278.1,265.9 L278.6,265.9 L279.1,265.9 L279.6,265.9 L280.1,265.9 L280.6,265.9 L281.1,265.9 L281.6,265.9 L282.1,265.9 L282.6,265.9 L283.1,265.9 L283.6,265.9 L284.1,265.9 L284.6,265.9 L285.1,265.9 L285.6,265.9 L286.1,265.9 L286.6,265.9 L287.1,265.9 L287.6,265.9 L288.1,265.9 L288.6,265.9 L289.1,265.9 L289.6,265.9 L290.1,265.9 L290.6,265.9 L291.1,265.9 L291.6,265.9 L292.1,265.9 L292.6,265.9 L293.1,265.9 L293.6,265.9 L294.1,265.9 L294.6,265.9 L295.1,265.9 L295.6,265.9 L296.1,265.9 L296.6,265.9 L297.1,265.9 L297.6,265.9 L298.1,265.9 L298.6,265.9 L299.1,265.9 L299.6,265.9 L300.1,265.9 L300.6,265.9 L301.1,265.9 L301.6,265.9 L302.1,265.9 L302.6,265.9 L303.1,265.9 L303.6,265.9 L304.1,265.9 L304.6,265.9 L305.1,265.9 L305.6,265.9 L306.1,265.9 L306.6,265.9 L307.1,265.9 L307.6,265.9 L308.1,265.9 L308.6,265.9 L309.1,265.9 L309.6,265.9 L310.1,265.9 L310.6,265.9 L311.1,265.9 L311.6,265.9 L312.1,265.9 L312.6,265.9 L313.1,265.9 L313.6,265.9 L314.1,265.9 L314.6,265.9 L315.1,265.9 L315.6,265.9 L316.1,265.9 L316.6,265.9 L317.1,265.9 L317.6,265.9 L318.1,265.9 L318.6,265.9 L319.1,265.9 L319.6,265.9 L320.1,265.9 L320.6,265.9 L321.1,265.9 L321.6,265.9 L322.1,265.9 L322.6,265.9 L323.1,265.9 L323.6,265.9 L324.1,265.9 L324.6,265.9 L325.1,265.9 L325.6,265.9 L326.1,265.9 L326.6,265.9 L327.1,265.9 L327.6,265.9 L328.1,265.9 L328.6,265.9 L329.1,265.9 L329.6,265.9 L330.1,265.9 L330.6,265.9 L331.1,265.9 L331.6,265.9 L332.1,265.9 L332.6,265.9 L333.1,265.9 L333.6,265.9 L334.1,265.9 L334.6,265.9 L335.1,265.9 L335.6,265.9 L336.1,265.9 L336.6,265.9 L337.1,265.9 L337.6,265.9 L338.1,265.9 L338.6,265.9 L339.1,265.9 L339.6,265.9 L340.1,265.9 L340.6,265.9 L341.1,265.9 L341.6,265.9 L342.1,265.9 L342.6,265.9 L343.1,265.9 L343.6,265.9 L344.1,265.9 L344.6,265.9 L345.1,265.9 L345.6,265.9 L346.1,265.9 L346.6,265.9 L347.1,265.9 L347.6,265.9 L348.1,265.9 L348.6,265.9 L349.1,265.9 L349.6,265.9 L350.1,265.9 L350.6,265.9 L351.1,265.9 L351.6,265.9 L352.1,265.9 L352.6,265.9 L353.1,265.9 L353.6,265.9 L354.1,265.9 L354.6,265.9 L355.1,265.9 L355.6,265.9 L356.1,265.9 L356.6,265.9 L357.1,265.9 L357.6,265.9 L358.1,265.9 L358.6,265.9 L359.1,265.9 L359.6,265.9 L360.1,265.9 L360.6,265.9 L361.1,265.9 L361.6,265.9 L362.1,265.9" fill="none" stroke="#e0a020" stroke-width="1.6" stroke-linejoin="round"/>
<path d="M295.1,265.9 L295.1,265.85 L295.6,265.83 L296.1,265.81 L296.6,265.78 L297.1,265.74 L297.6,265.7 L298.1,265.64 L298.6,265.56 L299.1,265.47 L299.6,265.36 L300.1,265.23 L300.6,265.07 L301.1,264.87 L301.6,264.64 L302.1,264.36 L302.6,264.04 L303.1,263.67 L303.6,263.24 L304.1,262.75 L304.6,262.2 L305.1,261.58 L305.6,260.89 L306.1,260.13 L306.6,259.31 L307.1,258.41 L307.6,257.46 L308.1,256.44 L308.6,255.38 L309.1,254.29 L309.6,253.16 L310.1,252.03 L310.6,250.89 L311.1,249.78 L311.6,248.7 L312.1,247.68 L312.6,246.74 L313.1,245.88 L313.6,245.13 L314.1,244.5 L314.6,244 L315.1,243.65 L315.6,243.45 L316.1,243.4 L316.6,243.51 L317.1,243.77 L317.6,244.19 L318.1,244.74 L318.6,245.42 L319.1,246.21 L319.6,247.11 L320.1,248.08 L320.6,249.13 L321.1,250.22 L321.6,251.34 L322.1,252.48 L322.6,253.61 L323.1,254.73 L323.6,255.81 L324.1,256.85 L324.6,257.84 L325.1,258.78 L325.6,259.64 L326.1,260.44 L326.6,261.17 L327.1,261.84 L327.6,262.43 L328.1,262.96 L328.6,263.42 L329.1,263.82 L329.6,264.18 L330.1,264.48 L330.6,264.73 L331.1,264.95 L331.6,265.13 L332.1,265.29 L332.6,265.41 L333.1,265.51 L333.6,265.6 L334.1,265.66 L334.6,265.72 L335.1,265.76 L335.6,265.79 L336.1,265.82 L336.6,265.84 L336.6,265.9Z" fill="#c89060" fill-opacity="0.45"/>
<path d="M203.6,265.9 L204.1,265.9 L204.6,265.9 L205.1,265.9 L205.6,265.9 L206.1,265.9 L206.6,265.9 L207.1,265.9 L207.6,265.9 L208.1,265.9 L208.6,265.9 L209.1,265.9 L209.6,265.9 L210.1,265.9 L210.6,265.9 L211.1,265.9 L211.6,265.9 L212.1,265.9 L212.6,265.9 L213.1,265.9 L213.6,265.9 L214.1,265.9 L214.6,265.9 L215.1,265.9 L215.6,265.9 L216.1,265.9 L216.6,265.9 L217.1,265.9 L217.6,265.9 L218.1,265.9 L218.6,265.9 L219.1,265.9 L219.6,265.9 L220.1,265.9 L220.6,265.9 L221.1,265.9 L221.6,265.9 L222.1,265.9 L222.6,265.9 L223.1,265.9 L223.6,265.9 L224.1,265.9 L224.6,265.9 L225.1,265.9 L225.6,265.9 L226.1,265.9 L226.6,265.9 L227.1,265.9 L227.6,265.9 L228.1,265.9 L228.6,265.9 L229.1,265.9 L229.6,265.9 L230.1,265.9 L230.6,265.9 L231.1,265.9 L231.6,265.9 L232.1,265.9 L232.6,265.9 L233.1,265.9 L233.6,265.9 L234.1,265.9 L234.6,265.9 L235.1,265.9 L235.6,265.9 L236.1,265.9 L236.6,265.9 L237.1,265.9 L237.6,265.9 L238.1,265.9 L238.6,265.9 L239.1,265.9 L239.6,265.9 L240.1,265.9 L240.6,265.9 L241.1,265.9 L241.6,265.9 L242.1,265.9 L242.6,265.9 L243.1,265.9 L243.6,265.9 L244.1,265.9 L244.6,265.9 L245.1,265.9 L245.6,265.9 L246.1,265.9 L246.6,265.9 L247.1,265.9 L247.6,265.9 L248.1,265.9 L248.6,265.9 L249.1,265.9 L249.6,265.9 L250.1,265.9 L250.6,265.9 L251.1,265.9 L251.6,265.9 L252.1,265.9 L252.6,265.9 L253.1,265.9 L253.6,265.9 L254.1,265.9 L254.6,265.9 L255.1,265.9 L255.6,265.9 L256.1,265.9 L256.6,265.9 L257.1,265.9 L257.6,265.9 L258.1,265.9 L258.6,265.9 L259.1,265.9 L259.6,265.9 L260.1,265.9 L260.6,265.9 L261.1,265.9 L261.6,265.9 L262.1,265.9 L262.6,265.9 L263.1,265.9 L263.6,265.9 L264.1,265.9 L264.6,265.9 L265.1,265.9 L265.6,265.9 L266.1,265.9 L266.6,265.9 L267.1,265.9 L267.6,265.9 L268.1,265.9 L268.6,265.9 L269.1,265.9 L269.6,265.9 L270.1,265.9 L270.6,265.9 L271.1,265.9 L271.6,265.9 L272.1,265.9 L272.6,265.9 L273.1,265.9 L273.6,265.9 L274.1,265.9 L274.6,265.9 L275.1,265.9 L275.6,265.9 L276.1,265.9 L276.6,265.9 L277.1,265.9 L277.6,265.9 L278.1,265.9 L278.6,265.9 L279.1,265.9 L279.6,265.9 L280.1,265.9 L280.6,265.9 L281.1,265.9 L281.6,265.9 L282.1,265.9 L282.6,265.9 L283.1,265.9 L283.6,265.9 L284.1,265.9 L284.6,265.9 L285.1,265.9 L285.6,265.9 L286.1,265.9 L286.6,265.9 L287.1,265.9 L287.6,265.9 L288.1,265.9 L288.6,265.9 L289.1,265.9 L289.6,265.9 L290.1,265.9 L290.6,265.9 L291.1,265.9 L291.6,265.89 L292.1,265.89 L292.6,265.89 L293.1,265.88 L293.6,265.88 L294.1,265.87 L294.6,265.86 L295.1,265.85 L295.6,265.83 L296.1,265.81 L296.6,265.78 L297.1,265.74 L297.6,265.7 L298.1,265.64 L298.6,265.56 L299.1,265.47 L299.6,265.36 L300.1,265.23 L300.6,265.07 L301.1,264.87 L301.6,264.64 L302.1,264.36 L302.6,264.04 L303.1,263.67 L303.6,263.24 L304.1,262.75 L304.6,262.2 L305.1,261.58 L305.6,260.89 L306.1,260.13 L306.6,259.31 L307.1,258.41 L307.6,257.46 L308.1,256.44 L308.6,255.38 L309.1,254.29 L309.6,253.16 L310.1,252.03 L310.6,250.89 L311.1,249.78 L311.6,248.7 L312.1,247.68 L312.6,246.74 L313.1,245.88 L313.6,245.13 L314.1,244.5 L314.6,244 L315.1,243.65 L315.6,243.45 L316.1,243.4 L316.6,243.51 L317.1,243.77 L317.6,244.19 L318.1,244.74 L318.6,245.42 L319.1,246.21 L319.6,247.11 L320.1,248.08 L320.6,249.13 L321.1,250.22 L321.6,251.34 L322.1,252.48 L322.6,253.61 L323.1,254.73 L323.6,255.81 L324.1,256.85 L324.6,257.84 L325.1,258.78 L325.6,259.64 L326.1,260.44 L326.6,261.17 L327.1,261.84 L327.6,262.43 L328.1,262.96 L328.6,263.42 L329.1,263.82 L329.6,264.18 L330.1,264.48 L330.6,264.73 L331.1,264.95 L331.6,265.13 L332.1,265.29 L332.6,265.41 L333.1,265.51 L333.6,265.6 L334.1,265.66 L334.6,265.72 L335.1,265.76 L335.6,265.79 L336.1,265.82 L336.6,265.84 L337.1,265.85 L337.6,265.87 L338.1,265.87 L338.6,265.88 L339.1,265.89 L339.6,265.89 L340.1,265.89 L340.6,265.89 L341.1,265.9 L341.6,265.9 L342.1,265.9 L342.6,265.9 L343.1,265.9 L343.6,265.9 L344.1,265.9 L344.6,265.9 L345.1,265.9 L345.6,265.9 L346.1,265.9 L346.6,265.9 L347.1,265.9 L347.6,265.9 L348.1,265.9 L348.6,265.9 L349.1,265.9 L349.6,265.9 L350.1,265.9 L350.6,265.9 L351.1,265.9 L351.6,265.9 L352.1,265.9 L352.6,265.9 L353.1,265.9 L353.6,265.9 L354.1,265.9 L354.6,265.9 L355.1,265.9 L355.6,265.9 L356.1,265.9 L356.6,265.9 L357.1,265.9 L357.6,265.9 L358.1,265.9 L358.6,265.9 L359.1,265.9 L359.6,265.9 L360.1,265.9 L360.6,265.9 L361.1,265.9 L361.6,265.9 L362.1,265.9" fill="none" stroke="#c8642a" stroke-width="1.6" stroke-linejoin="round"/>
<path d="M271.1,265.9 L271.1,265.84 L271.6,265.82 L272.1,265.8 L272.6,265.77 L273.1,265.74 L273.6,265.7 L274.1,265.65 L274.6,265.6 L275.1,265.53 L275.6,265.44 L276.1,265.34 L276.6,265.22 L277.1,265.08 L277.6,264.92 L278.1,264.72 L278.6,264.5 L279.1,264.24 L279.6,263.94 L280.1,263.6 L280.6,263.21 L281.1,262.77 L281.6,262.27 L282.1,261.72 L282.6,261.1 L283.1,260.42 L283.6,259.67 L284.1,258.85 L284.6,257.96 L285.1,257 L285.6,255.97 L286.1,254.88 L286.6,253.72 L287.1,252.5 L287.6,251.23 L288.1,249.92 L288.6,248.57 L289.1,247.19 L289.6,245.8 L290.1,244.41 L290.6,243.02 L291.1,241.66 L291.6,240.34 L292.1,239.08 L292.6,237.88 L293.1,236.77 L293.6,235.75 L294.1,234.85 L294.6,234.07 L295.1,233.42 L295.6,232.91 L296.1,232.55 L296.6,232.35 L297.1,232.3 L297.6,232.43 L298.1,232.74 L298.6,233.22 L299.1,233.86 L299.6,234.67 L300.1,235.62 L300.6,236.69 L301.1,237.88 L301.6,239.17 L302.1,240.54 L302.6,241.96 L303.1,243.43 L303.6,244.92 L304.1,246.42 L304.6,247.91 L305.1,249.37 L305.6,250.8 L306.1,252.18 L306.6,253.5 L307.1,254.75 L307.6,255.93 L308.1,257.03 L308.6,258.06 L309.1,259 L309.6,259.86 L310.1,260.65 L310.6,261.35 L311.1,261.99 L311.6,262.55 L312.1,263.05 L312.6,263.48 L313.1,263.86 L313.6,264.19 L314.1,264.48 L314.6,264.72 L315.1,264.93 L315.6,265.1 L316.1,265.25 L316.6,265.37 L317.1,265.47 L317.6,265.56 L318.1,265.63 L318.6,265.68 L319.1,265.73 L319.6,265.77 L320.1,265.8 L320.6,265.82 L321.1,265.84 L321.1,265.9Z" fill="#40c890" fill-opacity="0.33"/>
<path d="M203.6,265.9 L204.1,265.9 L204.6,265.9 L205.1,265.9 L205.6,265.9 L206.1,265.9 L206.6,265.9 L207.1,265.9 L207.6,265.9 L208.1,265.9 L208.6,265.9 L209.1,265.9 L209.6,265.9 L210.1,265.9 L210.6,265.9 L211.1,265.9 L211.6,265.9 L212.1,265.9 L212.6,265.9 L213.1,265.9 L213.6,265.9 L214.1,265.9 L214.6,265.9 L215.1,265.9 L215.6,265.9 L216.1,265.9 L216.6,265.9 L217.1,265.9 L217.6,265.9 L218.1,265.9 L218.6,265.9 L219.1,265.9 L219.6,265.9 L220.1,265.9 L220.6,265.9 L221.1,265.9 L221.6,265.9 L222.1,265.9 L222.6,265.9 L223.1,265.9 L223.6,265.9 L224.1,265.9 L224.6,265.9 L225.1,265.9 L225.6,265.9 L226.1,265.9 L226.6,265.9 L227.1,265.9 L227.6,265.9 L228.1,265.9 L228.6,265.9 L229.1,265.9 L229.6,265.9 L230.1,265.9 L230.6,265.9 L231.1,265.9 L231.6,265.9 L232.1,265.9 L232.6,265.9 L233.1,265.9 L233.6,265.9 L234.1,265.9 L234.6,265.9 L235.1,265.9 L235.6,265.9 L236.1,265.9 L236.6,265.9 L237.1,265.9 L237.6,265.9 L238.1,265.9 L238.6,265.9 L239.1,265.9 L239.6,265.9 L240.1,265.9 L240.6,265.9 L241.1,265.9 L241.6,265.9 L242.1,265.9 L242.6,265.9 L243.1,265.9 L243.6,265.9 L244.1,265.9 L244.6,265.9 L245.1,265.9 L245.6,265.9 L246.1,265.9 L246.6,265.9 L247.1,265.9 L247.6,265.9 L248.1,265.9 L248.6,265.9 L249.1,265.9 L249.6,265.9 L250.1,265.9 L250.6,265.9 L251.1,265.9 L251.6,265.9 L252.1,265.9 L252.6,265.9 L253.1,265.9 L253.6,265.9 L254.1,265.9 L254.6,265.9 L255.1,265.9 L255.6,265.9 L256.1,265.9 L256.6,265.9 L257.1,265.9 L257.6,265.9 L258.1,265.9 L258.6,265.9 L259.1,265.9 L259.6,265.9 L260.1,265.9 L260.6,265.9 L261.1,265.9 L261.6,265.9 L262.1,265.9 L262.6,265.9 L263.1,265.9 L263.6,265.9 L264.1,265.9 L264.6,265.9 L265.1,265.9 L265.6,265.9 L266.1,265.9 L266.6,265.89 L267.1,265.89 L267.6,265.89 L268.1,265.89 L268.6,265.88 L269.1,265.88 L269.6,265.87 L270.1,265.86 L270.6,265.85 L271.1,265.84 L271.6,265.82 L272.1,265.8 L272.6,265.77 L273.1,265.74 L273.6,265.7 L274.1,265.65 L274.6,265.6 L275.1,265.53 L275.6,265.44 L276.1,265.34 L276.6,265.22 L277.1,265.08 L277.6,264.92 L278.1,264.72 L278.6,264.5 L279.1,264.24 L279.6,263.94 L280.1,263.6 L280.6,263.21 L281.1,262.77 L281.6,262.27 L282.1,261.72 L282.6,261.1 L283.1,260.42 L283.6,259.67 L284.1,258.85 L284.6,257.96 L285.1,257 L285.6,255.97 L286.1,254.88 L286.6,253.72 L287.1,252.5 L287.6,251.23 L288.1,249.92 L288.6,248.57 L289.1,247.19 L289.6,245.8 L290.1,244.41 L290.6,243.02 L291.1,241.66 L291.6,240.34 L292.1,239.08 L292.6,237.88 L293.1,236.77 L293.6,235.75 L294.1,234.85 L294.6,234.07 L295.1,233.42 L295.6,232.91 L296.1,232.55 L296.6,232.35 L297.1,232.3 L297.6,232.43 L298.1,232.74 L298.6,233.22 L299.1,233.86 L299.6,234.67 L300.1,235.62 L300.6,236.69 L301.1,237.88 L301.6,239.17 L302.1,240.54 L302.6,241.96 L303.1,243.43 L303.6,244.92 L304.1,246.42 L304.6,247.91 L305.1,249.37 L305.6,250.8 L306.1,252.18 L306.6,253.5 L307.1,254.75 L307.6,255.93 L308.1,257.03 L308.6,258.06 L309.1,259 L309.6,259.86 L310.1,260.65 L310.6,261.35 L311.1,261.99 L311.6,262.55 L312.1,263.05 L312.6,263.48 L313.1,263.86 L313.6,264.19 L314.1,264.48 L314.6,264.72 L315.1,264.93 L315.6,265.1 L316.1,265.25 L316.6,265.37 L317.1,265.47 L317.6,265.56 L318.1,265.63 L318.6,265.68 L319.1,265.73 L319.6,265.77 L320.1,265.8 L320.6,265.82 L321.1,265.84 L321.6,265.85 L322.1,265.86 L322.6,265.87 L323.1,265.88 L323.6,265.88 L324.1,265.89 L324.6,265.89 L325.1,265.89 L325.6,265.9 L326.1,265.9 L326.6,265.9 L327.1,265.9 L327.6,265.9 L328.1,265.9 L328.6,265.9 L329.1,265.9 L329.6,265.9 L330.1,265.9 L330.6,265.9 L331.1,265.9 L331.6,265.9 L332.1,265.9 L332.6,265.9 L333.1,265.9 L333.6,265.9 L334.1,265.9 L334.6,265.9 L335.1,265.9 L335.6,265.9 L336.1,265.9 L336.6,265.9 L337.1,265.9 L337.6,265.9 L338.1,265.9 L338.6,265.9 L339.1,265.9 L339.6,265.9 L340.1,265.9 L340.6,265.9 L341.1,265.9 L341.6,265.9 L342.1,265.9 L342.6,265.9 L343.1,265.9 L343.6,265.9 L344.1,265.9 L344.6,265.9 L345.1,265.9 L345.6,265.9 L346.1,265.9 L346.6,265.9 L347.1,265.9 L347.6,265.9 L348.1,265.9 L348.6,265.9 L349.1,265.9 L349.6,265.9 L350.1,265.9 L350.6,265.9 L351.1,265.9 L351.6,265.9 L352.1,265.9 L352.6,265.9 L353.1,265.9 L353.6,265.9 L354.1,265.9 L354.6,265.9 L355.1,265.9 L355.6,265.9 L356.1,265.9 L356.6,265.9 L357.1,265.9 L357.6,265.9 L358.1,265.9 L358.6,265.9 L359.1,265.9 L359.6,265.9 L360.1,265.9 L360.6,265.9 L361.1,265.9 L361.6,265.9 L362.1,265.9" fill="none" stroke="#12b062" stroke-width="1.6" stroke-linejoin="round"/>
<path d="M234.6,265.9 L234.6,265.84 L235.1,265.8 L235.6,265.75 L236.1,265.66 L236.6,265.54 L237.1,265.37 L237.6,265.13 L238.1,264.8 L238.6,264.36 L239.1,263.77 L239.6,263 L240.1,262.03 L240.6,260.82 L241.1,259.35 L241.6,257.6 L242.1,255.56 L242.6,253.24 L243.1,250.66 L243.6,247.88 L244.1,244.95 L244.6,241.96 L245.1,239.01 L245.6,236.23 L246.1,233.71 L246.6,231.58 L247.1,229.94 L247.6,228.86 L248.1,228.41 L248.6,228.57 L249.1,229.25 L249.6,230.43 L250.1,232.05 L250.6,234.05 L251.1,236.35 L251.6,238.88 L252.1,241.53 L252.6,244.24 L253.1,246.91 L253.6,249.49 L254.1,251.92 L254.6,254.16 L255.1,256.17 L255.6,257.96 L256.1,259.51 L256.6,260.82 L257.1,261.93 L257.6,262.84 L258.1,263.57 L258.6,264.15 L259.1,264.61 L259.6,264.96 L260.1,265.22 L260.6,265.42 L261.1,265.56 L261.6,265.67 L262.1,265.74 L262.6,265.79 L263.1,265.83 L297.6,265.84 L298.1,265.82 L298.6,265.79 L299.1,265.75 L299.6,265.69 L300.1,265.62 L300.6,265.52 L301.1,265.38 L301.6,265.21 L302.1,264.99 L302.6,264.7 L303.1,264.34 L303.6,263.89 L304.1,263.32 L304.6,262.62 L305.1,261.76 L305.6,260.72 L306.1,259.48 L306.6,257.99 L307.1,256.24 L307.6,254.19 L308.1,251.82 L308.6,249.11 L309.1,246.04 L309.6,242.59 L310.1,238.75 L310.6,234.54 L311.1,229.96 L311.6,225.04 L312.1,219.81 L312.6,214.33 L313.1,208.65 L313.6,202.85 L314.1,197.02 L314.6,191.24 L315.1,185.62 L315.6,180.27 L316.1,175.28 L316.6,170.77 L317.1,166.82 L317.6,163.53 L318.1,160.97 L318.6,159.19 L319.1,158.25 L319.6,158.17 L320.1,158.94 L320.6,160.55 L321.1,162.95 L321.6,166.11 L322.1,169.93 L322.6,174.34 L323.1,179.24 L323.6,184.53 L324.1,190.1 L324.6,195.85 L325.1,201.68 L325.6,207.5 L326.1,213.2 L326.6,218.73 L327.1,224.01 L327.6,229 L328.1,233.65 L328.6,237.94 L329.1,241.85 L329.6,245.38 L330.1,248.53 L330.6,251.31 L331.1,253.75 L331.6,255.85 L332.1,257.66 L332.6,259.2 L333.1,260.49 L333.6,261.57 L334.1,262.46 L334.6,263.19 L335.1,263.78 L335.6,264.26 L336.1,264.64 L336.6,264.94 L337.1,265.17 L337.6,265.35 L338.1,265.49 L338.6,265.6 L339.1,265.68 L339.6,265.74 L340.1,265.78 L340.6,265.82 L341.1,265.84 L341.1,265.9Z" fill="#f8b4b4" fill-opacity="1.0"/>
<path d="M203.6,265.9 L204.1,265.9 L204.6,265.9 L205.1,265.9 L205.6,265.9 L206.1,265.9 L206.6,265.9 L207.1,265.9 L207.6,265.9 L208.1,265.9 L208.6,265.9 L209.1,265.9 L209.6,265.9 L210.1,265.9 L210.6,265.9 L211.1,265.9 L211.6,265.9 L212.1,265.9 L212.6,265.9 L213.1,265.9 L213.6,265.9 L214.1,265.9 L214.6,265.9 L215.1,265.9 L215.6,265.9 L216.1,265.9 L216.6,265.9 L217.1,265.9 L217.6,265.9 L218.1,265.9 L218.6,265.9 L219.1,265.9 L219.6,265.9 L220.1,265.9 L220.6,265.9 L221.1,265.9 L221.6,265.9 L222.1,265.9 L222.6,265.9 L223.1,265.9 L223.6,265.9 L224.1,265.9 L224.6,265.9 L225.1,265.9 L225.6,265.9 L226.1,265.9 L226.6,265.9 L227.1,265.9 L227.6,265.9 L228.1,265.9 L228.6,265.9 L229.1,265.9 L229.6,265.9 L230.1,265.9 L230.6,265.9 L231.1,265.9 L231.6,265.9 L232.1,265.9 L232.6,265.89 L233.1,265.89 L233.6,265.88 L234.1,265.86 L234.6,265.84 L235.1,265.8 L235.6,265.75 L236.1,265.66 L236.6,265.54 L237.1,265.37 L237.6,265.13 L238.1,264.8 L238.6,264.36 L239.1,263.77 L239.6,263 L240.1,262.03 L240.6,260.82 L241.1,259.35 L241.6,257.6 L242.1,255.56 L242.6,253.24 L243.1,250.66 L243.6,247.88 L244.1,244.95 L244.6,241.96 L245.1,239.01 L245.6,236.23 L246.1,233.71 L246.6,231.58 L247.1,229.94 L247.6,228.86 L248.1,228.41 L248.6,228.57 L249.1,229.25 L249.6,230.43 L250.1,232.05 L250.6,234.05 L251.1,236.35 L251.6,238.88 L252.1,241.53 L252.6,244.24 L253.1,246.91 L253.6,249.49 L254.1,251.92 L254.6,254.16 L255.1,256.17 L255.6,257.96 L256.1,259.51 L256.6,260.82 L257.1,261.93 L257.6,262.84 L258.1,263.57 L258.6,264.15 L259.1,264.61 L259.6,264.96 L260.1,265.22 L260.6,265.42 L261.1,265.56 L261.6,265.67 L262.1,265.74 L262.6,265.79 L263.1,265.83 L263.6,265.85 L264.1,265.87 L264.6,265.88 L265.1,265.89 L265.6,265.89 L266.1,265.9 L266.6,265.9 L267.1,265.9 L267.6,265.9 L268.1,265.9 L268.6,265.9 L269.1,265.9 L269.6,265.9 L270.1,265.9 L270.6,265.9 L271.1,265.9 L271.6,265.9 L272.1,265.9 L272.6,265.9 L273.1,265.9 L273.6,265.9 L274.1,265.9 L274.6,265.9 L275.1,265.9 L275.6,265.9 L276.1,265.9 L276.6,265.9 L277.1,265.9 L277.6,265.9 L278.1,265.9 L278.6,265.9 L279.1,265.9 L279.6,265.9 L280.1,265.9 L280.6,265.9 L281.1,265.9 L281.6,265.9 L282.1,265.9 L282.6,265.9 L283.1,265.9 L283.6,265.9 L284.1,265.9 L284.6,265.9 L285.1,265.9 L285.6,265.9 L286.1,265.9 L286.6,265.9 L287.1,265.9 L287.6,265.9 L288.1,265.9 L288.6,265.9 L289.1,265.9 L289.6,265.9 L290.1,265.9 L290.6,265.9 L291.1,265.9 L291.6,265.9 L292.1,265.9 L292.6,265.9 L293.1,265.9 L293.6,265.9 L294.1,265.9 L294.6,265.89 L295.1,265.89 L295.6,265.89 L296.1,265.88 L296.6,265.87 L297.1,265.86 L297.6,265.84 L298.1,265.82 L298.6,265.79 L299.1,265.75 L299.6,265.69 L300.1,265.62 L300.6,265.52 L301.1,265.38 L301.6,265.21 L302.1,264.99 L302.6,264.7 L303.1,264.34 L303.6,263.89 L304.1,263.32 L304.6,262.62 L305.1,261.76 L305.6,260.72 L306.1,259.48 L306.6,257.99 L307.1,256.24 L307.6,254.19 L308.1,251.82 L308.6,249.11 L309.1,246.04 L309.6,242.59 L310.1,238.75 L310.6,234.54 L311.1,229.96 L311.6,225.04 L312.1,219.81 L312.6,214.33 L313.1,208.65 L313.6,202.85 L314.1,197.02 L314.6,191.24 L315.1,185.62 L315.6,180.27 L316.1,175.28 L316.6,170.77 L317.1,166.82 L317.6,163.53 L318.1,160.97 L318.6,159.19 L319.1,158.25 L319.6,158.17 L320.1,158.94 L320.6,160.55 L321.1,162.95 L321.6,166.11 L322.1,169.93 L322.6,174.34 L323.1,179.24 L323.6,184.53 L324.1,190.1 L324.6,195.85 L325.1,201.68 L325.6,207.5 L326.1,213.2 L326.6,218.73 L327.1,224.01 L327.6,229 L328.1,233.65 L328.6,237.94 L329.1,241.85 L329.6,245.38 L330.1,248.53 L330.6,251.31 L331.1,253.75 L331.6,255.85 L332.1,257.66 L332.6,259.2 L333.1,260.49 L333.6,261.57 L334.1,262.46 L334.6,263.19 L335.1,263.78 L335.6,264.26 L336.1,264.64 L336.6,264.94 L337.1,265.17 L337.6,265.35 L338.1,265.49 L338.6,265.6 L339.1,265.68 L339.6,265.74 L340.1,265.78 L340.6,265.82 L341.1,265.84 L341.6,265.86 L342.1,265.87 L342.6,265.88 L343.1,265.89 L343.6,265.89 L344.1,265.89 L344.6,265.9 L345.1,265.9 L345.6,265.9 L346.1,265.9 L346.6,265.9 L347.1,265.9 L347.6,265.9 L348.1,265.9 L348.6,265.9 L349.1,265.9 L349.6,265.9 L350.1,265.9 L350.6,265.9 L351.1,265.9 L351.6,265.9 L352.1,265.9 L352.6,265.9 L353.1,265.9 L353.6,265.9 L354.1,265.9 L354.6,265.9 L355.1,265.9 L355.6,265.9 L356.1,265.9 L356.6,265.9 L357.1,265.9 L357.6,265.9 L358.1,265.9 L358.6,265.9 L359.1,265.9 L359.6,265.9 L360.1,265.9 L360.6,265.9 L361.1,265.9 L361.6,265.9 L362.1,265.9" fill="none" stroke="#f41414" stroke-width="1.6" stroke-linejoin="round"/>
<line x1="203.6" y1="266.2" x2="362.1" y2="266.2" stroke="#f41414" stroke-width="2.2"/>
<path d="M203.6,260.38 L204.1,259.89 L204.6,259.36 L205.1,258.81 L205.6,258.26 L206.1,257.71 L206.6,257.19 L207.1,256.7 L207.6,256.24 L208.1,255.78 L208.6,255.32 L209.1,254.88 L209.6,254.44 L210.1,254.02 L210.6,253.6 L211.1,253.21 L211.6,252.82 L212.1,252.45 L212.6,252.07 L213.1,251.69 L213.6,251.3 L214.1,250.93 L214.6,250.59 L215.1,250.27 L215.6,249.99 L216.1,249.77 L216.6,249.6 L217.1,249.47 L217.6,249.34 L218.1,249.23 L218.6,249.12 L219.1,249.02 L219.6,248.94 L220.1,248.88 L220.6,248.83 L221.1,248.8 L221.6,248.81 L222.1,248.86 L222.6,248.98 L223.1,249.13 L223.6,249.33 L224.1,249.54 L224.6,249.78 L225.1,250.01 L225.6,250.25 L226.1,250.51 L226.6,250.81 L227.1,251.15 L227.6,251.51 L228.1,251.89 L228.6,252.27 L229.1,252.65 L229.6,253.03 L230.1,253.4 L230.6,253.81 L231.1,254.24 L231.6,254.67 L232.1,255.1 L232.6,255.52 L233.1,255.9 L233.6,256.25 L234.1,256.55 L234.6,256.79 L235.1,257.03 L235.6,257.25 L236.1,257.47 L236.6,257.65 L237.1,257.79 L237.6,257.88 L238.1,257.9 L238.6,257.86 L239.1,257.77 L239.6,257.63 L240.1,257.46 L240.6,257.25 L241.1,256.88 L241.6,256.27 L242.1,255.37 L242.6,253.06 L243.1,249.75 L243.6,246.6 L244.1,243.91 L244.6,241.27 L245.1,238.79 L245.6,236.57 L246.1,234.27 L246.6,231.95 L247.1,229.93 L247.6,228.58 L248.1,228.22 L248.6,228.72 L249.1,229.82 L249.6,231.36 L250.1,233.18 L250.6,235.11 L251.1,237 L251.6,239.11 L252.1,241.6 L252.6,244.19 L253.1,246.6 L253.6,248.89 L254.1,251.19 L254.6,253.35 L255.1,255.2 L255.6,256.63 L256.1,257.89 L256.6,259.04 L257.1,260.03 L257.6,260.84 L258.1,261.42 L258.6,261.8 L259.1,262.14 L259.6,262.43 L260.1,262.68 L260.6,262.9 L261.1,263.08 L261.6,263.21 L262.1,263.32 L262.6,263.41 L263.1,263.49 L263.6,263.58 L264.1,263.65 L264.6,263.73 L265.1,263.79 L265.6,263.85 L266.1,263.91 L266.6,263.96 L267.1,264 L267.6,264.03 L268.1,264.06 L268.6,264.08 L269.1,264.1 L269.6,264.1 L270.1,264.09 L270.6,264.07 L271.1,264.04 L271.6,264 L272.1,263.94 L272.6,263.88 L273.1,263.8 L273.6,263.72 L274.1,263.63 L274.6,263.53 L275.1,263.43 L275.6,263.32 L276.1,263.2 L276.6,263.02 L277.1,262.81 L277.6,262.55 L278.1,262.26 L278.6,261.93 L279.1,261.58 L279.6,261.19 L280.1,260.78 L280.6,260.32 L281.1,259.74 L281.6,259.07 L282.1,258.3 L282.6,257.47 L283.1,256.59 L283.6,255.67 L284.1,254.73 L284.6,253.78 L285.1,252.82 L285.6,251.79 L286.1,250.7 L286.6,249.56 L287.1,248.37 L287.6,247.16 L288.1,245.94 L288.6,244.72 L289.1,243.51 L289.6,242.32 L290.1,241.02 L290.6,239.65 L291.1,238.26 L291.6,236.92 L292.1,235.69 L292.6,234.64 L293.1,233.83 L293.6,233.21 L294.1,232.62 L294.6,232.07 L295.1,231.57 L295.6,231.16 L296.1,230.84 L296.6,230.65 L297.1,230.6 L297.6,230.75 L298.1,231.08 L298.6,231.55 L299.1,232.13 L299.6,232.78 L300.1,233.46 L300.6,234.14 L301.1,234.82 L301.6,235.67 L302.1,236.64 L302.6,237.67 L303.1,238.72 L303.6,239.71 L304.1,240.59 L304.6,241.3 L305.1,241.94 L305.6,242.57 L306.1,243.08 L306.6,243.37 L307.1,243.35 L307.6,243.09 L308.1,242.63 L308.6,242.01 L309.1,241.3 L309.6,240.46 L310.1,239 L310.6,236.2 L311.1,220.61 L311.6,216.17 L312.1,211.15 L312.6,206 L313.1,200.77 L313.6,195.53 L314.1,190.34 L314.6,185.29 L315.1,180.44 L315.6,175.88 L316.1,171.67 L316.6,167.91 L317.1,164.64 L317.6,161.93 L318.1,159.84 L318.6,158.39 L319.1,157.66 L319.6,157.54 L320.1,158.17 L320.6,159.48 L321.1,161.45 L321.6,164.04 L322.1,167.2 L322.6,170.88 L323.1,175 L323.6,179.5 L324.1,184.3 L324.6,189.32 L325.1,194.48 L325.6,199.72 L326.1,204.96 L326.6,210.13 L327.1,215.18 L327.6,220.05 L328.1,224.71 L328.6,229.12 L329.1,233.24 L329.6,237.07 L330.1,240.6 L330.6,243.81 L331.1,246.72 L331.6,249.32 L332.1,252.01 L332.6,254.82 L333.1,257.48 L333.6,259.75 L334.1,261.36 L334.6,262.08 L335.1,262.43 L335.6,262.75 L336.1,263.04 L336.6,263.29 L337.1,263.51 L337.6,263.7 L338.1,263.85 L338.6,263.98 L339.1,264.08 L339.6,264.15 L340.1,264.19 L340.6,264.21 L341.1,264.23 L341.6,264.25 L342.1,264.27 L342.6,264.29 L343.1,264.31 L343.6,264.33 L344.1,264.34 L344.6,264.36 L345.1,264.37 L345.6,264.39 L346.1,264.4 L346.6,264.42 L347.1,264.43 L347.6,264.44 L348.1,264.45 L348.6,264.46 L349.1,264.48 L349.6,264.49 L350.1,264.5 L350.6,264.51 L351.1,264.51 L351.6,264.52 L352.1,264.53 L352.6,264.54 L353.1,264.54 L353.6,264.55 L354.1,264.56 L354.6,264.56 L355.1,264.57 L355.6,264.57 L356.1,264.58 L356.6,264.58 L357.1,264.58 L357.6,264.59 L358.1,264.59 L358.6,264.59 L359.1,264.59 L359.6,264.6 L360.1,264.6 L360.6,264.6 L361.1,264.6 L361.6,264.6 L362.1,264.6" fill="none" stroke="#b83c14" stroke-width="1.6" stroke-linejoin="round" stroke-linecap="round"/>
<path d="M203.6,265.9 L204.1,265.9 L204.6,265.9 L205.1,265.9 L205.6,265.9 L206.1,265.9 L206.6,265.9 L207.1,265.9 L207.6,265.9 L208.1,265.9 L208.6,265.9 L209.1,265.9 L209.6,265.9 L210.1,265.9 L210.6,265.9 L211.1,265.9 L211.6,265.9 L212.1,265.9 L212.6,265.9 L213.1,265.9 L213.6,265.9 L214.1,265.9 L214.6,265.9 L215.1,265.9 L215.6,265.9 L216.1,265.9 L216.6,265.9 L217.1,265.9 L217.6,265.9 L218.1,265.9 L218.6,265.9 L219.1,265.9 L219.6,265.9 L220.1,265.9 L220.6,265.9 L221.1,265.9 L221.6,265.9 L222.1,265.9 L222.6,265.9 L223.1,265.9 L223.6,265.9 L224.1,265.9 L224.6,265.9 L225.1,265.9 L225.6,265.9 L226.1,265.9 L226.6,265.9 L227.1,265.9 L227.6,265.9 L228.1,265.9 L228.6,265.9 L229.1,265.9 L229.6,265.9 L230.1,265.9 L230.6,265.9 L231.1,265.9 L231.6,265.9 L232.1,265.9 L232.6,265.89 L233.1,265.89 L233.6,265.88 L234.1,265.86 L234.6,265.84 L235.1,265.8 L235.6,265.75 L236.1,265.66 L236.6,265.54 L237.1,265.37 L237.6,265.13 L238.1,264.8 L238.6,264.36 L239.1,263.77 L239.6,263 L240.1,262.03 L240.6,260.82 L241.1,259.35 L241.6,257.6 L242.1,255.56 L242.6,253.24 L243.1,250.66 L243.6,247.88 L244.1,244.95 L244.6,241.96 L245.1,239.01 L245.6,236.23 L246.1,233.71 L246.6,231.58 L247.1,229.94 L247.6,228.86 L248.1,228.41 L248.6,228.57 L249.1,229.25 L249.6,230.43 L250.1,232.05 L250.6,234.05 L251.1,236.35 L251.6,238.88 L252.1,241.53 L252.6,244.24 L253.1,246.91 L253.6,249.49 L254.1,251.92 L254.6,254.16 L255.1,256.17 L255.6,257.96 L256.1,259.51 L256.6,260.82 L257.1,261.93 L257.6,262.84 L258.1,263.57 L258.6,264.15 L259.1,264.61 L259.6,264.96 L260.1,265.22 L260.6,265.42 L261.1,265.56 L261.6,265.67 L262.1,265.74 L262.6,265.79 L263.1,265.83 L263.6,265.85 L264.1,265.87 L264.6,265.88 L265.1,265.89 L265.6,265.89 L266.1,265.9 L266.6,265.9 L267.1,265.9 L267.6,265.9 L268.1,265.9 L268.6,265.9 L269.1,265.9 L269.6,265.9 L270.1,265.9 L270.6,265.9 L271.1,265.9 L271.6,265.9 L272.1,265.9 L272.6,265.9 L273.1,265.9 L273.6,265.9 L274.1,265.9 L274.6,265.9 L275.1,265.9 L275.6,265.9 L276.1,265.9 L276.6,265.9 L277.1,265.9 L277.6,265.9 L278.1,265.9 L278.6,265.9 L279.1,265.9 L279.6,265.9 L280.1,265.9 L280.6,265.9 L281.1,265.9 L281.6,265.9 L282.1,265.9 L282.6,265.9 L283.1,265.9 L283.6,265.9 L284.1,265.9 L284.6,265.9 L285.1,265.9 L285.6,265.9 L286.1,265.9 L286.6,265.9 L287.1,265.9 L287.6,265.9 L288.1,265.9 L288.6,265.9 L289.1,265.9 L289.6,265.9 L290.1,265.9 L290.6,265.9 L291.1,265.9 L291.6,265.9 L292.1,265.9 L292.6,265.9 L293.1,265.9 L293.6,265.9 L294.1,265.9 L294.6,265.89 L295.1,265.89 L295.6,265.89 L296.1,265.88 L296.6,265.87 L297.1,265.86 L297.6,265.84 L298.1,265.82 L298.6,265.79 L299.1,265.75 L299.6,265.69 L300.1,265.62 L300.6,265.52 L301.1,265.38 L301.6,265.21 L302.1,264.99 L302.6,264.7 L303.1,264.34 L303.6,263.89 L304.1,263.32 L304.6,262.62 L305.1,261.76 L305.6,260.72 L306.1,259.48 L306.6,257.99 L307.1,256.24 L307.6,254.19 L308.1,251.82 L308.6,249.11 L309.1,246.04 L309.6,242.59 L310.1,238.75 L310.6,234.54 L311.1,229.96 L311.6,225.04 L312.1,219.81 L312.6,214.33 L313.1,208.65 L313.6,202.85 L314.1,197.02 L314.6,191.24 L315.1,185.62 L315.6,180.27 L316.1,175.28 L316.6,170.77 L317.1,166.82 L317.6,163.53 L318.1,160.97 L318.6,159.19 L319.1,158.25 L319.6,158.17 L320.1,158.94 L320.6,160.55 L321.1,162.95 L321.6,166.11 L322.1,169.93 L322.6,174.34 L323.1,179.24 L323.6,184.53 L324.1,190.1 L324.6,195.85 L325.1,201.68 L325.6,207.5 L326.1,213.2 L326.6,218.73 L327.1,224.01 L327.6,229 L328.1,233.65 L328.6,237.94 L329.1,241.85 L329.6,245.38 L330.1,248.53 L330.6,251.31 L331.1,253.75 L331.6,255.85 L332.1,257.66 L332.6,259.2 L333.1,260.49 L333.6,261.57 L334.1,262.46 L334.6,263.19 L335.1,263.78 L335.6,264.26 L336.1,264.64 L336.6,264.94 L337.1,265.17 L337.6,265.35 L338.1,265.49 L338.6,265.6 L339.1,265.68 L339.6,265.74 L340.1,265.78 L340.6,265.82 L341.1,265.84 L341.6,265.86 L342.1,265.87 L342.6,265.88 L343.1,265.89 L343.6,265.89 L344.1,265.89 L344.6,265.9 L345.1,265.9 L345.6,265.9 L346.1,265.9 L346.6,265.9 L347.1,265.9 L347.6,265.9 L348.1,265.9 L348.6,265.9 L349.1,265.9 L349.6,265.9 L350.1,265.9 L350.6,265.9 L351.1,265.9 L351.6,265.9 L352.1,265.9 L352.6,265.9 L353.1,265.9 L353.6,265.9 L354.1,265.9 L354.6,265.9 L355.1,265.9 L355.6,265.9 L356.1,265.9 L356.6,265.9 L357.1,265.9 L357.6,265.9 L358.1,265.9 L358.6,265.9 L359.1,265.9 L359.6,265.9 L360.1,265.9 L360.6,265.9 L361.1,265.9 L361.6,265.9 L362.1,265.9" fill="none" stroke="#f41414" stroke-width="1.7" stroke-linejoin="round"/>
<path d="M384.9,135.4 L384.9,135.32 L385.4,135.3 L385.9,135.28 L386.4,135.25 L386.9,135.22 L387.4,135.18 L387.9,135.14 L388.4,135.09 L388.9,135.03 L389.4,134.97 L389.9,134.89 L390.4,134.8 L390.9,134.7 L391.4,134.59 L391.9,134.46 L392.4,134.32 L392.9,134.16 L393.4,133.97 L393.9,133.77 L394.4,133.55 L394.9,133.31 L395.4,133.04 L395.9,132.75 L396.4,132.44 L396.9,132.1 L397.4,131.74 L397.9,131.35 L398.4,130.94 L398.9,130.51 L399.4,130.05 L399.9,129.58 L400.4,129.09 L400.9,128.59 L401.4,128.07 L401.9,127.54 L402.4,127.01 L402.9,126.48 L403.4,125.96 L403.9,125.44 L404.4,124.93 L404.9,124.44 L405.4,123.97 L405.9,123.53 L406.4,123.12 L406.9,122.75 L407.4,122.41 L407.9,122.12 L408.4,121.87 L408.9,121.67 L409.4,121.53 L409.9,121.44 L410.4,121.4 L410.9,121.42 L411.4,121.53 L411.9,121.71 L412.4,121.98 L412.9,122.31 L413.4,122.72 L413.9,123.18 L414.4,123.69 L414.9,124.25 L415.4,124.85 L415.9,125.47 L416.4,126.1 L416.9,126.75 L417.4,127.4 L417.9,128.04 L418.4,128.67 L418.9,129.28 L419.4,129.87 L419.9,130.43 L420.4,130.95 L420.9,131.44 L421.4,131.9 L421.9,132.31 L422.4,132.69 L422.9,133.03 L423.4,133.33 L423.9,133.6 L424.4,133.84 L424.9,134.04 L425.4,134.21 L425.9,134.36 L426.4,134.48 L426.9,134.58 L427.4,134.66 L427.9,134.72 L428.4,134.77 L428.9,134.8 L429.4,134.81 L429.9,134.81 L430.4,134.81 L430.9,134.79 L431.4,134.76 L431.9,134.73 L432.4,134.69 L432.9,134.64 L433.4,134.58 L433.9,134.52 L434.4,134.45 L434.9,134.37 L435.4,134.29 L435.9,134.19 L436.4,134.1 L436.9,133.99 L437.4,133.88 L437.9,133.76 L438.4,133.63 L438.9,133.5 L439.4,133.35 L439.9,133.2 L440.4,133.04 L440.9,132.87 L441.4,132.69 L441.9,132.5 L442.4,132.3 L442.9,132.09 L443.4,131.88 L443.9,131.65 L444.4,131.41 L444.9,131.16 L445.4,130.9 L445.9,130.62 L446.4,130.34 L446.9,130.05 L447.4,129.75 L447.9,129.43 L448.4,129.11 L448.9,128.77 L449.4,128.43 L449.9,128.07 L450.4,127.71 L450.9,127.33 L451.4,126.95 L451.9,126.56 L452.4,126.16 L452.9,125.75 L453.4,125.34 L453.9,124.92 L454.4,124.5 L454.9,124.07 L455.4,123.64 L455.9,123.2 L456.4,122.76 L456.9,122.33 L457.4,121.89 L457.9,121.45 L458.4,121.01 L458.9,120.58 L459.4,120.15 L459.9,119.73 L460.4,119.31 L460.9,118.9 L461.4,118.49 L461.9,118.1 L462.4,117.72 L462.9,117.35 L463.4,116.99 L463.9,116.64 L464.4,116.31 L464.9,116 L465.4,115.7 L465.9,115.42 L466.4,115.16 L466.9,114.92 L467.4,114.7 L467.9,114.5 L468.4,114.32 L468.9,114.16 L469.4,114.02 L469.9,113.91 L470.4,113.82 L470.9,113.76 L471.4,113.72 L471.9,113.7 L472.4,113.71 L472.9,113.74 L473.4,113.79 L473.9,113.86 L474.4,113.96 L474.9,114.08 L475.4,114.22 L475.9,114.38 L476.4,114.56 L476.9,114.76 L477.4,114.98 L477.9,115.22 L478.4,115.47 L478.9,115.75 L479.4,116.04 L479.9,116.34 L480.4,116.66 L480.9,117 L481.4,117.35 L481.9,117.7 L482.4,118.07 L482.9,118.45 L483.4,118.84 L483.9,119.24 L484.4,119.64 L484.9,120.05 L485.4,120.47 L485.9,120.88 L486.4,121.31 L486.9,121.73 L487.4,122.15 L487.9,122.58 L488.4,123 L488.9,123.42 L489.4,123.84 L489.9,124.26 L490.4,124.67 L490.9,125.08 L491.4,125.49 L491.9,125.88 L492.4,126.27 L492.9,126.66 L493.4,127.03 L493.9,127.4 L494.4,127.76 L494.9,128.11 L495.4,128.46 L495.9,128.79 L496.4,129.11 L496.9,129.43 L497.4,129.73 L497.9,130.03 L498.4,130.31 L498.9,130.59 L499.4,130.85 L499.9,131.11 L500.4,131.35 L500.9,131.58 L501.4,131.81 L501.9,132.02 L502.4,132.23 L502.9,132.43 L503.4,132.61 L503.9,132.79 L504.4,132.96 L504.9,133.12 L505.4,133.27 L505.9,133.42 L506.4,133.55 L506.9,133.68 L507.4,133.8 L507.9,133.92 L508.4,134.02 L508.9,134.12 L509.4,134.22 L509.9,134.31 L510.4,134.39 L510.9,134.47 L511.4,134.54 L511.9,134.61 L512.4,134.67 L512.9,134.73 L513.4,134.79 L513.9,134.84 L514.4,134.89 L514.9,134.93 L515.4,134.97 L515.9,135.01 L516.4,135.04 L516.9,135.07 L517.4,135.1 L517.9,135.13 L518.4,135.15 L518.9,135.18 L519.4,135.2 L519.9,135.22 L520.4,135.23 L520.9,135.25 L521.4,135.26 L521.9,135.28 L522.4,135.29 L522.9,135.3 L523.4,135.31 L523.4,135.4Z" fill="#f5dcc8"/>
<path d="M397.9,135.4 L397.9,135.31 L398.4,135.29 L398.9,135.26 L399.4,135.23 L399.9,135.19 L400.4,135.13 L400.9,135.07 L401.4,135 L401.9,134.91 L402.4,134.81 L402.9,134.69 L403.4,134.54 L403.9,134.38 L404.4,134.19 L404.9,133.97 L405.4,133.71 L405.9,133.43 L406.4,133.11 L406.9,132.74 L407.4,132.34 L407.9,131.89 L408.4,131.4 L408.9,130.87 L409.4,130.28 L409.9,129.65 L410.4,128.98 L410.9,128.27 L411.4,127.51 L411.9,126.72 L412.4,125.9 L412.9,125.06 L413.4,124.2 L413.9,123.32 L414.4,122.45 L414.9,121.58 L415.4,120.73 L415.9,119.91 L416.4,119.12 L416.9,118.38 L417.4,117.7 L417.9,117.09 L418.4,116.55 L418.9,116.09 L419.4,115.72 L419.9,115.45 L420.4,115.27 L420.9,115.2 L421.4,115.24 L421.9,115.43 L422.4,115.74 L422.9,116.19 L423.4,116.75 L423.9,117.43 L424.4,118.2 L424.9,119.05 L425.4,119.96 L425.9,120.93 L426.4,121.93 L426.9,122.94 L427.4,123.96 L427.9,124.97 L428.4,125.96 L428.9,126.91 L429.4,127.82 L429.9,128.68 L430.4,129.48 L430.9,130.22 L431.4,130.9 L431.9,131.52 L432.4,132.08 L432.9,132.57 L433.4,133.01 L433.9,133.4 L434.4,133.73 L434.9,134.02 L435.4,134.27 L435.9,134.47 L436.4,134.65 L436.9,134.8 L437.4,134.92 L437.9,135.02 L438.4,135.1 L438.9,135.16 L439.4,135.22 L439.9,135.26 L440.4,135.29 L440.9,135.32 L440.9,135.4Z" fill="#bcc0f8"/>
<path d="M464.4,135.4 L464.4,135.3 L464.9,135.27 L465.4,135.23 L465.9,135.18 L466.4,135.12 L466.9,135.04 L467.4,134.94 L467.9,134.82 L468.4,134.68 L468.9,134.5 L469.4,134.29 L469.9,134.03 L470.4,133.73 L470.9,133.37 L471.4,132.96 L471.9,132.47 L472.4,131.91 L472.9,131.27 L473.4,130.54 L473.9,129.71 L474.4,128.79 L474.9,127.76 L475.4,126.62 L475.9,125.38 L476.4,124.03 L476.9,122.58 L477.4,121.03 L477.9,119.39 L478.4,117.67 L478.9,115.88 L479.4,114.05 L479.9,112.19 L480.4,110.32 L480.9,108.46 L481.4,106.65 L481.9,104.89 L482.4,103.23 L482.9,101.68 L483.4,100.27 L483.9,99.03 L484.4,97.97 L484.9,97.12 L485.4,96.48 L485.9,96.07 L486.4,95.9 L486.9,95.98 L487.4,96.29 L487.9,96.83 L488.4,97.6 L488.9,98.58 L489.4,99.75 L489.9,101.1 L490.4,102.59 L490.9,104.21 L491.4,105.93 L491.9,107.73 L492.4,109.57 L492.9,111.44 L493.4,113.31 L493.9,115.16 L494.4,116.96 L494.9,118.71 L495.4,120.38 L495.9,121.97 L496.4,123.46 L496.9,124.85 L497.4,126.14 L497.9,127.32 L498.4,128.39 L498.9,129.35 L499.4,130.22 L499.9,130.99 L500.4,131.66 L500.9,132.26 L501.4,132.77 L501.9,133.22 L502.4,133.6 L502.9,133.92 L503.4,134.19 L503.9,134.42 L504.4,134.61 L504.9,134.77 L505.4,134.9 L505.9,135 L506.4,135.09 L506.9,135.15 L507.4,135.21 L507.9,135.25 L508.4,135.29 L508.9,135.31 L508.9,135.4Z" fill="#bcc0f8"/>
<path d="M393.4,135.4 L393.4,135.32 L393.9,135.3 L394.4,135.28 L394.9,135.26 L395.4,135.24 L395.9,135.21 L396.4,135.18 L396.9,135.15 L397.4,135.1 L397.9,135.06 L398.4,135 L398.9,134.94 L399.4,134.88 L399.9,134.8 L400.4,134.71 L400.9,134.61 L401.4,134.5 L401.9,134.38 L402.4,134.24 L402.9,134.09 L403.4,133.92 L403.9,133.73 L404.4,133.53 L404.9,133.3 L405.4,133.05 L405.9,132.78 L406.4,132.48 L406.9,132.16 L407.4,131.81 L407.9,131.43 L408.4,131.03 L408.9,130.59 L409.4,130.12 L409.9,129.62 L410.4,129.08 L410.9,128.52 L411.4,127.91 L411.9,127.28 L412.4,126.61 L412.9,125.91 L413.4,125.18 L413.9,124.42 L414.4,123.63 L414.9,122.81 L415.4,121.97 L415.9,121.11 L416.4,120.22 L416.9,119.32 L417.4,118.4 L417.9,117.48 L418.4,116.55 L418.9,115.61 L419.4,114.68 L419.9,113.76 L420.4,112.85 L420.9,111.95 L421.4,111.08 L421.9,110.24 L422.4,109.42 L422.9,108.65 L423.4,107.91 L423.9,107.22 L424.4,106.59 L424.9,106 L425.4,105.48 L425.9,105.02 L426.4,104.62 L426.9,104.29 L427.4,104.03 L427.9,103.85 L428.4,103.74 L428.9,103.7 L429.4,103.75 L429.9,103.91 L430.4,104.17 L430.9,104.53 L431.4,104.98 L431.9,105.53 L432.4,106.16 L432.9,106.88 L433.4,107.67 L433.9,108.53 L434.4,109.44 L434.9,110.41 L435.4,111.42 L435.9,112.47 L436.4,113.54 L436.9,114.63 L437.4,115.73 L437.9,116.84 L438.4,117.94 L438.9,119.03 L439.4,120.1 L439.9,121.15 L440.4,122.17 L440.9,123.16 L441.4,124.11 L441.9,125.02 L442.4,125.89 L442.9,126.72 L443.4,127.5 L443.9,128.23 L444.4,128.92 L444.9,129.56 L445.4,130.15 L445.9,130.7 L446.4,131.21 L446.9,131.67 L447.4,132.09 L447.9,132.48 L448.4,132.83 L448.9,133.14 L449.4,133.43 L449.9,133.68 L450.4,133.9 L450.9,134.1 L451.4,134.28 L451.9,134.44 L452.4,134.57 L452.9,134.69 L453.4,134.8 L453.9,134.89 L454.4,134.97 L454.9,135.04 L455.4,135.09 L455.9,135.14 L456.4,135.19 L456.9,135.22 L457.4,135.25 L457.9,135.28 L458.4,135.3 L458.9,135.32 L458.9,135.4Z" fill="#cde8f2"/>
<path d="M474.4,135.4 L474.4,135.31 L474.9,135.29 L475.4,135.25 L475.9,135.21 L476.4,135.16 L476.9,135.09 L477.4,135 L477.9,134.89 L478.4,134.76 L478.9,134.59 L479.4,134.39 L479.9,134.14 L480.4,133.85 L480.9,133.49 L481.4,133.06 L481.9,132.55 L482.4,131.95 L482.9,131.25 L483.4,130.43 L483.9,129.49 L484.4,128.4 L484.9,127.15 L485.4,125.73 L485.9,124.14 L486.4,122.34 L486.9,120.35 L487.4,118.14 L487.9,115.72 L488.4,113.08 L488.9,110.22 L489.4,107.14 L489.9,103.87 L490.4,100.4 L490.9,96.76 L491.4,92.97 L491.9,89.06 L492.4,85.06 L492.9,81.02 L493.4,76.96 L493.9,72.94 L494.4,69.01 L494.9,65.21 L495.4,61.59 L495.9,58.2 L496.4,55.09 L496.9,52.31 L497.4,49.89 L497.9,47.88 L498.4,46.31 L498.9,45.19 L499.4,44.56 L499.9,44.41 L500.4,44.81 L500.9,45.78 L501.4,47.29 L501.9,49.32 L502.4,51.83 L502.9,54.78 L503.4,58.11 L503.9,61.77 L504.4,65.69 L504.9,69.82 L505.4,74.1 L505.9,78.45 L506.4,82.83 L506.9,87.18 L507.4,91.44 L507.9,95.58 L508.4,99.56 L508.9,103.34 L509.4,106.9 L509.9,110.23 L510.4,113.3 L510.9,116.13 L511.4,118.69 L511.9,121.01 L512.4,123.08 L512.9,124.93 L513.4,126.55 L513.9,127.96 L514.4,129.19 L514.9,130.25 L515.4,131.16 L515.9,131.93 L516.4,132.57 L516.9,133.11 L517.4,133.56 L517.9,133.93 L518.4,134.24 L518.9,134.48 L519.4,134.68 L519.9,134.84 L520.4,134.97 L520.9,135.07 L521.4,135.15 L521.9,135.21 L522.4,135.25 L522.9,135.29 L523.4,135.32 L523.4,135.4Z" fill="#cde8f2"/>
<path d="M397.9,135.4 L397.9,135.31 L398.4,135.29 L398.9,135.26 L399.4,135.23 L399.9,135.19 L400.4,135.13 L400.9,135.07 L401.4,135 L401.9,134.91 L402.4,134.81 L402.9,134.69 L403.4,134.54 L403.9,134.38 L404.4,134.19 L404.9,133.97 L405.4,133.71 L405.9,133.43 L406.4,133.11 L406.9,132.74 L407.4,132.34 L407.9,131.89 L408.4,131.4 L408.9,130.87 L409.4,130.28 L409.9,129.65 L410.4,128.98 L410.9,128.27 L411.4,127.51 L411.9,126.72 L412.4,125.9 L412.9,125.06 L413.4,124.2 L413.9,123.32 L414.4,123.69 L414.9,124.25 L415.4,124.85 L415.9,125.47 L416.4,126.1 L416.9,126.75 L417.4,127.4 L417.9,128.04 L418.4,128.67 L418.9,129.28 L419.4,129.87 L419.9,130.43 L420.4,130.95 L420.9,131.44 L421.4,131.9 L421.9,132.31 L422.4,132.69 L422.9,133.03 L423.4,133.33 L423.9,133.6 L424.4,133.84 L424.9,134.04 L425.4,134.21 L425.9,134.36 L426.4,134.48 L426.9,134.58 L427.4,134.66 L427.9,134.72 L428.4,134.77 L428.9,134.8 L429.4,134.81 L429.9,134.81 L430.4,134.81 L430.9,134.79 L431.4,134.76 L431.9,134.73 L432.4,134.69 L432.9,134.64 L433.4,134.58 L433.9,134.52 L434.4,134.45 L434.9,134.37 L435.4,134.29 L435.9,134.47 L436.4,134.65 L436.9,134.8 L437.4,134.92 L437.9,135.02 L438.4,135.1 L438.9,135.16 L439.4,135.22 L439.9,135.26 L440.4,135.29 L440.9,135.32 L440.9,135.4Z" fill="#aa8cb4"/>
<path d="M464.4,135.4 L464.4,135.3 L464.9,135.27 L465.4,135.23 L465.9,135.18 L466.4,135.12 L466.9,135.04 L467.4,134.94 L467.9,134.82 L468.4,134.68 L468.9,134.5 L469.4,134.29 L469.9,134.03 L470.4,133.73 L470.9,133.37 L471.4,132.96 L471.9,132.47 L472.4,131.91 L472.9,131.27 L473.4,130.54 L473.9,129.71 L474.4,128.79 L474.9,127.76 L475.4,126.62 L475.9,125.38 L476.4,124.03 L476.9,122.58 L477.4,121.03 L477.9,119.39 L478.4,117.67 L478.9,115.88 L479.4,116.04 L479.9,116.34 L480.4,116.66 L480.9,117 L481.4,117.35 L481.9,117.7 L482.4,118.07 L482.9,118.45 L483.4,118.84 L483.9,119.24 L484.4,119.64 L484.9,120.05 L485.4,120.47 L485.9,120.88 L486.4,121.31 L486.9,121.73 L487.4,122.15 L487.9,122.58 L488.4,123 L488.9,123.42 L489.4,123.84 L489.9,124.26 L490.4,124.67 L490.9,125.08 L491.4,125.49 L491.9,125.88 L492.4,126.27 L492.9,126.66 L493.4,127.03 L493.9,127.4 L494.4,127.76 L494.9,128.11 L495.4,128.46 L495.9,128.79 L496.4,129.11 L496.9,129.43 L497.4,129.73 L497.9,130.03 L498.4,130.31 L498.9,130.59 L499.4,130.85 L499.9,131.11 L500.4,131.66 L500.9,132.26 L501.4,132.77 L501.9,133.22 L502.4,133.6 L502.9,133.92 L503.4,134.19 L503.9,134.42 L504.4,134.61 L504.9,134.77 L505.4,134.9 L505.9,135 L506.4,135.09 L506.9,135.15 L507.4,135.21 L507.9,135.25 L508.4,135.29 L508.9,135.31 L508.9,135.4Z" fill="#aa8cb4"/>
<path d="M393.4,135.4 L393.4,135.32 L393.9,135.3 L394.4,135.28 L394.9,135.26 L395.4,135.24 L395.9,135.21 L396.4,135.18 L396.9,135.15 L397.4,135.1 L397.9,135.06 L398.4,135 L398.9,134.94 L399.4,134.88 L399.9,134.8 L400.4,134.71 L400.9,134.61 L401.4,134.5 L401.9,134.38 L402.4,134.24 L402.9,134.09 L403.4,133.92 L403.9,133.73 L404.4,133.53 L404.9,133.3 L405.4,133.05 L405.9,132.78 L406.4,132.48 L406.9,132.16 L407.4,131.81 L407.9,131.43 L408.4,131.03 L408.9,130.59 L409.4,130.12 L409.9,129.62 L410.4,129.08 L410.9,128.52 L411.4,127.91 L411.9,127.28 L412.4,126.61 L412.9,125.91 L413.4,125.18 L413.9,124.42 L414.4,123.69 L414.9,124.25 L415.4,124.85 L415.9,125.47 L416.4,126.1 L416.9,126.75 L417.4,127.4 L417.9,128.04 L418.4,128.67 L418.9,129.28 L419.4,129.87 L419.9,130.43 L420.4,130.95 L420.9,131.44 L421.4,131.9 L421.9,132.31 L422.4,132.69 L422.9,133.03 L423.4,133.33 L423.9,133.6 L424.4,133.84 L424.9,134.04 L425.4,134.21 L425.9,134.36 L426.4,134.48 L426.9,134.58 L427.4,134.66 L427.9,134.72 L428.4,134.77 L428.9,134.8 L429.4,134.81 L429.9,134.81 L430.4,134.81 L430.9,134.79 L431.4,134.76 L431.9,134.73 L432.4,134.69 L432.9,134.64 L433.4,134.58 L433.9,134.52 L434.4,134.45 L434.9,134.37 L435.4,134.29 L435.9,134.19 L436.4,134.1 L436.9,133.99 L437.4,133.88 L437.9,133.76 L438.4,133.63 L438.9,133.5 L439.4,133.35 L439.9,133.2 L440.4,133.04 L440.9,132.87 L441.4,132.69 L441.9,132.5 L442.4,132.3 L442.9,132.09 L443.4,131.88 L443.9,131.65 L444.4,131.41 L444.9,131.16 L445.4,130.9 L445.9,130.7 L446.4,131.21 L446.9,131.67 L447.4,132.09 L447.9,132.48 L448.4,132.83 L448.9,133.14 L449.4,133.43 L449.9,133.68 L450.4,133.9 L450.9,134.1 L451.4,134.28 L451.9,134.44 L452.4,134.57 L452.9,134.69 L453.4,134.8 L453.9,134.89 L454.4,134.97 L454.9,135.04 L455.4,135.09 L455.9,135.14 L456.4,135.19 L456.9,135.22 L457.4,135.25 L457.9,135.28 L458.4,135.3 L458.9,135.32 L458.9,135.4Z" fill="#c8cccc"/>
<path d="M474.4,135.4 L474.4,135.31 L474.9,135.29 L475.4,135.25 L475.9,135.21 L476.4,135.16 L476.9,135.09 L477.4,135 L477.9,134.89 L478.4,134.76 L478.9,134.59 L479.4,134.39 L479.9,134.14 L480.4,133.85 L480.9,133.49 L481.4,133.06 L481.9,132.55 L482.4,131.95 L482.9,131.25 L483.4,130.43 L483.9,129.49 L484.4,128.4 L484.9,127.15 L485.4,125.73 L485.9,124.14 L486.4,122.34 L486.9,121.73 L487.4,122.15 L487.9,122.58 L488.4,123 L488.9,123.42 L489.4,123.84 L489.9,124.26 L490.4,124.67 L490.9,125.08 L491.4,125.49 L491.9,125.88 L492.4,126.27 L492.9,126.66 L493.4,127.03 L493.9,127.4 L494.4,127.76 L494.9,128.11 L495.4,128.46 L495.9,128.79 L496.4,129.11 L496.9,129.43 L497.4,129.73 L497.9,130.03 L498.4,130.31 L498.9,130.59 L499.4,130.85 L499.9,131.11 L500.4,131.35 L500.9,131.58 L501.4,131.81 L501.9,132.02 L502.4,132.23 L502.9,132.43 L503.4,132.61 L503.9,132.79 L504.4,132.96 L504.9,133.12 L505.4,133.27 L505.9,133.42 L506.4,133.55 L506.9,133.68 L507.4,133.8 L507.9,133.92 L508.4,134.02 L508.9,134.12 L509.4,134.22 L509.9,134.31 L510.4,134.39 L510.9,134.47 L511.4,134.54 L511.9,134.61 L512.4,134.67 L512.9,134.73 L513.4,134.79 L513.9,134.84 L514.4,134.89 L514.9,134.93 L515.4,134.97 L515.9,135.01 L516.4,135.04 L516.9,135.07 L517.4,135.1 L517.9,135.13 L518.4,135.15 L518.9,135.18 L519.4,135.2 L519.9,135.22 L520.4,135.23 L520.9,135.25 L521.4,135.26 L521.9,135.28 L522.4,135.29 L522.9,135.3 L523.4,135.32 L523.4,135.4Z" fill="#c8cccc"/>
<path d="M397.9,135.4 L397.9,135.31 L398.4,135.29 L398.9,135.26 L399.4,135.23 L399.9,135.19 L400.4,135.13 L400.9,135.07 L401.4,135 L401.9,134.91 L402.4,134.81 L402.9,134.69 L403.4,134.54 L403.9,134.38 L404.4,134.19 L404.9,133.97 L405.4,133.71 L405.9,133.43 L406.4,133.11 L406.9,132.74 L407.4,132.34 L407.9,131.89 L408.4,131.4 L408.9,130.87 L409.4,130.28 L409.9,129.65 L410.4,129.08 L410.9,128.52 L411.4,127.91 L411.9,127.28 L412.4,126.61 L412.9,125.91 L413.4,125.18 L413.9,124.42 L414.4,123.63 L414.9,122.81 L415.4,121.97 L415.9,121.11 L416.4,120.22 L416.9,119.32 L417.4,118.4 L417.9,117.48 L418.4,116.55 L418.9,116.09 L419.4,115.72 L419.9,115.45 L420.4,115.27 L420.9,115.2 L421.4,115.24 L421.9,115.43 L422.4,115.74 L422.9,116.19 L423.4,116.75 L423.9,117.43 L424.4,118.2 L424.9,119.05 L425.4,119.96 L425.9,120.93 L426.4,121.93 L426.9,122.94 L427.4,123.96 L427.9,124.97 L428.4,125.96 L428.9,126.91 L429.4,127.82 L429.9,128.68 L430.4,129.48 L430.9,130.22 L431.4,130.9 L431.9,131.52 L432.4,132.08 L432.9,132.57 L433.4,133.01 L433.9,133.4 L434.4,133.73 L434.9,134.02 L435.4,134.27 L435.9,134.47 L436.4,134.65 L436.9,134.8 L437.4,134.92 L437.9,135.02 L438.4,135.1 L438.9,135.16 L439.4,135.22 L439.9,135.26 L440.4,135.29 L440.9,135.32 L440.9,135.4Z" fill="#7a8eea"/>
<path d="M474.4,135.4 L474.4,135.31 L474.9,135.29 L475.4,135.25 L475.9,135.21 L476.4,135.16 L476.9,135.09 L477.4,135 L477.9,134.89 L478.4,134.76 L478.9,134.59 L479.4,134.39 L479.9,134.14 L480.4,133.85 L480.9,133.49 L481.4,133.06 L481.9,132.55 L482.4,131.95 L482.9,131.25 L483.4,130.43 L483.9,129.49 L484.4,128.4 L484.9,127.15 L485.4,125.73 L485.9,124.14 L486.4,122.34 L486.9,120.35 L487.4,118.14 L487.9,115.72 L488.4,113.08 L488.9,110.22 L489.4,107.14 L489.9,103.87 L490.4,102.59 L490.9,104.21 L491.4,105.93 L491.9,107.73 L492.4,109.57 L492.9,111.44 L493.4,113.31 L493.9,115.16 L494.4,116.96 L494.9,118.71 L495.4,120.38 L495.9,121.97 L496.4,123.46 L496.9,124.85 L497.4,126.14 L497.9,127.32 L498.4,128.39 L498.9,129.35 L499.4,130.22 L499.9,130.99 L500.4,131.66 L500.9,132.26 L501.4,132.77 L501.9,133.22 L502.4,133.6 L502.9,133.92 L503.4,134.19 L503.9,134.42 L504.4,134.61 L504.9,134.77 L505.4,134.9 L505.9,135 L506.4,135.09 L506.9,135.15 L507.4,135.21 L507.9,135.25 L508.4,135.29 L508.9,135.31 L508.9,135.4Z" fill="#7a8eea"/>
<path d="M397.9,135.4 L397.9,135.31 L398.4,135.29 L398.9,135.26 L399.4,135.23 L399.9,135.19 L400.4,135.13 L400.9,135.07 L401.4,135 L401.9,134.91 L402.4,134.81 L402.9,134.69 L403.4,134.54 L403.9,134.38 L404.4,134.19 L404.9,133.97 L405.4,133.71 L405.9,133.43 L406.4,133.11 L406.9,132.74 L407.4,132.34 L407.9,131.89 L408.4,131.4 L408.9,130.87 L409.4,130.28 L409.9,129.65 L410.4,129.08 L410.9,128.52 L411.4,127.91 L411.9,127.28 L412.4,126.61 L412.9,125.91 L413.4,125.18 L413.9,124.42 L414.4,123.69 L414.9,124.25 L415.4,124.85 L415.9,125.47 L416.4,126.1 L416.9,126.75 L417.4,127.4 L417.9,128.04 L418.4,128.67 L418.9,129.28 L419.4,129.87 L419.9,130.43 L420.4,130.95 L420.9,131.44 L421.4,131.9 L421.9,132.31 L422.4,132.69 L422.9,133.03 L423.4,133.33 L423.9,133.6 L424.4,133.84 L424.9,134.04 L425.4,134.21 L425.9,134.36 L426.4,134.48 L426.9,134.58 L427.4,134.66 L427.9,134.72 L428.4,134.77 L428.9,134.8 L429.4,134.81 L429.9,134.81 L430.4,134.81 L430.9,134.79 L431.4,134.76 L431.9,134.73 L432.4,134.69 L432.9,134.64 L433.4,134.58 L433.9,134.52 L434.4,134.45 L434.9,134.37 L435.4,134.29 L435.9,134.47 L436.4,134.65 L436.9,134.8 L437.4,134.92 L437.9,135.02 L438.4,135.1 L438.9,135.16 L439.4,135.22 L439.9,135.26 L440.4,135.29 L440.9,135.32 L440.9,135.4Z" fill="#6070c4"/>
<path d="M474.4,135.4 L474.4,135.31 L474.9,135.29 L475.4,135.25 L475.9,135.21 L476.4,135.16 L476.9,135.09 L477.4,135 L477.9,134.89 L478.4,134.76 L478.9,134.59 L479.4,134.39 L479.9,134.14 L480.4,133.85 L480.9,133.49 L481.4,133.06 L481.9,132.55 L482.4,131.95 L482.9,131.25 L483.4,130.43 L483.9,129.49 L484.4,128.4 L484.9,127.15 L485.4,125.73 L485.9,124.14 L486.4,122.34 L486.9,121.73 L487.4,122.15 L487.9,122.58 L488.4,123 L488.9,123.42 L489.4,123.84 L489.9,124.26 L490.4,124.67 L490.9,125.08 L491.4,125.49 L491.9,125.88 L492.4,126.27 L492.9,126.66 L493.4,127.03 L493.9,127.4 L494.4,127.76 L494.9,128.11 L495.4,128.46 L495.9,128.79 L496.4,129.11 L496.9,129.43 L497.4,129.73 L497.9,130.03 L498.4,130.31 L498.9,130.59 L499.4,130.85 L499.9,131.11 L500.4,131.66 L500.9,132.26 L501.4,132.77 L501.9,133.22 L502.4,133.6 L502.9,133.92 L503.4,134.19 L503.9,134.42 L504.4,134.61 L504.9,134.77 L505.4,134.9 L505.9,135 L506.4,135.09 L506.9,135.15 L507.4,135.21 L507.9,135.25 L508.4,135.29 L508.9,135.31 L508.9,135.4Z" fill="#6070c4"/>
<path d="M377.85,133.59 L378.51,133.17 L379.2,133.32 L379.91,133.47 L380.57,133.2 L381.26,133.14 L381.93,132.89 L382.6,132.67 L383.32,132.77 L384,132.56 L384.72,132.59 L385.37,132.27 L386.13,132.47 L386.77,132.02 L387.51,132.17 L388.15,131.81 L388.87,131.84 L389.54,131.6 L390.24,131.5 L390.9,131.21 L391.54,130.87 L392.23,130.68 L392.93,130.49 L393.57,130.13 L394.15,129.73 L394.9,129.61 L395.49,129.13 L396.18,128.74 L396.69,128.06 L397.56,127.79 L398.12,127.08 L398.92,126.65 L399.58,125.96 L400.06,125.04 L400.79,124.24 L401.6,123.41 L402.36,122.46 L402.72,121.19 L403.57,120.08 L404.1,118.55 L404.92,117.02 L405.54,115.33 L406.27,113.73 L406.79,112.12 L407.52,110.64 L408.42,109.23 L409.1,107.67 L409.91,106.08 L410.35,104.21 L411.35,102.37 L411.95,100.3 L412.4,98.2 L413.48,96.39 L413.86,94.21 L414.63,92.18 L415.38,90.37 L416.24,89.04 L417.03,88 L417.41,86.72 L418.22,85.76 L418.96,84.82 L419.98,84.25 L420.6,83.31 L421.65,83.07 L422.65,82.85 L423.72,82.82 L424.7,83.22 L425.4,84.04 L426.4,84.58 L427.09,85.52 L427.95,86.38 L428.68,87.39 L429.29,88.49 L429.88,89.67 L430.9,90.98 L431.52,92.7 L432.03,94.59 L432.99,96.32 L433.63,98.14 L434.12,100.14 L434.82,102.12 L435.41,104.11 L436.34,105.85 L436.91,107.71 L437.62,109.43 L438.28,110.97 L438.92,112.39 L439.75,113.58 L440.32,114.7 L440.97,115.55 L441.66,116.38 L442.42,117.08 L443.21,117.64 L443.6,118.49 L444.41,118.67 L444.94,118.98 L445.46,119.3 L446.13,119.55 L446.82,119.65 L447.45,119.91 L448.1,119.98 L448.74,119.94 L449.34,120.06 L449.84,120.3 L450.4,120.25 L450.86,119.57 L451.72,119.52 L452.38,119.05 L453.17,119.06 L453.82,118.7 L454.51,118.47 L455.11,118.02 L455.72,117.62 L456.47,117.48 L457.08,117.07 L457.8,116.71 L458.5,116.25 L458.95,115.42 L459.91,115.16 L460.34,114.25 L461.13,113.77 L462.01,113.38 L462.42,112.45 L463.38,112.1 L463.9,111.26 L464.75,110.73 L465.13,109.71 L466.06,109.21 L466.54,108.26 L467.53,107.76 L467.99,106.75 L468.9,106.09 L469.6,105.19 L470.06,104.07 L470.55,102.91 L471.36,101.83 L471.97,100.54 L472.69,99.24 L473.5,97.91 L474.39,96.49 L474.87,94.81 L475.72,93.16 L476.26,91.25 L477.04,89.37 L477.66,87.41 L478.5,85.48 L478.96,83.38 L479.8,81.4 L480.47,79.35 L481.36,77.37 L481.86,75.24 L482.53,73.16 L483.04,71.03 L483.93,69.05 L484.84,67.14 L485.46,65.16 L486.14,63.2 L486.66,61.12 L487.24,58.98 L487.92,56.77 L488.63,54.5 L489.34,52.13 L490.07,49.66 L490.72,46.98 L491.86,44.23 L492.34,41.3 L492.99,38.55 L493.64,35.65 L494.38,32.86 L495.12,30.5 L495.71,28.79 L496.9,27.58 L498.53,26.73 L499.85,27.17 L500.38,28.41 L501.22,29.59 L502.36,32.33 L503.11,36.31 L503.35,40.38 L504.05,44.4 L505.15,48.58 L505.78,52.81 L506.4,57.16 L507.13,61.94 L507.92,67.25 L508.65,74.06 L508.95,81.83 L509.68,89.15 L510.74,95.96 L511.53,102.23 L512.15,107.74 L512.64,111.81 L513.29,115.15 L513.98,117.78 L514.51,119.99 L515.56,121.8 L516,123.55 L516.8,124.8 L517.39,125.76 L517.98,126.66 L518.77,127.29 L519.34,128.02 L519.92,128.68 L520.76,128.92 L521.2,129.65 L521.83,130.03 L522.52,130.32 L523.25,130.53 L523.99,130.7 L524.58,131.19 L525.24,131.49 L525.98,131.54 L526.59,131.94 L527.29,132.01 L527.92,132.31 L528.65,132.14 L529.24,132.6 L529.92,132.67 L530.62,132.71 L531.31,132.78 L532.03,132.66 L532.72,132.76 L533.41,132.77 L534.09,132.95 L534.77,133.24 L535.48,132.94 L536.15,133.24 L536.84,133.29 L537.53,133.22 L538.22,132.95 L538.9,133.26" fill="none" stroke="#5a5a5a" stroke-width="1.2"/>
<path d="M377.9,135.4 L378.4,135.4 L378.9,135.39 L379.4,135.39 L379.9,135.39 L380.4,135.39 L380.9,135.39 L381.4,135.38 L381.9,135.38 L382.4,135.37 L382.9,135.36 L383.4,135.35 L383.9,135.34 L384.4,135.33 L384.9,135.32 L385.4,135.3 L385.9,135.28 L386.4,135.25 L386.9,135.22 L387.4,135.18 L387.9,135.14 L388.4,135.09 L388.9,135.03 L389.4,134.97 L389.9,134.89 L390.4,134.8 L390.9,134.7 L391.4,134.59 L391.9,134.46 L392.4,134.32 L392.9,134.16 L393.4,133.97 L393.9,133.77 L394.4,133.55 L394.9,133.31 L395.4,133.04 L395.9,132.75 L396.4,132.44 L396.9,132.1 L397.4,131.74 L397.9,131.35 L398.4,130.94 L398.9,130.51 L399.4,130.05 L399.9,129.58 L400.4,129.09 L400.9,128.59 L401.4,128.07 L401.9,127.54 L402.4,127.01 L402.9,126.48 L403.4,125.96 L403.9,125.44 L404.4,124.93 L404.9,124.44 L405.4,123.97 L405.9,123.53 L406.4,123.12 L406.9,122.75 L407.4,122.41 L407.9,122.12 L408.4,121.87 L408.9,121.67 L409.4,121.53 L409.9,121.44 L410.4,121.4 L410.9,121.42 L411.4,121.53 L411.9,121.71 L412.4,121.98 L412.9,122.31 L413.4,122.72 L413.9,123.18 L414.4,123.69 L414.9,124.25 L415.4,124.85 L415.9,125.47 L416.4,126.1 L416.9,126.75 L417.4,127.4 L417.9,128.04 L418.4,128.67 L418.9,129.28 L419.4,129.87 L419.9,130.43 L420.4,130.95 L420.9,131.44 L421.4,131.9 L421.9,132.31 L422.4,132.69 L422.9,133.03 L423.4,133.33 L423.9,133.6 L424.4,133.84 L424.9,134.04 L425.4,134.21 L425.9,134.36 L426.4,134.48 L426.9,134.58 L427.4,134.66 L427.9,134.72 L428.4,134.77 L428.9,134.8 L429.4,134.81 L429.9,134.81 L430.4,134.81 L430.9,134.79 L431.4,134.76 L431.9,134.73 L432.4,134.69 L432.9,134.64 L433.4,134.58 L433.9,134.52 L434.4,134.45 L434.9,134.37 L435.4,134.29 L435.9,134.19 L436.4,134.1 L436.9,133.99 L437.4,133.88 L437.9,133.76 L438.4,133.63 L438.9,133.5 L439.4,133.35 L439.9,133.2 L440.4,133.04 L440.9,132.87 L441.4,132.69 L441.9,132.5 L442.4,132.3 L442.9,132.09 L443.4,131.88 L443.9,131.65 L444.4,131.41 L444.9,131.16 L445.4,130.9 L445.9,130.62 L446.4,130.34 L446.9,130.05 L447.4,129.75 L447.9,129.43 L448.4,129.11 L448.9,128.77 L449.4,128.43 L449.9,128.07 L450.4,127.71 L450.9,127.33 L451.4,126.95 L451.9,126.56 L452.4,126.16 L452.9,125.75 L453.4,125.34 L453.9,124.92 L454.4,124.5 L454.9,124.07 L455.4,123.64 L455.9,123.2 L456.4,122.76 L456.9,122.33 L457.4,121.89 L457.9,121.45 L458.4,121.01 L458.9,120.58 L459.4,120.15 L459.9,119.73 L460.4,119.31 L460.9,118.9 L461.4,118.49 L461.9,118.1 L462.4,117.72 L462.9,117.35 L463.4,116.99 L463.9,116.64 L464.4,116.31 L464.9,116 L465.4,115.7 L465.9,115.42 L466.4,115.16 L466.9,114.92 L467.4,114.7 L467.9,114.5 L468.4,114.32 L468.9,114.16 L469.4,114.02 L469.9,113.91 L470.4,113.82 L470.9,113.76 L471.4,113.72 L471.9,113.7 L472.4,113.71 L472.9,113.74 L473.4,113.79 L473.9,113.86 L474.4,113.96 L474.9,114.08 L475.4,114.22 L475.9,114.38 L476.4,114.56 L476.9,114.76 L477.4,114.98 L477.9,115.22 L478.4,115.47 L478.9,115.75 L479.4,116.04 L479.9,116.34 L480.4,116.66 L480.9,117 L481.4,117.35 L481.9,117.7 L482.4,118.07 L482.9,118.45 L483.4,118.84 L483.9,119.24 L484.4,119.64 L484.9,120.05 L485.4,120.47 L485.9,120.88 L486.4,121.31 L486.9,121.73 L487.4,122.15 L487.9,122.58 L488.4,123 L488.9,123.42 L489.4,123.84 L489.9,124.26 L490.4,124.67 L490.9,125.08 L491.4,125.49 L491.9,125.88 L492.4,126.27 L492.9,126.66 L493.4,127.03 L493.9,127.4 L494.4,127.76 L494.9,128.11 L495.4,128.46 L495.9,128.79 L496.4,129.11 L496.9,129.43 L497.4,129.73 L497.9,130.03 L498.4,130.31 L498.9,130.59 L499.4,130.85 L499.9,131.11 L500.4,131.35 L500.9,131.58 L501.4,131.81 L501.9,132.02 L502.4,132.23 L502.9,132.43 L503.4,132.61 L503.9,132.79 L504.4,132.96 L504.9,133.12 L505.4,133.27 L505.9,133.42 L506.4,133.55 L506.9,133.68 L507.4,133.8 L507.9,133.92 L508.4,134.02 L508.9,134.12 L509.4,134.22 L509.9,134.31 L510.4,134.39 L510.9,134.47 L511.4,134.54 L511.9,134.61 L512.4,134.67 L512.9,134.73 L513.4,134.79 L513.9,134.84 L514.4,134.89 L514.9,134.93 L515.4,134.97 L515.9,135.01 L516.4,135.04 L516.9,135.07 L517.4,135.1 L517.9,135.13 L518.4,135.15 L518.9,135.18 L519.4,135.2 L519.9,135.22 L520.4,135.23 L520.9,135.25 L521.4,135.26 L521.9,135.28 L522.4,135.29 L522.9,135.3 L523.4,135.31 L523.9,135.32 L524.4,135.33 L524.9,135.34 L525.4,135.34 L525.9,135.35 L526.4,135.35 L526.9,135.36 L527.4,135.36 L527.9,135.37 L528.4,135.37 L528.9,135.37 L529.4,135.38 L529.9,135.38 L530.4,135.38 L530.9,135.38 L531.4,135.39 L531.9,135.39 L532.4,135.39 L532.9,135.39 L533.4,135.39 L533.9,135.39 L534.4,135.39 L534.9,135.39 L535.4,135.39 L535.9,135.4 L536.4,135.4 L536.9,135.4 L537.4,135.4 L537.9,135.4 L538.4,135.4 L538.9,135.4" fill="none" stroke="#cc6a18" stroke-width="1.7" stroke-linejoin="round"/>
<path d="M377.9,135.4 L378.4,135.4 L378.9,135.4 L379.4,135.4 L379.9,135.4 L380.4,135.4 L380.9,135.4 L381.4,135.4 L381.9,135.4 L382.4,135.4 L382.9,135.4 L383.4,135.4 L383.9,135.4 L384.4,135.4 L384.9,135.4 L385.4,135.4 L385.9,135.4 L386.4,135.4 L386.9,135.4 L387.4,135.4 L387.9,135.4 L388.4,135.4 L388.9,135.4 L389.4,135.4 L389.9,135.4 L390.4,135.4 L390.9,135.4 L391.4,135.4 L391.9,135.4 L392.4,135.4 L392.9,135.39 L393.4,135.39 L393.9,135.39 L394.4,135.39 L394.9,135.38 L395.4,135.37 L395.9,135.37 L396.4,135.36 L396.9,135.35 L397.4,135.33 L397.9,135.31 L398.4,135.29 L398.9,135.26 L399.4,135.23 L399.9,135.19 L400.4,135.13 L400.9,135.07 L401.4,135 L401.9,134.91 L402.4,134.81 L402.9,134.69 L403.4,134.54 L403.9,134.38 L404.4,134.19 L404.9,133.97 L405.4,133.71 L405.9,133.43 L406.4,133.11 L406.9,132.74 L407.4,132.34 L407.9,131.89 L408.4,131.4 L408.9,130.87 L409.4,130.28 L409.9,129.65 L410.4,128.98 L410.9,128.27 L411.4,127.51 L411.9,126.72 L412.4,125.9 L412.9,125.06 L413.4,124.2 L413.9,123.32 L414.4,122.45 L414.9,121.58 L415.4,120.73 L415.9,119.91 L416.4,119.12 L416.9,118.38 L417.4,117.7 L417.9,117.09 L418.4,116.55 L418.9,116.09 L419.4,115.72 L419.9,115.45 L420.4,115.27 L420.9,115.2 L421.4,115.24 L421.9,115.43 L422.4,115.74 L422.9,116.19 L423.4,116.75 L423.9,117.43 L424.4,118.2 L424.9,119.05 L425.4,119.96 L425.9,120.93 L426.4,121.93 L426.9,122.94 L427.4,123.96 L427.9,124.97 L428.4,125.96 L428.9,126.91 L429.4,127.82 L429.9,128.68 L430.4,129.48 L430.9,130.22 L431.4,130.9 L431.9,131.52 L432.4,132.08 L432.9,132.57 L433.4,133.01 L433.9,133.4 L434.4,133.73 L434.9,134.02 L435.4,134.27 L435.9,134.47 L436.4,134.65 L436.9,134.8 L437.4,134.92 L437.9,135.02 L438.4,135.1 L438.9,135.16 L439.4,135.22 L439.9,135.26 L440.4,135.29 L440.9,135.32 L441.4,135.34 L441.9,135.35 L442.4,135.37 L442.9,135.37 L443.4,135.38 L443.9,135.39 L444.4,135.39 L444.9,135.39 L445.4,135.39 L445.9,135.4 L446.4,135.4 L446.9,135.4 L447.4,135.4 L447.9,135.4 L448.4,135.4 L448.9,135.4 L449.4,135.4 L449.9,135.4 L450.4,135.4 L450.9,135.4 L451.4,135.4 L451.9,135.4 L452.4,135.4 L452.9,135.4 L453.4,135.4 L453.9,135.4 L454.4,135.4 L454.9,135.4 L455.4,135.4 L455.9,135.4 L456.4,135.4 L456.9,135.4 L457.4,135.4 L457.9,135.4 L458.4,135.4 L458.9,135.4 L459.4,135.39 L459.9,135.39 L460.4,135.39 L460.9,135.39 L461.4,135.38 L461.9,135.38 L462.4,135.37 L462.9,135.36 L463.4,135.34 L463.9,135.32 L464.4,135.3 L464.9,135.27 L465.4,135.23 L465.9,135.18 L466.4,135.12 L466.9,135.04 L467.4,134.94 L467.9,134.82 L468.4,134.68 L468.9,134.5 L469.4,134.29 L469.9,134.03 L470.4,133.73 L470.9,133.37 L471.4,132.96 L471.9,132.47 L472.4,131.91 L472.9,131.27 L473.4,130.54 L473.9,129.71 L474.4,128.79 L474.9,127.76 L475.4,126.62 L475.9,125.38 L476.4,124.03 L476.9,122.58 L477.4,121.03 L477.9,119.39 L478.4,117.67 L478.9,115.88 L479.4,114.05 L479.9,112.19 L480.4,110.32 L480.9,108.46 L481.4,106.65 L481.9,104.89 L482.4,103.23 L482.9,101.68 L483.4,100.27 L483.9,99.03 L484.4,97.97 L484.9,97.12 L485.4,96.48 L485.9,96.07 L486.4,95.9 L486.9,95.98 L487.4,96.29 L487.9,96.83 L488.4,97.6 L488.9,98.58 L489.4,99.75 L489.9,101.1 L490.4,102.59 L490.9,104.21 L491.4,105.93 L491.9,107.73 L492.4,109.57 L492.9,111.44 L493.4,113.31 L493.9,115.16 L494.4,116.96 L494.9,118.71 L495.4,120.38 L495.9,121.97 L496.4,123.46 L496.9,124.85 L497.4,126.14 L497.9,127.32 L498.4,128.39 L498.9,129.35 L499.4,130.22 L499.9,130.99 L500.4,131.66 L500.9,132.26 L501.4,132.77 L501.9,133.22 L502.4,133.6 L502.9,133.92 L503.4,134.19 L503.9,134.42 L504.4,134.61 L504.9,134.77 L505.4,134.9 L505.9,135 L506.4,135.09 L506.9,135.15 L507.4,135.21 L507.9,135.25 L508.4,135.29 L508.9,135.31 L509.4,135.33 L509.9,135.35 L510.4,135.36 L510.9,135.37 L511.4,135.38 L511.9,135.38 L512.4,135.39 L512.9,135.39 L513.4,135.39 L513.9,135.4 L514.4,135.4 L514.9,135.4 L515.4,135.4 L515.9,135.4 L516.4,135.4 L516.9,135.4 L517.4,135.4 L517.9,135.4 L518.4,135.4 L518.9,135.4 L519.4,135.4 L519.9,135.4 L520.4,135.4 L520.9,135.4 L521.4,135.4 L521.9,135.4 L522.4,135.4 L522.9,135.4 L523.4,135.4 L523.9,135.4 L524.4,135.4 L524.9,135.4 L525.4,135.4 L525.9,135.4 L526.4,135.4 L526.9,135.4 L527.4,135.4 L527.9,135.4 L528.4,135.4 L528.9,135.4 L529.4,135.4 L529.9,135.4 L530.4,135.4 L530.9,135.4 L531.4,135.4 L531.9,135.4 L532.4,135.4 L532.9,135.4 L533.4,135.4 L533.9,135.4 L534.4,135.4 L534.9,135.4 L535.4,135.4 L535.9,135.4 L536.4,135.4 L536.9,135.4 L537.4,135.4 L537.9,135.4 L538.4,135.4 L538.9,135.4" fill="none" stroke="#1414f0" stroke-width="1.7" stroke-linejoin="round"/>
<path d="M377.9,135.4 L378.4,135.4 L378.9,135.4 L379.4,135.4 L379.9,135.4 L380.4,135.4 L380.9,135.4 L381.4,135.4 L381.9,135.4 L382.4,135.4 L382.9,135.4 L383.4,135.4 L383.9,135.4 L384.4,135.4 L384.9,135.4 L385.4,135.4 L385.9,135.39 L386.4,135.39 L386.9,135.39 L387.4,135.39 L387.9,135.39 L388.4,135.39 L388.9,135.38 L389.4,135.38 L389.9,135.38 L390.4,135.37 L390.9,135.36 L391.4,135.36 L391.9,135.35 L392.4,135.34 L392.9,135.33 L393.4,135.32 L393.9,135.3 L394.4,135.28 L394.9,135.26 L395.4,135.24 L395.9,135.21 L396.4,135.18 L396.9,135.15 L397.4,135.1 L397.9,135.06 L398.4,135 L398.9,134.94 L399.4,134.88 L399.9,134.8 L400.4,134.71 L400.9,134.61 L401.4,134.5 L401.9,134.38 L402.4,134.24 L402.9,134.09 L403.4,133.92 L403.9,133.73 L404.4,133.53 L404.9,133.3 L405.4,133.05 L405.9,132.78 L406.4,132.48 L406.9,132.16 L407.4,131.81 L407.9,131.43 L408.4,131.03 L408.9,130.59 L409.4,130.12 L409.9,129.62 L410.4,129.08 L410.9,128.52 L411.4,127.91 L411.9,127.28 L412.4,126.61 L412.9,125.91 L413.4,125.18 L413.9,124.42 L414.4,123.63 L414.9,122.81 L415.4,121.97 L415.9,121.11 L416.4,120.22 L416.9,119.32 L417.4,118.4 L417.9,117.48 L418.4,116.55 L418.9,115.61 L419.4,114.68 L419.9,113.76 L420.4,112.85 L420.9,111.95 L421.4,111.08 L421.9,110.24 L422.4,109.42 L422.9,108.65 L423.4,107.91 L423.9,107.22 L424.4,106.59 L424.9,106 L425.4,105.48 L425.9,105.02 L426.4,104.62 L426.9,104.29 L427.4,104.03 L427.9,103.85 L428.4,103.74 L428.9,103.7 L429.4,103.75 L429.9,103.91 L430.4,104.17 L430.9,104.53 L431.4,104.98 L431.9,105.53 L432.4,106.16 L432.9,106.88 L433.4,107.67 L433.9,108.53 L434.4,109.44 L434.9,110.41 L435.4,111.42 L435.9,112.47 L436.4,113.54 L436.9,114.63 L437.4,115.73 L437.9,116.84 L438.4,117.94 L438.9,119.03 L439.4,120.1 L439.9,121.15 L440.4,122.17 L440.9,123.16 L441.4,124.11 L441.9,125.02 L442.4,125.89 L442.9,126.72 L443.4,127.5 L443.9,128.23 L444.4,128.92 L444.9,129.56 L445.4,130.15 L445.9,130.7 L446.4,131.21 L446.9,131.67 L447.4,132.09 L447.9,132.48 L448.4,132.83 L448.9,133.14 L449.4,133.43 L449.9,133.68 L450.4,133.9 L450.9,134.1 L451.4,134.28 L451.9,134.44 L452.4,134.57 L452.9,134.69 L453.4,134.8 L453.9,134.89 L454.4,134.97 L454.9,135.04 L455.4,135.09 L455.9,135.14 L456.4,135.19 L456.9,135.22 L457.4,135.25 L457.9,135.28 L458.4,135.3 L458.9,135.32 L459.4,135.33 L459.9,135.34 L460.4,135.35 L460.9,135.36 L461.4,135.37 L461.9,135.38 L462.4,135.38 L462.9,135.38 L463.4,135.39 L463.9,135.39 L464.4,135.39 L464.9,135.39 L465.4,135.39 L465.9,135.4 L466.4,135.4 L466.9,135.4 L467.4,135.4 L467.9,135.4 L468.4,135.4 L468.9,135.4 L469.4,135.4 L469.9,135.39 L470.4,135.39 L470.9,135.39 L471.4,135.38 L471.9,135.38 L472.4,135.37 L472.9,135.36 L473.4,135.35 L473.9,135.34 L474.4,135.31 L474.9,135.29 L475.4,135.25 L475.9,135.21 L476.4,135.16 L476.9,135.09 L477.4,135 L477.9,134.89 L478.4,134.76 L478.9,134.59 L479.4,134.39 L479.9,134.14 L480.4,133.85 L480.9,133.49 L481.4,133.06 L481.9,132.55 L482.4,131.95 L482.9,131.25 L483.4,130.43 L483.9,129.49 L484.4,128.4 L484.9,127.15 L485.4,125.73 L485.9,124.14 L486.4,122.34 L486.9,120.35 L487.4,118.14 L487.9,115.72 L488.4,113.08 L488.9,110.22 L489.4,107.14 L489.9,103.87 L490.4,100.4 L490.9,96.76 L491.4,92.97 L491.9,89.06 L492.4,85.06 L492.9,81.02 L493.4,76.96 L493.9,72.94 L494.4,69.01 L494.9,65.21 L495.4,61.59 L495.9,58.2 L496.4,55.09 L496.9,52.31 L497.4,49.89 L497.9,47.88 L498.4,46.31 L498.9,45.19 L499.4,44.56 L499.9,44.41 L500.4,44.81 L500.9,45.78 L501.4,47.29 L501.9,49.32 L502.4,51.83 L502.9,54.78 L503.4,58.11 L503.9,61.77 L504.4,65.69 L504.9,69.82 L505.4,74.1 L505.9,78.45 L506.4,82.83 L506.9,87.18 L507.4,91.44 L507.9,95.58 L508.4,99.56 L508.9,103.34 L509.4,106.9 L509.9,110.23 L510.4,113.3 L510.9,116.13 L511.4,118.69 L511.9,121.01 L512.4,123.08 L512.9,124.93 L513.4,126.55 L513.9,127.96 L514.4,129.19 L514.9,130.25 L515.4,131.16 L515.9,131.93 L516.4,132.57 L516.9,133.11 L517.4,133.56 L517.9,133.93 L518.4,134.24 L518.9,134.48 L519.4,134.68 L519.9,134.84 L520.4,134.97 L520.9,135.07 L521.4,135.15 L521.9,135.21 L522.4,135.25 L522.9,135.29 L523.4,135.32 L523.9,135.34 L524.4,135.36 L524.9,135.37 L525.4,135.38 L525.9,135.38 L526.4,135.39 L526.9,135.39 L527.4,135.39 L527.9,135.4 L528.4,135.4 L528.9,135.4 L529.4,135.4 L529.9,135.4 L530.4,135.4 L530.9,135.4 L531.4,135.4 L531.9,135.4 L532.4,135.4 L532.9,135.4 L533.4,135.4 L533.9,135.4 L534.4,135.4 L534.9,135.4 L535.4,135.4 L535.9,135.4 L536.4,135.4 L536.9,135.4 L537.4,135.4 L537.9,135.4 L538.4,135.4 L538.9,135.4" fill="none" stroke="#1f9fd6" stroke-width="1.7" stroke-linejoin="round"/>
<line x1="377.9" y1="135.4" x2="539" y2="135.4" stroke="#1a94c8" stroke-width="2.0"/>
<path d="M377.9,134.5 L378.4,134.47 L378.9,134.43 L379.4,134.39 L379.9,134.34 L380.4,134.29 L380.9,134.23 L381.4,134.17 L381.9,134.1 L382.4,134.03 L382.9,133.95 L383.4,133.87 L383.9,133.79 L384.4,133.7 L384.9,133.61 L385.4,133.52 L385.9,133.43 L386.4,133.33 L386.9,133.24 L387.4,133.14 L387.9,133.04 L388.4,132.93 L388.9,132.81 L389.4,132.69 L389.9,132.56 L390.4,132.42 L390.9,132.28 L391.4,132.12 L391.9,131.96 L392.4,131.79 L392.9,131.61 L393.4,131.42 L393.9,131.22 L394.4,131.01 L394.9,130.78 L395.4,130.51 L395.9,130.22 L396.4,129.9 L396.9,129.56 L397.4,129.2 L397.9,128.82 L398.4,128.41 L398.9,127.99 L399.4,127.54 L399.9,127.05 L400.4,126.51 L400.9,125.94 L401.4,125.32 L401.9,124.66 L402.4,123.97 L402.9,123.24 L403.4,122.48 L403.9,121.67 L404.4,120.74 L404.9,119.7 L405.4,118.59 L405.9,117.43 L406.4,116.26 L406.9,115.1 L407.4,113.98 L407.9,112.9 L408.4,111.83 L408.9,110.76 L409.4,109.68 L409.9,108.57 L410.4,107.41 L410.9,106.2 L411.4,104.9 L411.9,103.52 L412.4,102.09 L412.9,100.63 L413.4,99.19 L413.9,97.8 L414.4,96.38 L414.9,94.89 L415.4,93.42 L415.9,92.04 L416.4,90.84 L416.9,89.9 L417.4,89.12 L417.9,88.36 L418.4,87.62 L418.9,86.91 L419.4,86.25 L419.9,85.64 L420.4,85.1 L420.9,84.64 L421.4,84.27 L421.9,84 L422.4,83.84 L422.9,83.8 L423.4,83.89 L423.9,84.1 L424.4,84.41 L424.9,84.82 L425.4,85.31 L425.9,85.87 L426.4,86.48 L426.9,87.15 L427.4,87.85 L427.9,88.58 L428.4,89.31 L428.9,90.05 L429.4,90.93 L429.9,91.98 L430.4,93.16 L430.9,94.42 L431.4,95.73 L431.9,97.03 L432.4,98.31 L432.9,99.64 L433.4,101.03 L433.9,102.45 L434.4,103.85 L434.9,105.21 L435.4,106.52 L435.9,107.81 L436.4,109.08 L436.9,110.28 L437.4,111.39 L437.9,112.41 L438.4,113.38 L438.9,114.29 L439.4,115.11 L439.9,115.8 L440.4,116.42 L440.9,117.02 L441.4,117.6 L441.9,118.15 L442.4,118.66 L442.9,119.12 L443.4,119.52 L443.9,119.87 L444.4,120.14 L444.9,120.33 L445.4,120.5 L445.9,120.65 L446.4,120.8 L446.9,120.93 L447.4,121.05 L447.9,121.14 L448.4,121.22 L448.9,121.27 L449.4,121.3 L449.9,121.28 L450.4,121.17 L450.9,120.99 L451.4,120.78 L451.9,120.56 L452.4,120.36 L452.9,120.18 L453.4,120 L453.9,119.82 L454.4,119.63 L454.9,119.43 L455.4,119.22 L455.9,119 L456.4,118.76 L456.9,118.5 L457.4,118.21 L457.9,117.89 L458.4,117.54 L458.9,117.16 L459.4,116.77 L459.9,116.36 L460.4,115.94 L460.9,115.51 L461.4,115.08 L461.9,114.66 L462.4,114.22 L462.9,113.77 L463.4,113.31 L463.9,112.84 L464.4,112.36 L464.9,111.87 L465.4,111.36 L465.9,110.85 L466.4,110.32 L466.9,109.78 L467.4,109.24 L467.9,108.68 L468.4,108.1 L468.9,107.5 L469.4,106.89 L469.9,106.24 L470.4,105.57 L470.9,104.85 L471.4,104.09 L471.9,103.28 L472.4,102.41 L472.9,101.51 L473.4,100.58 L473.9,99.61 L474.4,98.59 L474.9,97.52 L475.4,96.4 L475.9,95.24 L476.4,94.01 L476.9,92.71 L477.4,91.37 L477.9,90 L478.4,88.62 L478.9,87.22 L479.4,85.79 L479.9,84.35 L480.4,82.9 L480.9,81.45 L481.4,80 L481.9,78.54 L482.4,77.07 L482.9,75.59 L483.4,74.11 L483.9,72.63 L484.4,71.17 L484.9,69.71 L485.4,68.29 L485.9,66.89 L486.4,65.5 L486.9,64.1 L487.4,62.68 L487.9,61.21 L488.4,59.69 L488.9,58.13 L489.4,56.52 L489.9,54.88 L490.4,53.19 L490.9,51.44 L491.4,49.63 L491.9,47.7 L492.4,45.67 L492.9,43.6 L493.4,41.56 L493.9,39.61 L494.4,37.59 L494.9,35.52 L495.4,33.54 L495.9,31.79 L496.4,30.42 L496.9,29.36 L497.4,28.42 L497.9,27.86 L498.4,27.85 L498.9,28.12 L499.4,28.59 L499.9,29.21 L500.4,29.98 L500.9,31.64 L501.4,34.18 L501.9,37.13 L502.4,40 L502.9,42.79 L503.4,45.75 L503.9,48.78 L504.4,51.81 L504.9,54.83 L505.4,57.98 L505.9,61.39 L506.4,65.02 L506.9,69.1 L507.4,74.17 L507.9,79.8 L508.4,85.08 L508.9,90.26 L509.4,95.16 L509.9,99.71 L510.4,104.09 L510.9,107.92 L511.4,110.93 L511.9,113.53 L512.4,115.8 L512.9,117.73 L513.4,119.35 L513.9,120.85 L514.4,122.24 L514.9,123.49 L515.4,124.59 L515.9,125.54 L516.4,126.3 L516.9,126.95 L517.4,127.55 L517.9,128.1 L518.4,128.61 L518.9,129.08 L519.4,129.51 L519.9,129.9 L520.4,130.25 L520.9,130.56 L521.4,130.85 L521.9,131.1 L522.4,131.34 L522.9,131.57 L523.4,131.79 L523.9,132.01 L524.4,132.21 L524.9,132.4 L525.4,132.58 L525.9,132.75 L526.4,132.91 L526.9,133.05 L527.4,133.19 L527.9,133.3 L528.4,133.41 L528.9,133.5 L529.4,133.57 L529.9,133.64 L530.4,133.7 L530.9,133.75 L531.4,133.81 L531.9,133.87 L532.4,133.92 L532.9,133.97 L533.4,134.01 L533.9,134.06 L534.4,134.1 L534.9,134.14 L535.4,134.17 L535.9,134.2 L536.4,134.23 L536.9,134.25 L537.4,134.27 L537.9,134.29 L538.4,134.3 L538.9,134.3" fill="none" stroke="#1cc4d0" stroke-width="2.1" stroke-linejoin="round" stroke-linecap="round"/>
<path d="M392.9,265.9 L392.9,265.81 L393.4,265.8 L393.9,265.77 L394.4,265.75 L394.9,265.71 L395.4,265.67 L395.9,265.63 L396.4,265.57 L396.9,265.51 L397.4,265.44 L397.9,265.35 L398.4,265.25 L398.9,265.13 L399.4,265 L399.9,264.84 L400.4,264.67 L400.9,264.47 L401.4,264.24 L401.9,263.98 L402.4,263.7 L402.9,263.37 L403.4,263.01 L403.9,262.61 L404.4,262.17 L404.9,261.68 L405.4,261.15 L405.9,260.57 L406.4,259.93 L406.9,259.24 L407.4,258.5 L407.9,257.71 L408.4,256.86 L408.9,255.96 L409.4,255 L409.9,254 L410.4,252.94 L410.9,251.85 L411.4,250.71 L411.9,249.53 L412.4,248.33 L412.9,247.1 L413.4,245.86 L413.9,244.61 L414.4,243.36 L414.9,242.12 L415.4,240.89 L415.9,239.7 L416.4,238.54 L416.9,237.43 L417.4,236.38 L417.9,235.39 L418.4,234.48 L418.9,233.65 L419.4,232.92 L419.9,232.29 L420.4,231.76 L420.9,231.34 L421.4,231.04 L421.9,230.86 L422.4,230.8 L422.9,230.87 L423.4,231.07 L423.9,231.41 L424.4,231.88 L424.9,232.47 L425.4,233.18 L425.9,234 L426.4,234.92 L426.9,235.94 L427.4,237.03 L427.9,238.19 L428.4,239.41 L428.9,240.67 L429.4,241.96 L429.9,243.28 L430.4,244.61 L430.9,245.94 L431.4,247.26 L431.9,248.56 L432.4,249.83 L432.9,251.07 L433.4,252.26 L433.9,253.41 L434.4,254.5 L434.9,255.54 L435.4,256.53 L435.9,257.45 L436.4,258.31 L436.9,259.11 L437.4,259.85 L437.9,260.53 L438.4,261.15 L438.9,261.72 L439.4,262.23 L439.9,262.69 L440.4,263.11 L440.9,263.48 L441.4,263.81 L441.9,264.1 L442.4,264.36 L442.9,264.58 L443.4,264.78 L443.9,264.95 L444.4,265.1 L444.9,265.23 L445.4,265.34 L445.9,265.43 L446.4,265.51 L446.9,265.58 L447.4,265.63 L447.9,265.68 L448.4,265.72 L448.9,265.75 L449.4,265.78 L449.9,265.8 L449.9,265.9Z" fill="#cde8f2"/>
<path d="M474.4,265.9 L474.4,265.8 L474.9,265.77 L475.4,265.73 L475.9,265.67 L476.4,265.61 L476.9,265.52 L477.4,265.42 L477.9,265.29 L478.4,265.12 L478.9,264.93 L479.4,264.69 L479.9,264.39 L480.4,264.04 L480.9,263.62 L481.4,263.13 L481.9,262.54 L482.4,261.86 L482.9,261.07 L483.4,260.16 L483.9,259.12 L484.4,257.94 L484.9,256.61 L485.4,255.12 L485.9,253.48 L486.4,251.67 L486.9,249.69 L487.4,247.55 L487.9,245.26 L488.4,242.82 L488.9,240.25 L489.4,237.56 L489.9,234.79 L490.4,231.95 L490.9,229.08 L491.4,226.21 L491.9,223.38 L492.4,220.62 L492.9,217.98 L493.4,215.49 L493.9,213.19 L494.4,211.12 L494.9,209.32 L495.4,207.82 L495.9,206.64 L496.4,205.8 L496.9,205.32 L497.4,205.21 L497.9,205.5 L498.4,206.21 L498.9,207.32 L499.4,208.81 L499.9,210.64 L500.4,212.78 L500.9,215.2 L501.4,217.84 L501.9,220.66 L502.4,223.6 L502.9,226.63 L503.4,229.7 L503.9,232.75 L504.4,235.76 L504.9,238.69 L505.4,241.5 L505.9,244.17 L506.4,246.68 L506.9,249.02 L507.4,251.18 L507.9,253.15 L508.4,254.94 L508.9,256.53 L509.4,257.96 L509.9,259.21 L510.4,260.3 L510.9,261.25 L511.4,262.06 L511.9,262.76 L512.4,263.34 L512.9,263.83 L513.4,264.24 L513.9,264.58 L514.4,264.85 L514.9,265.08 L515.4,265.26 L515.9,265.4 L516.4,265.52 L516.9,265.61 L517.4,265.68 L517.9,265.73 L518.4,265.77 L518.9,265.81 L518.9,265.9Z" fill="#cde8f2"/>
<path d="M393.9,265.9 L393.9,265.82 L394.4,265.79 L394.9,265.76 L395.4,265.73 L395.9,265.68 L396.4,265.62 L396.9,265.55 L397.4,265.46 L397.9,265.36 L398.4,265.23 L398.9,265.08 L399.4,264.91 L399.9,264.7 L400.4,264.46 L400.9,264.18 L401.4,263.86 L401.9,263.49 L402.4,263.07 L402.9,262.6 L403.4,262.08 L403.9,261.5 L404.4,260.87 L404.9,260.18 L405.4,259.43 L405.9,258.63 L406.4,257.78 L406.9,256.89 L407.4,255.95 L407.9,254.99 L408.4,254.01 L408.9,253.03 L409.4,252.04 L409.9,251.07 L410.4,250.12 L410.9,249.22 L411.4,248.38 L411.9,247.6 L412.4,246.91 L412.9,246.31 L413.4,245.81 L413.9,245.43 L414.4,245.16 L414.9,245.02 L415.4,245.01 L415.9,245.14 L416.4,245.41 L416.9,245.82 L417.4,246.36 L417.9,247.01 L418.4,247.77 L418.9,248.62 L419.4,249.54 L419.9,250.52 L420.4,251.54 L420.9,252.59 L421.4,253.65 L421.9,254.7 L422.4,255.73 L422.9,256.73 L423.4,257.69 L423.9,258.6 L424.4,259.45 L424.9,260.24 L425.4,260.97 L425.9,261.64 L426.4,262.24 L426.9,262.78 L427.4,263.26 L427.9,263.68 L428.4,264.04 L428.9,264.36 L429.4,264.63 L429.9,264.86 L430.4,265.06 L430.9,265.22 L431.4,265.35 L431.9,265.47 L432.4,265.56 L432.9,265.63 L433.4,265.69 L433.9,265.74 L434.4,265.78 L434.9,265.8 L434.9,265.9Z" fill="#bcc0f8"/>
<path d="M460.4,265.9 L460.4,265.81 L460.9,265.78 L461.4,265.75 L461.9,265.72 L462.4,265.67 L462.9,265.62 L463.4,265.56 L463.9,265.48 L464.4,265.39 L464.9,265.28 L465.4,265.15 L465.9,265 L466.4,264.82 L466.9,264.61 L467.4,264.36 L467.9,264.08 L468.4,263.75 L468.9,263.38 L469.4,262.95 L469.9,262.47 L470.4,261.92 L470.9,261.3 L471.4,260.61 L471.9,259.84 L472.4,258.99 L472.9,258.04 L473.4,257.01 L473.9,255.88 L474.4,254.65 L474.9,253.33 L475.4,251.9 L475.9,250.38 L476.4,248.77 L476.9,247.06 L477.4,245.27 L477.9,243.4 L478.4,241.47 L478.9,239.47 L479.4,237.43 L479.9,235.36 L480.4,233.27 L480.9,231.18 L481.4,229.11 L481.9,227.07 L482.4,225.09 L482.9,223.19 L483.4,221.38 L483.9,219.68 L484.4,218.12 L484.9,216.71 L485.4,215.46 L485.9,214.39 L486.4,213.51 L486.9,212.84 L487.4,212.38 L487.9,212.14 L488.4,212.11 L488.9,212.28 L489.4,212.63 L489.9,213.17 L490.4,213.87 L490.9,214.75 L491.4,215.78 L491.9,216.96 L492.4,218.28 L492.9,219.73 L493.4,221.28 L493.9,222.93 L494.4,224.67 L494.9,226.47 L495.4,228.32 L495.9,230.21 L496.4,232.12 L496.9,234.04 L497.4,235.95 L497.9,237.85 L498.4,239.71 L498.9,241.54 L499.4,243.32 L499.9,245.04 L500.4,246.69 L500.9,248.28 L501.4,249.79 L501.9,251.22 L502.4,252.57 L502.9,253.84 L503.4,255.03 L503.9,256.13 L504.4,257.15 L504.9,258.09 L505.4,258.96 L505.9,259.75 L506.4,260.46 L506.9,261.12 L507.4,261.7 L507.9,262.23 L508.4,262.71 L508.9,263.13 L509.4,263.5 L509.9,263.83 L510.4,264.12 L510.9,264.38 L511.4,264.6 L511.9,264.8 L512.4,264.97 L512.9,265.11 L513.4,265.24 L513.9,265.34 L514.4,265.43 L514.9,265.51 L515.4,265.58 L515.9,265.63 L516.4,265.68 L516.9,265.72 L517.4,265.75 L517.9,265.78 L518.4,265.8 L518.4,265.9Z" fill="#bcc0f8"/>
<path d="M384.4,265.9 L384.4,265.81 L384.9,265.79 L385.4,265.76 L385.9,265.73 L386.4,265.7 L386.9,265.65 L387.4,265.6 L387.9,265.54 L388.4,265.47 L388.9,265.39 L389.4,265.29 L389.9,265.18 L390.4,265.05 L390.9,264.91 L391.4,264.75 L391.9,264.57 L392.4,264.37 L392.9,264.15 L393.4,263.91 L393.9,263.64 L394.4,263.35 L394.9,263.04 L395.4,262.71 L395.9,262.36 L396.4,261.99 L396.9,261.6 L397.4,261.2 L397.9,260.79 L398.4,260.37 L398.9,259.94 L399.4,259.52 L399.9,259.1 L400.4,258.69 L400.9,258.29 L401.4,257.91 L401.9,257.55 L402.4,257.23 L402.9,256.93 L403.4,256.67 L403.9,256.46 L404.4,256.29 L404.9,256.16 L405.4,256.08 L405.9,256.05 L406.4,256.06 L406.9,256.11 L407.4,256.19 L407.9,256.3 L408.4,256.44 L408.9,256.61 L409.4,256.8 L409.9,257.03 L410.4,257.27 L410.9,257.54 L411.4,257.82 L411.9,258.12 L412.4,258.43 L412.9,258.75 L413.4,259.07 L413.9,259.4 L414.4,259.74 L414.9,260.07 L415.4,260.39 L415.9,260.71 L416.4,261.03 L416.9,261.33 L417.4,261.62 L417.9,261.9 L418.4,262.16 L418.9,262.41 L419.4,262.64 L419.9,262.86 L420.4,263.05 L420.9,263.23 L421.4,263.4 L421.9,263.54 L422.4,263.67 L422.9,263.78 L423.4,263.87 L423.9,263.94 L424.4,264 L424.9,264.04 L425.4,264.07 L425.9,264.08 L426.4,264.08 L426.9,264.07 L427.4,264.04 L427.9,264 L428.4,263.95 L428.9,263.89 L429.4,263.81 L429.9,263.73 L430.4,263.63 L430.9,263.53 L431.4,263.41 L431.9,263.29 L432.4,263.15 L432.9,263.01 L433.4,262.86 L433.9,262.7 L434.4,262.53 L434.9,262.35 L435.4,262.17 L435.9,261.97 L436.4,261.77 L436.9,261.56 L437.4,261.33 L437.9,261.1 L438.4,260.87 L438.9,260.62 L439.4,260.36 L439.9,260.1 L440.4,259.82 L440.9,259.54 L441.4,259.25 L441.9,258.95 L442.4,258.64 L442.9,258.33 L443.4,258 L443.9,257.67 L444.4,257.33 L444.9,256.98 L445.4,256.62 L445.9,256.26 L446.4,255.88 L446.9,255.5 L447.4,255.12 L447.9,254.72 L448.4,254.33 L448.9,253.92 L449.4,253.51 L449.9,253.09 L450.4,252.67 L450.9,252.25 L451.4,251.82 L451.9,251.38 L452.4,250.95 L452.9,250.51 L453.4,250.07 L453.9,249.63 L454.4,249.19 L454.9,248.75 L455.4,248.3 L455.9,247.86 L456.4,247.42 L456.9,246.99 L457.4,246.56 L457.9,246.13 L458.4,245.7 L458.9,245.28 L459.4,244.87 L459.9,244.46 L460.4,244.06 L460.9,243.67 L461.4,243.28 L461.9,242.91 L462.4,242.55 L462.9,242.19 L463.4,241.85 L463.9,241.52 L464.4,241.2 L464.9,240.9 L465.4,240.61 L465.9,240.33 L466.4,240.07 L466.9,239.82 L467.4,239.59 L467.9,239.38 L468.4,239.18 L468.9,239 L469.4,238.84 L469.9,238.69 L470.4,238.57 L470.9,238.46 L471.4,238.37 L471.9,238.3 L472.4,238.25 L472.9,238.21 L473.4,238.2 L473.9,238.21 L474.4,238.24 L474.9,238.29 L475.4,238.37 L475.9,238.47 L476.4,238.6 L476.9,238.75 L477.4,238.92 L477.9,239.11 L478.4,239.33 L478.9,239.56 L479.4,239.82 L479.9,240.1 L480.4,240.39 L480.9,240.7 L481.4,241.04 L481.9,241.38 L482.4,241.75 L482.9,242.13 L483.4,242.52 L483.9,242.93 L484.4,243.35 L484.9,243.78 L485.4,244.22 L485.9,244.67 L486.4,245.13 L486.9,245.6 L487.4,246.07 L487.9,246.55 L488.4,247.03 L488.9,247.52 L489.4,248.01 L489.9,248.51 L490.4,249 L490.9,249.49 L491.4,249.99 L491.9,250.48 L492.4,250.97 L492.9,251.46 L493.4,251.94 L493.9,252.42 L494.4,252.89 L494.9,253.36 L495.4,253.82 L495.9,254.27 L496.4,254.72 L496.9,255.16 L497.4,255.59 L497.9,256.01 L498.4,256.42 L498.9,256.83 L499.4,257.22 L499.9,257.61 L500.4,257.98 L500.9,258.34 L501.4,258.7 L501.9,259.04 L502.4,259.37 L502.9,259.69 L503.4,260 L503.9,260.3 L504.4,260.59 L504.9,260.87 L505.4,261.14 L505.9,261.39 L506.4,261.64 L506.9,261.88 L507.4,262.11 L507.9,262.32 L508.4,262.53 L508.9,262.73 L509.4,262.92 L509.9,263.1 L510.4,263.27 L510.9,263.44 L511.4,263.59 L511.9,263.74 L512.4,263.88 L512.9,264.01 L513.4,264.14 L513.9,264.26 L514.4,264.37 L514.9,264.47 L515.4,264.57 L515.9,264.66 L516.4,264.75 L516.9,264.84 L517.4,264.91 L517.9,264.99 L518.4,265.05 L518.9,265.12 L519.4,265.18 L519.9,265.23 L520.4,265.28 L520.9,265.33 L521.4,265.38 L521.9,265.42 L522.4,265.46 L522.9,265.49 L523.4,265.53 L523.9,265.56 L524.4,265.59 L524.9,265.61 L525.4,265.64 L525.9,265.66 L526.4,265.68 L526.9,265.7 L527.4,265.72 L527.9,265.73 L528.4,265.75 L528.9,265.76 L529.4,265.78 L529.9,265.79 L530.4,265.8 L530.9,265.81 L531.4,265.82 L531.4,265.9Z" fill="#f5dcc8"/>
<path d="M393.9,265.9 L393.9,265.82 L394.4,265.79 L394.9,265.76 L395.4,265.73 L395.9,265.68 L396.4,265.62 L396.9,265.55 L397.4,265.46 L397.9,265.36 L398.4,265.25 L398.9,265.13 L399.4,265 L399.9,264.84 L400.4,264.67 L400.9,264.47 L401.4,264.24 L401.9,263.98 L402.4,263.7 L402.9,263.37 L403.4,263.01 L403.9,262.61 L404.4,262.17 L404.9,261.68 L405.4,261.15 L405.9,260.57 L406.4,259.93 L406.9,259.24 L407.4,258.5 L407.9,257.71 L408.4,256.86 L408.9,255.96 L409.4,255 L409.9,254 L410.4,252.94 L410.9,251.85 L411.4,250.71 L411.9,249.53 L412.4,248.33 L412.9,247.1 L413.4,245.86 L413.9,245.43 L414.4,245.16 L414.9,245.02 L415.4,245.01 L415.9,245.14 L416.4,245.41 L416.9,245.82 L417.4,246.36 L417.9,247.01 L418.4,247.77 L418.9,248.62 L419.4,249.54 L419.9,250.52 L420.4,251.54 L420.9,252.59 L421.4,253.65 L421.9,254.7 L422.4,255.73 L422.9,256.73 L423.4,257.69 L423.9,258.6 L424.4,259.45 L424.9,260.24 L425.4,260.97 L425.9,261.64 L426.4,262.24 L426.9,262.78 L427.4,263.26 L427.9,263.68 L428.4,264.04 L428.9,264.36 L429.4,264.63 L429.9,264.86 L430.4,265.06 L430.9,265.22 L431.4,265.35 L431.9,265.47 L432.4,265.56 L432.9,265.63 L433.4,265.69 L433.9,265.74 L434.4,265.78 L434.9,265.8 L434.9,265.9Z" fill="#7a8eea"/>
<path d="M474.4,265.9 L474.4,265.8 L474.9,265.77 L475.4,265.73 L475.9,265.67 L476.4,265.61 L476.9,265.52 L477.4,265.42 L477.9,265.29 L478.4,265.12 L478.9,264.93 L479.4,264.69 L479.9,264.39 L480.4,264.04 L480.9,263.62 L481.4,263.13 L481.9,262.54 L482.4,261.86 L482.9,261.07 L483.4,260.16 L483.9,259.12 L484.4,257.94 L484.9,256.61 L485.4,255.12 L485.9,253.48 L486.4,251.67 L486.9,249.69 L487.4,247.55 L487.9,245.26 L488.4,242.82 L488.9,240.25 L489.4,237.56 L489.9,234.79 L490.4,231.95 L490.9,229.08 L491.4,226.21 L491.9,223.38 L492.4,220.62 L492.9,219.73 L493.4,221.28 L493.9,222.93 L494.4,224.67 L494.9,226.47 L495.4,228.32 L495.9,230.21 L496.4,232.12 L496.9,234.04 L497.4,235.95 L497.9,237.85 L498.4,239.71 L498.9,241.54 L499.4,243.32 L499.9,245.04 L500.4,246.69 L500.9,248.28 L501.4,249.79 L501.9,251.22 L502.4,252.57 L502.9,253.84 L503.4,255.03 L503.9,256.13 L504.4,257.15 L504.9,258.09 L505.4,258.96 L505.9,259.75 L506.4,260.46 L506.9,261.12 L507.4,261.7 L507.9,262.23 L508.4,262.71 L508.9,263.13 L509.4,263.5 L509.9,263.83 L510.4,264.12 L510.9,264.38 L511.4,264.6 L511.9,264.8 L512.4,264.97 L512.9,265.11 L513.4,265.24 L513.9,265.34 L514.4,265.43 L514.9,265.51 L515.4,265.58 L515.9,265.63 L516.4,265.68 L516.9,265.72 L517.4,265.75 L517.9,265.78 L518.4,265.8 L518.4,265.9Z" fill="#7a8eea"/>
<path d="M392.9,265.9 L392.9,265.81 L393.4,265.8 L393.9,265.77 L394.4,265.75 L394.9,265.71 L395.4,265.67 L395.9,265.63 L396.4,265.57 L396.9,265.51 L397.4,265.44 L397.9,265.35 L398.4,265.25 L398.9,265.13 L399.4,265 L399.9,264.84 L400.4,264.67 L400.9,264.47 L401.4,264.24 L401.9,263.98 L402.4,263.7 L402.9,263.37 L403.4,263.01 L403.9,262.61 L404.4,262.17 L404.9,261.68 L405.4,261.15 L405.9,260.57 L406.4,259.93 L406.9,259.24 L407.4,258.5 L407.9,257.71 L408.4,256.86 L408.9,256.61 L409.4,256.8 L409.9,257.03 L410.4,257.27 L410.9,257.54 L411.4,257.82 L411.9,258.12 L412.4,258.43 L412.9,258.75 L413.4,259.07 L413.9,259.4 L414.4,259.74 L414.9,260.07 L415.4,260.39 L415.9,260.71 L416.4,261.03 L416.9,261.33 L417.4,261.62 L417.9,261.9 L418.4,262.16 L418.9,262.41 L419.4,262.64 L419.9,262.86 L420.4,263.05 L420.9,263.23 L421.4,263.4 L421.9,263.54 L422.4,263.67 L422.9,263.78 L423.4,263.87 L423.9,263.94 L424.4,264 L424.9,264.04 L425.4,264.07 L425.9,264.08 L426.4,264.08 L426.9,264.07 L427.4,264.04 L427.9,264 L428.4,263.95 L428.9,263.89 L429.4,263.81 L429.9,263.73 L430.4,263.63 L430.9,263.53 L431.4,263.41 L431.9,263.29 L432.4,263.15 L432.9,263.01 L433.4,262.86 L433.9,262.7 L434.4,262.53 L434.9,262.35 L435.4,262.17 L435.9,261.97 L436.4,261.77 L436.9,261.56 L437.4,261.33 L437.9,261.1 L438.4,261.15 L438.9,261.72 L439.4,262.23 L439.9,262.69 L440.4,263.11 L440.9,263.48 L441.4,263.81 L441.9,264.1 L442.4,264.36 L442.9,264.58 L443.4,264.78 L443.9,264.95 L444.4,265.1 L444.9,265.23 L445.4,265.34 L445.9,265.43 L446.4,265.51 L446.9,265.58 L447.4,265.63 L447.9,265.68 L448.4,265.72 L448.9,265.75 L449.4,265.78 L449.9,265.8 L449.9,265.9Z" fill="#c8cccc"/>
<path d="M474.4,265.9 L474.4,265.8 L474.9,265.77 L475.4,265.73 L475.9,265.67 L476.4,265.61 L476.9,265.52 L477.4,265.42 L477.9,265.29 L478.4,265.12 L478.9,264.93 L479.4,264.69 L479.9,264.39 L480.4,264.04 L480.9,263.62 L481.4,263.13 L481.9,262.54 L482.4,261.86 L482.9,261.07 L483.4,260.16 L483.9,259.12 L484.4,257.94 L484.9,256.61 L485.4,255.12 L485.9,253.48 L486.4,251.67 L486.9,249.69 L487.4,247.55 L487.9,246.55 L488.4,247.03 L488.9,247.52 L489.4,248.01 L489.9,248.51 L490.4,249 L490.9,249.49 L491.4,249.99 L491.9,250.48 L492.4,250.97 L492.9,251.46 L493.4,251.94 L493.9,252.42 L494.4,252.89 L494.9,253.36 L495.4,253.82 L495.9,254.27 L496.4,254.72 L496.9,255.16 L497.4,255.59 L497.9,256.01 L498.4,256.42 L498.9,256.83 L499.4,257.22 L499.9,257.61 L500.4,257.98 L500.9,258.34 L501.4,258.7 L501.9,259.04 L502.4,259.37 L502.9,259.69 L503.4,260 L503.9,260.3 L504.4,260.59 L504.9,260.87 L505.4,261.14 L505.9,261.39 L506.4,261.64 L506.9,261.88 L507.4,262.11 L507.9,262.32 L508.4,262.53 L508.9,262.73 L509.4,262.92 L509.9,263.1 L510.4,263.27 L510.9,263.44 L511.4,263.59 L511.9,263.74 L512.4,263.88 L512.9,264.01 L513.4,264.24 L513.9,264.58 L514.4,264.85 L514.9,265.08 L515.4,265.26 L515.9,265.4 L516.4,265.52 L516.9,265.61 L517.4,265.68 L517.9,265.73 L518.4,265.77 L518.9,265.81 L518.9,265.9Z" fill="#c8cccc"/>
<path d="M393.9,265.9 L393.9,265.82 L394.4,265.79 L394.9,265.76 L395.4,265.73 L395.9,265.68 L396.4,265.62 L396.9,265.55 L397.4,265.46 L397.9,265.36 L398.4,265.23 L398.9,265.08 L399.4,264.91 L399.9,264.7 L400.4,264.46 L400.9,264.18 L401.4,263.86 L401.9,263.49 L402.4,263.07 L402.9,262.6 L403.4,262.08 L403.9,261.5 L404.4,260.87 L404.9,260.18 L405.4,259.43 L405.9,258.63 L406.4,257.78 L406.9,256.89 L407.4,256.19 L407.9,256.3 L408.4,256.44 L408.9,256.61 L409.4,256.8 L409.9,257.03 L410.4,257.27 L410.9,257.54 L411.4,257.82 L411.9,258.12 L412.4,258.43 L412.9,258.75 L413.4,259.07 L413.9,259.4 L414.4,259.74 L414.9,260.07 L415.4,260.39 L415.9,260.71 L416.4,261.03 L416.9,261.33 L417.4,261.62 L417.9,261.9 L418.4,262.16 L418.9,262.41 L419.4,262.64 L419.9,262.86 L420.4,263.05 L420.9,263.23 L421.4,263.4 L421.9,263.54 L422.4,263.67 L422.9,263.78 L423.4,263.87 L423.9,263.94 L424.4,264 L424.9,264.04 L425.4,264.07 L425.9,264.08 L426.4,264.08 L426.9,264.07 L427.4,264.04 L427.9,264 L428.4,264.04 L428.9,264.36 L429.4,264.63 L429.9,264.86 L430.4,265.06 L430.9,265.22 L431.4,265.35 L431.9,265.47 L432.4,265.56 L432.9,265.63 L433.4,265.69 L433.9,265.74 L434.4,265.78 L434.9,265.8 L434.9,265.9Z" fill="#aa8cb4"/>
<path d="M460.4,265.9 L460.4,265.81 L460.9,265.78 L461.4,265.75 L461.9,265.72 L462.4,265.67 L462.9,265.62 L463.4,265.56 L463.9,265.48 L464.4,265.39 L464.9,265.28 L465.4,265.15 L465.9,265 L466.4,264.82 L466.9,264.61 L467.4,264.36 L467.9,264.08 L468.4,263.75 L468.9,263.38 L469.4,262.95 L469.9,262.47 L470.4,261.92 L470.9,261.3 L471.4,260.61 L471.9,259.84 L472.4,258.99 L472.9,258.04 L473.4,257.01 L473.9,255.88 L474.4,254.65 L474.9,253.33 L475.4,251.9 L475.9,250.38 L476.4,248.77 L476.9,247.06 L477.4,245.27 L477.9,243.4 L478.4,241.47 L478.9,239.56 L479.4,239.82 L479.9,240.1 L480.4,240.39 L480.9,240.7 L481.4,241.04 L481.9,241.38 L482.4,241.75 L482.9,242.13 L483.4,242.52 L483.9,242.93 L484.4,243.35 L484.9,243.78 L485.4,244.22 L485.9,244.67 L486.4,245.13 L486.9,245.6 L487.4,246.07 L487.9,246.55 L488.4,247.03 L488.9,247.52 L489.4,248.01 L489.9,248.51 L490.4,249 L490.9,249.49 L491.4,249.99 L491.9,250.48 L492.4,250.97 L492.9,251.46 L493.4,251.94 L493.9,252.42 L494.4,252.89 L494.9,253.36 L495.4,253.82 L495.9,254.27 L496.4,254.72 L496.9,255.16 L497.4,255.59 L497.9,256.01 L498.4,256.42 L498.9,256.83 L499.4,257.22 L499.9,257.61 L500.4,257.98 L500.9,258.34 L501.4,258.7 L501.9,259.04 L502.4,259.37 L502.9,259.69 L503.4,260 L503.9,260.3 L504.4,260.59 L504.9,260.87 L505.4,261.14 L505.9,261.39 L506.4,261.64 L506.9,261.88 L507.4,262.11 L507.9,262.32 L508.4,262.71 L508.9,263.13 L509.4,263.5 L509.9,263.83 L510.4,264.12 L510.9,264.38 L511.4,264.6 L511.9,264.8 L512.4,264.97 L512.9,265.11 L513.4,265.24 L513.9,265.34 L514.4,265.43 L514.9,265.51 L515.4,265.58 L515.9,265.63 L516.4,265.68 L516.9,265.72 L517.4,265.75 L517.9,265.78 L518.4,265.8 L518.4,265.9Z" fill="#aa8cb4"/>
<path d="M393.9,265.9 L393.9,265.82 L394.4,265.79 L394.9,265.76 L395.4,265.73 L395.9,265.68 L396.4,265.62 L396.9,265.55 L397.4,265.46 L397.9,265.36 L398.4,265.25 L398.9,265.13 L399.4,265 L399.9,264.84 L400.4,264.67 L400.9,264.47 L401.4,264.24 L401.9,263.98 L402.4,263.7 L402.9,263.37 L403.4,263.01 L403.9,262.61 L404.4,262.17 L404.9,261.68 L405.4,261.15 L405.9,260.57 L406.4,259.93 L406.9,259.24 L407.4,258.5 L407.9,257.71 L408.4,256.86 L408.9,256.61 L409.4,256.8 L409.9,257.03 L410.4,257.27 L410.9,257.54 L411.4,257.82 L411.9,258.12 L412.4,258.43 L412.9,258.75 L413.4,259.07 L413.9,259.4 L414.4,259.74 L414.9,260.07 L415.4,260.39 L415.9,260.71 L416.4,261.03 L416.9,261.33 L417.4,261.62 L417.9,261.9 L418.4,262.16 L418.9,262.41 L419.4,262.64 L419.9,262.86 L420.4,263.05 L420.9,263.23 L421.4,263.4 L421.9,263.54 L422.4,263.67 L422.9,263.78 L423.4,263.87 L423.9,263.94 L424.4,264 L424.9,264.04 L425.4,264.07 L425.9,264.08 L426.4,264.08 L426.9,264.07 L427.4,264.04 L427.9,264 L428.4,264.04 L428.9,264.36 L429.4,264.63 L429.9,264.86 L430.4,265.06 L430.9,265.22 L431.4,265.35 L431.9,265.47 L432.4,265.56 L432.9,265.63 L433.4,265.69 L433.9,265.74 L434.4,265.78 L434.9,265.8 L434.9,265.9Z" fill="#6070c4"/>
<path d="M474.4,265.9 L474.4,265.8 L474.9,265.77 L475.4,265.73 L475.9,265.67 L476.4,265.61 L476.9,265.52 L477.4,265.42 L477.9,265.29 L478.4,265.12 L478.9,264.93 L479.4,264.69 L479.9,264.39 L480.4,264.04 L480.9,263.62 L481.4,263.13 L481.9,262.54 L482.4,261.86 L482.9,261.07 L483.4,260.16 L483.9,259.12 L484.4,257.94 L484.9,256.61 L485.4,255.12 L485.9,253.48 L486.4,251.67 L486.9,249.69 L487.4,247.55 L487.9,246.55 L488.4,247.03 L488.9,247.52 L489.4,248.01 L489.9,248.51 L490.4,249 L490.9,249.49 L491.4,249.99 L491.9,250.48 L492.4,250.97 L492.9,251.46 L493.4,251.94 L493.9,252.42 L494.4,252.89 L494.9,253.36 L495.4,253.82 L495.9,254.27 L496.4,254.72 L496.9,255.16 L497.4,255.59 L497.9,256.01 L498.4,256.42 L498.9,256.83 L499.4,257.22 L499.9,257.61 L500.4,257.98 L500.9,258.34 L501.4,258.7 L501.9,259.04 L502.4,259.37 L502.9,259.69 L503.4,260 L503.9,260.3 L504.4,260.59 L504.9,260.87 L505.4,261.14 L505.9,261.39 L506.4,261.64 L506.9,261.88 L507.4,262.11 L507.9,262.32 L508.4,262.71 L508.9,263.13 L509.4,263.5 L509.9,263.83 L510.4,264.12 L510.9,264.38 L511.4,264.6 L511.9,264.8 L512.4,264.97 L512.9,265.11 L513.4,265.24 L513.9,265.34 L514.4,265.43 L514.9,265.51 L515.4,265.58 L515.9,265.63 L516.4,265.68 L516.9,265.72 L517.4,265.75 L517.9,265.78 L518.4,265.8 L518.4,265.9Z" fill="#6070c4"/>
<path d="M377.66,263.6 L378.29,263.16 L378.97,262.95 L379.74,263.06 L380.47,263.01 L381.08,262.51 L381.78,262.32 L382.53,262.35 L383.17,261.94 L383.92,261.94 L384.65,261.8 L385.32,261.47 L386,261.22 L386.72,261.16 L387.36,260.81 L388.15,261 L388.74,260.55 L389.43,260.36 L390.15,260.23 L390.58,259.55 L391.4,259.51 L392.04,259.04 L392.49,258.27 L393.13,257.68 L393.81,257.09 L394.69,256.65 L395.16,255.78 L396.11,255.33 L396.56,254.34 L397.14,253.4 L398.12,252.67 L398.83,251.68 L399.29,250.46 L399.9,249.3 L400.64,248.17 L401.23,246.87 L402.13,245.62 L402.86,244.16 L403.66,242.62 L404.28,240.89 L404.64,238.79 L405.75,236.63 L406.4,234.27 L407.03,232.08 L407.88,230.16 L408.46,228.24 L409.22,226.45 L409.96,224.7 L410.46,222.88 L411.16,221.1 L411.86,219.38 L412.52,217.81 L413.36,216.68 L413.88,215.44 L414.96,214.56 L415.64,213.49 L416.46,212.63 L417.24,211.81 L418.24,211.13 L419.55,211.09 L420.53,211.79 L421.27,212.65 L422.1,213.49 L422.94,214.45 L423.54,215.62 L424.46,216.6 L425.28,217.78 L425.79,219.48 L426.58,221.25 L427.39,223.06 L427.91,224.9 L428.48,226.72 L429.53,228.39 L430.26,230.27 L430.51,232.42 L431.58,234.57 L432.11,236.99 L432.62,239.17 L433.36,240.89 L434.05,242.44 L434.93,243.5 L435.38,244.63 L435.98,245.61 L436.73,246.37 L437.59,246.89 L438.12,247.6 L438.78,248.02 L439.34,248.48 L439.96,248.99 L440.6,249.43 L441.32,249.62 L441.9,250.01 L442.54,250.09 L443.13,250.02 L443.64,250.16 L444.17,250.04 L444.73,249.8 L445.42,249.71 L446.09,249.4 L446.7,248.85 L447.39,248.7 L448.07,248.43 L448.69,247.97 L449.38,247.55 L450.09,247.11 L450.6,246.36 L451.5,246.09 L451.99,245.26 L452.72,244.74 L453.43,244.18 L454.36,243.95 L454.96,243.31 L455.53,242.62 L456.42,242.41 L457.15,241.96 L457.67,241.23 L458.51,240.91 L459.08,240.23 L459.9,239.82 L460.31,238.93 L461.21,238.54 L461.96,237.92 L462.42,237 L463.23,236.36 L463.84,235.49 L464.55,234.68 L465.08,233.68 L465.93,232.93 L466.68,232.09 L467.52,231.3 L468,230.21 L468.78,229.27 L469.33,228.11 L469.98,226.94 L470.74,225.72 L471.59,224.41 L472.06,222.65 L472.76,220.58 L473.38,218.27 L473.92,215.89 L474.96,213.76 L475.58,211.5 L476.45,209.29 L476.81,206.9 L477.78,204.71 L478.19,202.37 L478.91,200.13 L479.87,197.96 L480.26,195.6 L481.15,193.37 L481.88,191.1 L482.52,188.79 L483.03,186.38 L483.94,183.99 L484.65,181.41 L485.44,178.76 L485.87,175.95 L486.73,173.24 L487.51,170.52 L488.28,167.83 L488.97,165.11 L489.37,162.33 L490.09,159.68 L490.69,156.63 L491.43,153.4 L492.5,151.04 L495.07,151.24 L495.92,152.94 L496.7,155.1 L497.4,157.57 L497.8,160.09 L498.83,162.83 L499.28,166.19 L499.96,169.82 L500.99,173.84 L501.25,178.5 L502.2,183.52 L502.81,189.07 L503.74,194.75 L504.35,200.75 L505.2,207.11 L505.91,213.59 L506.46,219.86 L506.87,225.09 L507.87,229.96 L508.29,234.89 L509.41,238.75 L510.05,241.95 L510.47,244.8 L511.11,247.39 L512.05,249.88 L512.77,252.27 L513.53,254.04 L514,255.31 L514.46,256.51 L515.35,257.24 L515.74,258.2 L516.63,258.5 L517.17,258.97 L517.82,259.35 L518.48,259.65 L519.05,260.09 L519.77,260.18 L520.37,260.56 L521.01,260.84 L521.67,261.07 L522.35,261.26 L522.99,261.59 L523.69,261.67 L524.44,261.5 L525.08,261.91 L525.8,261.83 L526.5,261.88 L527.18,262.03 L527.86,262.22 L528.54,262.42 L529.23,262.54 L529.92,262.67 L530.65,262.53 L531.35,262.6 L532.06,262.55 L532.72,262.94 L533.44,262.72 L534.14,262.8 L534.8,263.18 L535.52,262.92 L536.2,263.14 L536.9,263.03 L537.58,263.17 L538.26,263.44 L538.95,263.5" fill="none" stroke="#5a5a5a" stroke-width="1.2"/>
<path d="M377.9,265.9 L378.4,265.9 L378.9,265.9 L379.4,265.9 L379.9,265.9 L380.4,265.9 L380.9,265.9 L381.4,265.9 L381.9,265.9 L382.4,265.9 L382.9,265.9 L383.4,265.9 L383.9,265.9 L384.4,265.9 L384.9,265.9 L385.4,265.9 L385.9,265.9 L386.4,265.9 L386.9,265.89 L387.4,265.89 L387.9,265.89 L388.4,265.89 L388.9,265.89 L389.4,265.88 L389.9,265.88 L390.4,265.87 L390.9,265.86 L391.4,265.85 L391.9,265.84 L392.4,265.83 L392.9,265.81 L393.4,265.8 L393.9,265.77 L394.4,265.75 L394.9,265.71 L395.4,265.67 L395.9,265.63 L396.4,265.57 L396.9,265.51 L397.4,265.44 L397.9,265.35 L398.4,265.25 L398.9,265.13 L399.4,265 L399.9,264.84 L400.4,264.67 L400.9,264.47 L401.4,264.24 L401.9,263.98 L402.4,263.7 L402.9,263.37 L403.4,263.01 L403.9,262.61 L404.4,262.17 L404.9,261.68 L405.4,261.15 L405.9,260.57 L406.4,259.93 L406.9,259.24 L407.4,258.5 L407.9,257.71 L408.4,256.86 L408.9,255.96 L409.4,255 L409.9,254 L410.4,252.94 L410.9,251.85 L411.4,250.71 L411.9,249.53 L412.4,248.33 L412.9,247.1 L413.4,245.86 L413.9,244.61 L414.4,243.36 L414.9,242.12 L415.4,240.89 L415.9,239.7 L416.4,238.54 L416.9,237.43 L417.4,236.38 L417.9,235.39 L418.4,234.48 L418.9,233.65 L419.4,232.92 L419.9,232.29 L420.4,231.76 L420.9,231.34 L421.4,231.04 L421.9,230.86 L422.4,230.8 L422.9,230.87 L423.4,231.07 L423.9,231.41 L424.4,231.88 L424.9,232.47 L425.4,233.18 L425.9,234 L426.4,234.92 L426.9,235.94 L427.4,237.03 L427.9,238.19 L428.4,239.41 L428.9,240.67 L429.4,241.96 L429.9,243.28 L430.4,244.61 L430.9,245.94 L431.4,247.26 L431.9,248.56 L432.4,249.83 L432.9,251.07 L433.4,252.26 L433.9,253.41 L434.4,254.5 L434.9,255.54 L435.4,256.53 L435.9,257.45 L436.4,258.31 L436.9,259.11 L437.4,259.85 L437.9,260.53 L438.4,261.15 L438.9,261.72 L439.4,262.23 L439.9,262.69 L440.4,263.11 L440.9,263.48 L441.4,263.81 L441.9,264.1 L442.4,264.36 L442.9,264.58 L443.4,264.78 L443.9,264.95 L444.4,265.1 L444.9,265.23 L445.4,265.34 L445.9,265.43 L446.4,265.51 L446.9,265.58 L447.4,265.63 L447.9,265.68 L448.4,265.72 L448.9,265.75 L449.4,265.78 L449.9,265.8 L450.4,265.82 L450.9,265.84 L451.4,265.85 L451.9,265.86 L452.4,265.87 L452.9,265.88 L453.4,265.88 L453.9,265.88 L454.4,265.89 L454.9,265.89 L455.4,265.89 L455.9,265.89 L456.4,265.9 L456.9,265.9 L457.4,265.9 L457.9,265.9 L458.4,265.9 L458.9,265.9 L459.4,265.9 L459.9,265.9 L460.4,265.9 L460.9,265.9 L461.4,265.9 L461.9,265.9 L462.4,265.9 L462.9,265.9 L463.4,265.9 L463.9,265.9 L464.4,265.9 L464.9,265.9 L465.4,265.9 L465.9,265.9 L466.4,265.9 L466.9,265.9 L467.4,265.9 L467.9,265.9 L468.4,265.9 L468.9,265.9 L469.4,265.9 L469.9,265.89 L470.4,265.89 L470.9,265.89 L471.4,265.88 L471.9,265.88 L472.4,265.87 L472.9,265.86 L473.4,265.84 L473.9,265.82 L474.4,265.8 L474.9,265.77 L475.4,265.73 L475.9,265.67 L476.4,265.61 L476.9,265.52 L477.4,265.42 L477.9,265.29 L478.4,265.12 L478.9,264.93 L479.4,264.69 L479.9,264.39 L480.4,264.04 L480.9,263.62 L481.4,263.13 L481.9,262.54 L482.4,261.86 L482.9,261.07 L483.4,260.16 L483.9,259.12 L484.4,257.94 L484.9,256.61 L485.4,255.12 L485.9,253.48 L486.4,251.67 L486.9,249.69 L487.4,247.55 L487.9,245.26 L488.4,242.82 L488.9,240.25 L489.4,237.56 L489.9,234.79 L490.4,231.95 L490.9,229.08 L491.4,226.21 L491.9,223.38 L492.4,220.62 L492.9,217.98 L493.4,215.49 L493.9,213.19 L494.4,211.12 L494.9,209.32 L495.4,207.82 L495.9,206.64 L496.4,205.8 L496.9,205.32 L497.4,205.21 L497.9,205.5 L498.4,206.21 L498.9,207.32 L499.4,208.81 L499.9,210.64 L500.4,212.78 L500.9,215.2 L501.4,217.84 L501.9,220.66 L502.4,223.6 L502.9,226.63 L503.4,229.7 L503.9,232.75 L504.4,235.76 L504.9,238.69 L505.4,241.5 L505.9,244.17 L506.4,246.68 L506.9,249.02 L507.4,251.18 L507.9,253.15 L508.4,254.94 L508.9,256.53 L509.4,257.96 L509.9,259.21 L510.4,260.3 L510.9,261.25 L511.4,262.06 L511.9,262.76 L512.4,263.34 L512.9,263.83 L513.4,264.24 L513.9,264.58 L514.4,264.85 L514.9,265.08 L515.4,265.26 L515.9,265.4 L516.4,265.52 L516.9,265.61 L517.4,265.68 L517.9,265.73 L518.4,265.77 L518.9,265.81 L519.4,265.83 L519.9,265.85 L520.4,265.86 L520.9,265.87 L521.4,265.88 L521.9,265.89 L522.4,265.89 L522.9,265.89 L523.4,265.9 L523.9,265.9 L524.4,265.9 L524.9,265.9 L525.4,265.9 L525.9,265.9 L526.4,265.9 L526.9,265.9 L527.4,265.9 L527.9,265.9 L528.4,265.9 L528.9,265.9 L529.4,265.9 L529.9,265.9 L530.4,265.9 L530.9,265.9 L531.4,265.9 L531.9,265.9 L532.4,265.9 L532.9,265.9 L533.4,265.9 L533.9,265.9 L534.4,265.9 L534.9,265.9 L535.4,265.9 L535.9,265.9 L536.4,265.9 L536.9,265.9 L537.4,265.9 L537.9,265.9 L538.4,265.9 L538.9,265.9" fill="none" stroke="#1f9fd6" stroke-width="1.7" stroke-linejoin="round"/>
<path d="M377.9,265.9 L378.4,265.9 L378.9,265.9 L379.4,265.9 L379.9,265.9 L380.4,265.9 L380.9,265.9 L381.4,265.9 L381.9,265.9 L382.4,265.9 L382.9,265.9 L383.4,265.9 L383.9,265.9 L384.4,265.9 L384.9,265.9 L385.4,265.9 L385.9,265.9 L386.4,265.9 L386.9,265.9 L387.4,265.9 L387.9,265.9 L388.4,265.9 L388.9,265.9 L389.4,265.89 L389.9,265.89 L390.4,265.89 L390.9,265.88 L391.4,265.88 L391.9,265.87 L392.4,265.86 L392.9,265.85 L393.4,265.84 L393.9,265.82 L394.4,265.79 L394.9,265.76 L395.4,265.73 L395.9,265.68 L396.4,265.62 L396.9,265.55 L397.4,265.46 L397.9,265.36 L398.4,265.23 L398.9,265.08 L399.4,264.91 L399.9,264.7 L400.4,264.46 L400.9,264.18 L401.4,263.86 L401.9,263.49 L402.4,263.07 L402.9,262.6 L403.4,262.08 L403.9,261.5 L404.4,260.87 L404.9,260.18 L405.4,259.43 L405.9,258.63 L406.4,257.78 L406.9,256.89 L407.4,255.95 L407.9,254.99 L408.4,254.01 L408.9,253.03 L409.4,252.04 L409.9,251.07 L410.4,250.12 L410.9,249.22 L411.4,248.38 L411.9,247.6 L412.4,246.91 L412.9,246.31 L413.4,245.81 L413.9,245.43 L414.4,245.16 L414.9,245.02 L415.4,245.01 L415.9,245.14 L416.4,245.41 L416.9,245.82 L417.4,246.36 L417.9,247.01 L418.4,247.77 L418.9,248.62 L419.4,249.54 L419.9,250.52 L420.4,251.54 L420.9,252.59 L421.4,253.65 L421.9,254.7 L422.4,255.73 L422.9,256.73 L423.4,257.69 L423.9,258.6 L424.4,259.45 L424.9,260.24 L425.4,260.97 L425.9,261.64 L426.4,262.24 L426.9,262.78 L427.4,263.26 L427.9,263.68 L428.4,264.04 L428.9,264.36 L429.4,264.63 L429.9,264.86 L430.4,265.06 L430.9,265.22 L431.4,265.35 L431.9,265.47 L432.4,265.56 L432.9,265.63 L433.4,265.69 L433.9,265.74 L434.4,265.78 L434.9,265.8 L435.4,265.83 L435.9,265.85 L436.4,265.86 L436.9,265.87 L437.4,265.88 L437.9,265.88 L438.4,265.89 L438.9,265.89 L439.4,265.89 L439.9,265.9 L440.4,265.9 L440.9,265.9 L441.4,265.9 L441.9,265.9 L442.4,265.9 L442.9,265.9 L443.4,265.9 L443.9,265.9 L444.4,265.9 L444.9,265.9 L445.4,265.9 L445.9,265.9 L446.4,265.9 L446.9,265.9 L447.4,265.9 L447.9,265.9 L448.4,265.9 L448.9,265.9 L449.4,265.9 L449.9,265.9 L450.4,265.9 L450.9,265.9 L451.4,265.9 L451.9,265.9 L452.4,265.9 L452.9,265.9 L453.4,265.9 L453.9,265.9 L454.4,265.9 L454.9,265.89 L455.4,265.89 L455.9,265.89 L456.4,265.89 L456.9,265.88 L457.4,265.88 L457.9,265.87 L458.4,265.86 L458.9,265.85 L459.4,265.84 L459.9,265.83 L460.4,265.81 L460.9,265.78 L461.4,265.75 L461.9,265.72 L462.4,265.67 L462.9,265.62 L463.4,265.56 L463.9,265.48 L464.4,265.39 L464.9,265.28 L465.4,265.15 L465.9,265 L466.4,264.82 L466.9,264.61 L467.4,264.36 L467.9,264.08 L468.4,263.75 L468.9,263.38 L469.4,262.95 L469.9,262.47 L470.4,261.92 L470.9,261.3 L471.4,260.61 L471.9,259.84 L472.4,258.99 L472.9,258.04 L473.4,257.01 L473.9,255.88 L474.4,254.65 L474.9,253.33 L475.4,251.9 L475.9,250.38 L476.4,248.77 L476.9,247.06 L477.4,245.27 L477.9,243.4 L478.4,241.47 L478.9,239.47 L479.4,237.43 L479.9,235.36 L480.4,233.27 L480.9,231.18 L481.4,229.11 L481.9,227.07 L482.4,225.09 L482.9,223.19 L483.4,221.38 L483.9,219.68 L484.4,218.12 L484.9,216.71 L485.4,215.46 L485.9,214.39 L486.4,213.51 L486.9,212.84 L487.4,212.38 L487.9,212.14 L488.4,212.11 L488.9,212.28 L489.4,212.63 L489.9,213.17 L490.4,213.87 L490.9,214.75 L491.4,215.78 L491.9,216.96 L492.4,218.28 L492.9,219.73 L493.4,221.28 L493.9,222.93 L494.4,224.67 L494.9,226.47 L495.4,228.32 L495.9,230.21 L496.4,232.12 L496.9,234.04 L497.4,235.95 L497.9,237.85 L498.4,239.71 L498.9,241.54 L499.4,243.32 L499.9,245.04 L500.4,246.69 L500.9,248.28 L501.4,249.79 L501.9,251.22 L502.4,252.57 L502.9,253.84 L503.4,255.03 L503.9,256.13 L504.4,257.15 L504.9,258.09 L505.4,258.96 L505.9,259.75 L506.4,260.46 L506.9,261.12 L507.4,261.7 L507.9,262.23 L508.4,262.71 L508.9,263.13 L509.4,263.5 L509.9,263.83 L510.4,264.12 L510.9,264.38 L511.4,264.6 L511.9,264.8 L512.4,264.97 L512.9,265.11 L513.4,265.24 L513.9,265.34 L514.4,265.43 L514.9,265.51 L515.4,265.58 L515.9,265.63 L516.4,265.68 L516.9,265.72 L517.4,265.75 L517.9,265.78 L518.4,265.8 L518.9,265.82 L519.4,265.84 L519.9,265.85 L520.4,265.86 L520.9,265.87 L521.4,265.87 L521.9,265.88 L522.4,265.88 L522.9,265.89 L523.4,265.89 L523.9,265.89 L524.4,265.89 L524.9,265.9 L525.4,265.9 L525.9,265.9 L526.4,265.9 L526.9,265.9 L527.4,265.9 L527.9,265.9 L528.4,265.9 L528.9,265.9 L529.4,265.9 L529.9,265.9 L530.4,265.9 L530.9,265.9 L531.4,265.9 L531.9,265.9 L532.4,265.9 L532.9,265.9 L533.4,265.9 L533.9,265.9 L534.4,265.9 L534.9,265.9 L535.4,265.9 L535.9,265.9 L536.4,265.9 L536.9,265.9 L537.4,265.9 L537.9,265.9 L538.4,265.9 L538.9,265.9" fill="none" stroke="#1414f0" stroke-width="1.7" stroke-linejoin="round"/>
<path d="M377.9,265.9 L378.4,265.9 L378.9,265.89 L379.4,265.89 L379.9,265.89 L380.4,265.89 L380.9,265.88 L381.4,265.88 L381.9,265.87 L382.4,265.86 L382.9,265.86 L383.4,265.84 L383.9,265.83 L384.4,265.81 L384.9,265.79 L385.4,265.76 L385.9,265.73 L386.4,265.7 L386.9,265.65 L387.4,265.6 L387.9,265.54 L388.4,265.47 L388.9,265.39 L389.4,265.29 L389.9,265.18 L390.4,265.05 L390.9,264.91 L391.4,264.75 L391.9,264.57 L392.4,264.37 L392.9,264.15 L393.4,263.91 L393.9,263.64 L394.4,263.35 L394.9,263.04 L395.4,262.71 L395.9,262.36 L396.4,261.99 L396.9,261.6 L397.4,261.2 L397.9,260.79 L398.4,260.37 L398.9,259.94 L399.4,259.52 L399.9,259.1 L400.4,258.69 L400.9,258.29 L401.4,257.91 L401.9,257.55 L402.4,257.23 L402.9,256.93 L403.4,256.67 L403.9,256.46 L404.4,256.29 L404.9,256.16 L405.4,256.08 L405.9,256.05 L406.4,256.06 L406.9,256.11 L407.4,256.19 L407.9,256.3 L408.4,256.44 L408.9,256.61 L409.4,256.8 L409.9,257.03 L410.4,257.27 L410.9,257.54 L411.4,257.82 L411.9,258.12 L412.4,258.43 L412.9,258.75 L413.4,259.07 L413.9,259.4 L414.4,259.74 L414.9,260.07 L415.4,260.39 L415.9,260.71 L416.4,261.03 L416.9,261.33 L417.4,261.62 L417.9,261.9 L418.4,262.16 L418.9,262.41 L419.4,262.64 L419.9,262.86 L420.4,263.05 L420.9,263.23 L421.4,263.4 L421.9,263.54 L422.4,263.67 L422.9,263.78 L423.4,263.87 L423.9,263.94 L424.4,264 L424.9,264.04 L425.4,264.07 L425.9,264.08 L426.4,264.08 L426.9,264.07 L427.4,264.04 L427.9,264 L428.4,263.95 L428.9,263.89 L429.4,263.81 L429.9,263.73 L430.4,263.63 L430.9,263.53 L431.4,263.41 L431.9,263.29 L432.4,263.15 L432.9,263.01 L433.4,262.86 L433.9,262.7 L434.4,262.53 L434.9,262.35 L435.4,262.17 L435.9,261.97 L436.4,261.77 L436.9,261.56 L437.4,261.33 L437.9,261.1 L438.4,260.87 L438.9,260.62 L439.4,260.36 L439.9,260.1 L440.4,259.82 L440.9,259.54 L441.4,259.25 L441.9,258.95 L442.4,258.64 L442.9,258.33 L443.4,258 L443.9,257.67 L444.4,257.33 L444.9,256.98 L445.4,256.62 L445.9,256.26 L446.4,255.88 L446.9,255.5 L447.4,255.12 L447.9,254.72 L448.4,254.33 L448.9,253.92 L449.4,253.51 L449.9,253.09 L450.4,252.67 L450.9,252.25 L451.4,251.82 L451.9,251.38 L452.4,250.95 L452.9,250.51 L453.4,250.07 L453.9,249.63 L454.4,249.19 L454.9,248.75 L455.4,248.3 L455.9,247.86 L456.4,247.42 L456.9,246.99 L457.4,246.56 L457.9,246.13 L458.4,245.7 L458.9,245.28 L459.4,244.87 L459.9,244.46 L460.4,244.06 L460.9,243.67 L461.4,243.28 L461.9,242.91 L462.4,242.55 L462.9,242.19 L463.4,241.85 L463.9,241.52 L464.4,241.2 L464.9,240.9 L465.4,240.61 L465.9,240.33 L466.4,240.07 L466.9,239.82 L467.4,239.59 L467.9,239.38 L468.4,239.18 L468.9,239 L469.4,238.84 L469.9,238.69 L470.4,238.57 L470.9,238.46 L471.4,238.37 L471.9,238.3 L472.4,238.25 L472.9,238.21 L473.4,238.2 L473.9,238.21 L474.4,238.24 L474.9,238.29 L475.4,238.37 L475.9,238.47 L476.4,238.6 L476.9,238.75 L477.4,238.92 L477.9,239.11 L478.4,239.33 L478.9,239.56 L479.4,239.82 L479.9,240.1 L480.4,240.39 L480.9,240.7 L481.4,241.04 L481.9,241.38 L482.4,241.75 L482.9,242.13 L483.4,242.52 L483.9,242.93 L484.4,243.35 L484.9,243.78 L485.4,244.22 L485.9,244.67 L486.4,245.13 L486.9,245.6 L487.4,246.07 L487.9,246.55 L488.4,247.03 L488.9,247.52 L489.4,248.01 L489.9,248.51 L490.4,249 L490.9,249.49 L491.4,249.99 L491.9,250.48 L492.4,250.97 L492.9,251.46 L493.4,251.94 L493.9,252.42 L494.4,252.89 L494.9,253.36 L495.4,253.82 L495.9,254.27 L496.4,254.72 L496.9,255.16 L497.4,255.59 L497.9,256.01 L498.4,256.42 L498.9,256.83 L499.4,257.22 L499.9,257.61 L500.4,257.98 L500.9,258.34 L501.4,258.7 L501.9,259.04 L502.4,259.37 L502.9,259.69 L503.4,260 L503.9,260.3 L504.4,260.59 L504.9,260.87 L505.4,261.14 L505.9,261.39 L506.4,261.64 L506.9,261.88 L507.4,262.11 L507.9,262.32 L508.4,262.53 L508.9,262.73 L509.4,262.92 L509.9,263.1 L510.4,263.27 L510.9,263.44 L511.4,263.59 L511.9,263.74 L512.4,263.88 L512.9,264.01 L513.4,264.14 L513.9,264.26 L514.4,264.37 L514.9,264.47 L515.4,264.57 L515.9,264.66 L516.4,264.75 L516.9,264.84 L517.4,264.91 L517.9,264.99 L518.4,265.05 L518.9,265.12 L519.4,265.18 L519.9,265.23 L520.4,265.28 L520.9,265.33 L521.4,265.38 L521.9,265.42 L522.4,265.46 L522.9,265.49 L523.4,265.53 L523.9,265.56 L524.4,265.59 L524.9,265.61 L525.4,265.64 L525.9,265.66 L526.4,265.68 L526.9,265.7 L527.4,265.72 L527.9,265.73 L528.4,265.75 L528.9,265.76 L529.4,265.78 L529.9,265.79 L530.4,265.8 L530.9,265.81 L531.4,265.82 L531.9,265.82 L532.4,265.83 L532.9,265.84 L533.4,265.84 L533.9,265.85 L534.4,265.85 L534.9,265.86 L535.4,265.86 L535.9,265.87 L536.4,265.87 L536.9,265.87 L537.4,265.88 L537.9,265.88 L538.4,265.88 L538.9,265.88" fill="none" stroke="#cc6a18" stroke-width="1.7" stroke-linejoin="round"/>
<line x1="377.9" y1="265.9" x2="539" y2="265.9" stroke="#cc6a18" stroke-width="2.0"/>
<path d="M377.9,264.6 L378.4,264.48 L378.9,264.35 L379.4,264.23 L379.9,264.1 L380.4,263.97 L380.9,263.84 L381.4,263.71 L381.9,263.58 L382.4,263.44 L382.9,263.31 L383.4,263.17 L383.9,263.03 L384.4,262.89 L384.9,262.76 L385.4,262.63 L385.9,262.5 L386.4,262.37 L386.9,262.24 L387.4,262.11 L387.9,261.96 L388.4,261.81 L388.9,261.65 L389.4,261.48 L389.9,261.29 L390.4,261.09 L390.9,260.86 L391.4,260.59 L391.9,260.29 L392.4,259.95 L392.9,259.58 L393.4,259.19 L393.9,258.77 L394.4,258.33 L394.9,257.86 L395.4,257.39 L395.9,256.9 L396.4,256.38 L396.9,255.82 L397.4,255.22 L397.9,254.59 L398.4,253.92 L398.9,253.22 L399.4,252.48 L399.9,251.72 L400.4,250.94 L400.9,250.13 L401.4,249.29 L401.9,248.41 L402.4,247.48 L402.9,246.49 L403.4,245.46 L403.9,244.36 L404.4,243.21 L404.9,242 L405.4,240.7 L405.9,239.19 L406.4,237.55 L406.9,235.87 L407.4,234.22 L407.9,232.7 L408.4,231.29 L408.9,229.92 L409.4,228.6 L409.9,227.3 L410.4,226.04 L410.9,224.8 L411.4,223.55 L411.9,222.27 L412.4,221.02 L412.9,219.84 L413.4,218.79 L413.9,217.9 L414.4,217.1 L414.9,216.3 L415.4,215.51 L415.9,214.76 L416.4,214.07 L416.9,213.47 L417.4,212.96 L417.9,212.59 L418.4,212.36 L418.9,212.3 L419.4,212.42 L419.9,212.7 L420.4,213.11 L420.9,213.63 L421.4,214.25 L421.9,214.94 L422.4,215.69 L422.9,216.47 L423.4,217.27 L423.9,218.06 L424.4,219.01 L424.9,220.14 L425.4,221.4 L425.9,222.72 L426.4,224.03 L426.9,225.3 L427.4,226.56 L427.9,227.83 L428.4,229.13 L428.9,230.46 L429.4,231.84 L429.9,233.3 L430.4,234.92 L430.9,236.62 L431.4,238.27 L431.9,239.74 L432.4,241 L432.9,242.19 L433.4,243.25 L433.9,244.14 L434.4,244.89 L434.9,245.6 L435.4,246.26 L435.9,246.88 L436.4,247.45 L436.9,247.97 L437.4,248.43 L437.9,248.84 L438.4,249.18 L438.9,249.47 L439.4,249.76 L439.9,250.03 L440.4,250.29 L440.9,250.53 L441.4,250.75 L441.9,250.93 L442.4,251.07 L442.9,251.16 L443.4,251.2 L443.9,251.18 L444.4,251.1 L444.9,250.97 L445.4,250.8 L445.9,250.6 L446.4,250.39 L446.9,250.17 L447.4,249.96 L447.9,249.72 L448.4,249.46 L448.9,249.16 L449.4,248.85 L449.9,248.51 L450.4,248.15 L450.9,247.78 L451.4,247.39 L451.9,247 L452.4,246.61 L452.9,246.22 L453.4,245.83 L453.9,245.44 L454.4,245.07 L454.9,244.71 L455.4,244.36 L455.9,244 L456.4,243.65 L456.9,243.29 L457.4,242.94 L457.9,242.57 L458.4,242.2 L458.9,241.82 L459.4,241.43 L459.9,241.03 L460.4,240.61 L460.9,240.18 L461.4,239.73 L461.9,239.25 L462.4,238.75 L462.9,238.24 L463.4,237.7 L463.9,237.15 L464.4,236.57 L464.9,235.98 L465.4,235.37 L465.9,234.75 L466.4,234.12 L466.9,233.5 L467.4,232.86 L467.9,232.21 L468.4,231.54 L468.9,230.84 L469.4,230.11 L469.9,229.35 L470.4,228.54 L470.9,227.69 L471.4,226.78 L471.9,225.82 L472.4,224.78 L472.9,223.56 L473.4,222.15 L473.9,220.59 L474.4,218.94 L474.9,217.27 L475.4,215.63 L475.9,214.06 L476.4,212.46 L476.9,210.85 L477.4,209.23 L477.9,207.6 L478.4,205.97 L478.9,204.36 L479.4,202.75 L479.9,201.14 L480.4,199.54 L480.9,197.93 L481.4,196.31 L481.9,194.67 L482.4,193.04 L482.9,191.42 L483.4,189.78 L483.9,188.11 L484.4,186.4 L484.9,184.64 L485.4,182.82 L485.9,180.93 L486.4,179.01 L486.9,177.05 L487.4,175.08 L487.9,173.11 L488.4,171.16 L488.9,169.23 L489.4,167.29 L489.9,165.35 L490.4,163.41 L490.9,161.5 L491.4,159.61 L491.9,157.38 L492.4,155.01 L492.9,152.99 L493.4,151.82 L493.9,151.82 L494.4,152.49 L494.9,153.64 L495.4,155.14 L495.9,156.84 L496.4,158.61 L496.9,160.34 L497.4,162.26 L497.9,164.46 L498.4,166.89 L498.9,169.47 L499.4,172.24 L499.9,175.31 L500.4,178.63 L500.9,182.15 L501.4,186 L501.9,190 L502.4,194.07 L502.9,198.27 L503.4,202.67 L503.9,207.25 L504.4,211.85 L504.9,216.53 L505.4,220.8 L505.9,224.51 L506.4,228 L506.9,231.56 L507.4,235.02 L507.9,238 L508.4,240.46 L508.9,242.66 L509.4,244.67 L509.9,246.55 L510.4,248.36 L510.9,250.2 L511.4,251.98 L511.9,253.56 L512.4,254.8 L512.9,255.72 L513.4,256.56 L513.9,257.31 L514.4,257.98 L514.9,258.58 L515.4,259.11 L515.9,259.56 L516.4,259.93 L516.9,260.25 L517.4,260.54 L517.9,260.8 L518.4,261.04 L518.9,261.26 L519.4,261.46 L519.9,261.63 L520.4,261.8 L520.9,261.94 L521.4,262.08 L521.9,262.21 L522.4,262.33 L522.9,262.45 L523.4,262.56 L523.9,262.67 L524.4,262.77 L524.9,262.86 L525.4,262.95 L525.9,263.04 L526.4,263.12 L526.9,263.2 L527.4,263.28 L527.9,263.35 L528.4,263.42 L528.9,263.49 L529.4,263.55 L529.9,263.62 L530.4,263.68 L530.9,263.74 L531.4,263.81 L531.9,263.87 L532.4,263.92 L532.9,263.98 L533.4,264.04 L533.9,264.09 L534.4,264.14 L534.9,264.19 L535.4,264.24 L535.9,264.28 L536.4,264.32 L536.9,264.36 L537.4,264.4 L537.9,264.43 L538.4,264.46 L538.9,264.49" fill="none" stroke="#1cc4d0" stroke-width="2.1" stroke-linejoin="round" stroke-linecap="round"/>
<path d="M24.45,6.20 H186.40 V266.40 H24.45 Z M24.45,136.60 H186.40" fill="none" stroke="#8c8c8c" stroke-width="1.1"/>
<path d="M200.70,6.20 H362.40 V267.00 H200.70 Z M200.70,136.60 H362.40" fill="none" stroke="#8c8c8c" stroke-width="1.1"/>
<path d="M377.50,6.20 H539.40 V266.40 H377.50 Z M377.50,136.60 H539.40" fill="none" stroke="#8c8c8c" stroke-width="1.1"/>
<path d="M24.45,266.4v2M44.69,266.4v2M64.94,266.4v2M85.18,266.4v2M105.42,266.4v2M125.67,266.4v2M145.91,266.4v2M166.16,266.4v2M186.40,266.4v2" stroke="#8c8c8c" stroke-width="0.9" fill="none"/>
<text x="24.45" y="278.0" font-size="10.2" text-anchor="middle" fill="#222">810</text>
<text x="64.94" y="278.0" font-size="10.2" text-anchor="middle" fill="#222">800</text>
<text x="105.42" y="278.0" font-size="10.2" text-anchor="middle" fill="#222">790</text>
<text x="145.91" y="278.0" font-size="10.2" text-anchor="middle" fill="#222">780</text>
<text x="186.40" y="278.0" font-size="10.2" text-anchor="middle" fill="#222">770</text>
<path d="M200.70,267.0v2M220.91,267.0v2M241.12,267.0v2M261.34,267.0v2M281.55,267.0v2M301.76,267.0v2M321.97,267.0v2M342.19,267.0v2M362.40,267.0v2" stroke="#8c8c8c" stroke-width="0.9" fill="none"/>
<text x="220.91" y="278.7" font-size="10.2" text-anchor="middle" fill="#222">880</text>
<text x="261.34" y="278.7" font-size="10.2" text-anchor="middle" fill="#222">870</text>
<text x="301.76" y="278.7" font-size="10.2" text-anchor="middle" fill="#222">860</text>
<text x="342.19" y="278.7" font-size="10.2" text-anchor="middle" fill="#222">850</text>
<path d="M377.50,266.4v2M393.69,266.4v2M409.88,266.4v2M426.07,266.4v2M442.26,266.4v2M458.45,266.4v2M474.64,266.4v2M490.83,266.4v2M507.02,266.4v2M523.21,266.4v2M539.40,266.4v2" stroke="#8c8c8c" stroke-width="0.9" fill="none"/>
<text x="377.50" y="277.6" font-size="10.2" text-anchor="middle" fill="#222">660</text>
<text x="409.88" y="277.6" font-size="10.2" text-anchor="middle" fill="#222">655</text>
<text x="442.26" y="277.6" font-size="10.2" text-anchor="middle" fill="#222">650</text>
<text x="474.64" y="277.6" font-size="10.2" text-anchor="middle" fill="#222">645</text>
<text x="507.02" y="277.6" font-size="10.2" text-anchor="middle" fill="#222">640</text>
<text x="539.40" y="277.6" font-size="10.2" text-anchor="middle" fill="#222">635</text>
<text x="106.5" y="295" font-size="13.8" text-anchor="middle" fill="#111">Binding Energy( eV )</text>
<text x="283.5" y="295" font-size="13.8" text-anchor="middle" fill="#111">Binding Energy( eV )</text>
<text x="460.4" y="295" font-size="13.8" text-anchor="middle" fill="#111">Binding Energy( eV )</text>
<text transform="translate(18.8,147.8) rotate(-90)" font-size="13.8" text-anchor="middle" fill="#111">Relative Intensities ( a. u. )</text>
<text x="30" y="22.7" font-size="13.8" fill="#000">Co 2p</text>
<text x="206.3" y="22.7" font-size="13.8" fill="#000">Ni 2p</text>
<text x="383" y="22.7" font-size="13.8" fill="#000">Mn 2p</text>
<text x="159.6" y="22.2" font-size="13.5" fill="#000">(a)</text>
<text x="336.8" y="22.2" font-size="13.5" fill="#000">(b)</text>
<text x="516.6" y="22.2" font-size="13.5" fill="#000">(c)</text>
<text x="160.0" y="152.6" font-size="13.5" fill="#000">(d)</text>
<text x="336.6" y="152.6" font-size="13.5" fill="#000">(e)</text>
<text x="517.0" y="152.6" font-size="13.5" fill="#000">(f)</text>
<line x1="29.2" y1="33.6" x2="39.8" y2="33.6" stroke="#c86ee6" stroke-width="2.2"/>
<text x="46.2" y="36.2" font-size="8.6" fill="#000">Co<tspan font-size="5.6" dy="-3.3">3+</tspan></text>
<line x1="29.2" y1="46.1" x2="39.8" y2="46.1" stroke="#1e6fe6" stroke-width="2.2"/>
<text x="46.2" y="48.7" font-size="8.6" fill="#000">Co<tspan font-size="5.6" dy="-3.3">2+</tspan></text>
<line x1="29.2" y1="146.0" x2="39.8" y2="146.0" stroke="#c86ee6" stroke-width="2.2"/>
<text x="46.2" y="148.6" font-size="8.6" fill="#000">Co<tspan font-size="5.6" dy="-3.3">3+</tspan></text>
<line x1="29.2" y1="158.5" x2="39.8" y2="158.5" stroke="#1e6fe6" stroke-width="2.2"/>
<text x="46.2" y="161.1" font-size="8.6" fill="#000">Co<tspan font-size="5.6" dy="-3.3">2+</tspan></text>
<line x1="205.8" y1="33.6" x2="216.4" y2="33.6" stroke="#f01818" stroke-width="2.2"/>
<text x="222.8" y="36.2" font-size="8.6" fill="#000">Ni<tspan font-size="5.6" dy="-3.3">2+</tspan></text>
<line x1="205.8" y1="146.1" x2="216.4" y2="146.1" stroke="#f01818" stroke-width="2.2"/>
<text x="222.8" y="148.7" font-size="8.6" fill="#000">Ni<tspan font-size="5.6" dy="-3.3">2+</tspan></text>
<line x1="382.6" y1="33.7" x2="393.2" y2="33.7" stroke="#1aa8dc" stroke-width="2.2"/>
<text x="399.6" y="36.3" font-size="8.6" fill="#000">Mn<tspan font-size="5.6" dy="-3.3">2+</tspan></text>
<line x1="382.6" y1="46.1" x2="393.2" y2="46.1" stroke="#1a6ff0" stroke-width="2.2"/>
<text x="399.6" y="48.7" font-size="8.6" fill="#000">Mn<tspan font-size="5.6" dy="-3.3">3+</tspan></text>
<line x1="382.6" y1="58.5" x2="393.2" y2="58.5" stroke="#c8621a" stroke-width="2.2"/>
<text x="399.6" y="61.1" font-size="8.6" fill="#000">Mn<tspan font-size="5.6" dy="-3.3">4+</tspan></text>
<line x1="382.6" y1="146.2" x2="393.2" y2="146.2" stroke="#1aa8dc" stroke-width="2.2"/>
<text x="399.6" y="148.8" font-size="8.6" fill="#000">Mn<tspan font-size="5.6" dy="-3.3">2+</tspan></text>
<line x1="382.6" y1="158.1" x2="393.2" y2="158.1" stroke="#1a6ff0" stroke-width="2.2"/>
<text x="399.6" y="160.7" font-size="8.6" fill="#000">Mn<tspan font-size="5.6" dy="-3.3">3+</tspan></text>
<line x1="382.6" y1="170.1" x2="393.2" y2="170.1" stroke="#c8621a" stroke-width="2.2"/>
<text x="399.6" y="172.7" font-size="8.6" fill="#000">Mn<tspan font-size="5.6" dy="-3.3">4+</tspan></text>
<text x="120.3" y="16.4" font-size="9.3" fill="#000">2p<tspan font-size="6.2" dy="1.9">3/2</tspan></text>
<text x="70.9" y="82.4" font-size="9.3" fill="#000">2p<tspan font-size="6.2" dy="1.9">1/2</tspan></text>
<text x="46.6" y="106.6" font-size="9.3" fill="#000">Sat</text>
<text x="111.5" y="88.0" font-size="9.3" fill="#000">Sat</text>
<text x="120.3" y="151.5" font-size="9.3" fill="#000">2p<tspan font-size="6.2" dy="1.9">3/2</tspan></text>
<text x="70.9" y="216.4" font-size="9.3" fill="#000">2p<tspan font-size="6.2" dy="1.9">1/2</tspan></text>
<text x="46.6" y="241.7" font-size="9.3" fill="#000">Sat</text>
<text x="111.6" y="225.1" font-size="9.3" fill="#000">Sat</text>
<text x="310.9" y="17.5" font-size="9.3" fill="#000">2p<tspan font-size="6.2" dy="1.9">3/2</tspan></text>
<text x="238.7" y="89.6" font-size="9.3" fill="#000">2p<tspan font-size="6.2" dy="1.9">1/2</tspan></text>
<text x="213.3" y="108.4" font-size="9.3" fill="#000">Sat</text>
<text x="288.4" y="82.3" font-size="9.3" fill="#000">Sat</text>
<text x="310.9" y="148.4" font-size="9.3" fill="#000">2p<tspan font-size="6.2" dy="1.9">3/2</tspan></text>
<text x="238.4" y="221.6" font-size="9.3" fill="#000">2p<tspan font-size="6.2" dy="1.9">1/2</tspan></text>
<text x="213.3" y="242.4" font-size="9.3" fill="#000">Sat</text>
<text x="288.6" y="220.5" font-size="9.3" fill="#000">Sat</text>
<text x="487.2" y="21.4" font-size="9.3" fill="#000">2p<tspan font-size="6.2" dy="1.9">3/2</tspan></text>
<text x="415.6" y="78.7" font-size="9.3" fill="#000">2p<tspan font-size="6.2" dy="1.9">1/2</tspan></text>
<text x="487.2" y="147.7" font-size="9.3" fill="#000">2p<tspan font-size="6.2" dy="1.9">3/2</tspan></text>
<text x="412.3" y="206.7" font-size="9.3" fill="#000">2p<tspan font-size="6.2" dy="1.9">1/2</tspan></text>
</svg></body></html>
